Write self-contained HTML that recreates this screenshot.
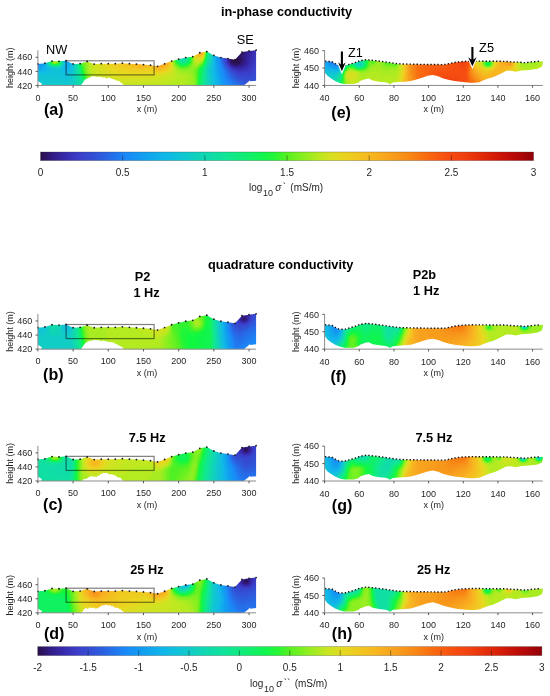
<!DOCTYPE html><html><head><meta charset="utf-8"><title>conductivity</title><style>html,body{margin:0;padding:0;background:#fff;overflow:hidden}svg{display:block}</style></head><body><svg width="550" height="696" viewBox="0 0 550 696" font-family="'Liberation Sans', Arial, sans-serif">
<rect width="550" height="696" fill="#fff"/>
<defs><clipPath id="ca"><polygon points="37.9,63.95 44.94,63.25 51.98,61.05 59.02,61.35 66.05,60.75 73.09,63.95 80.13,63.65 87.17,61.45 94.21,64.05 101.25,63.65 108.29,63.65 115.33,63.65 122.36,63.15 129.4,63.65 136.44,64.05 143.48,64.55 150.52,65.15 157.56,66.35 164.6,63.85 171.64,61.05 178.67,59.15 185.71,57.55 192.75,56.65 199.79,52.75 206.83,51.55 213.87,55.45 220.91,57.55 227.94,58.55 234.98,59.65 242.02,52.05 249.06,50.95 256.1,50.15 256.1,80.65 250.5,81.25 249.6,80.45 248.5,81.75 244.7,84.75 244,85.55 124,85.55 123,84.25 122.17,83.46 121.33,82.48 120.5,82.45 119.55,81.32 118.6,81.25 117.7,80.55 116.8,80.16 115.9,80.69 115,79.47 114.1,79.63 113.2,79.05 112.28,79.08 111.37,78.26 110.45,78.15 109.53,77.99 108.62,77.53 107.7,78.05 106.8,78.42 105.9,78.19 105,77.56 104.1,77.07 103.2,77.76 102.3,77.25 101.38,77.22 100.47,76.71 99.55,76.78 98.63,76.7 97.72,77.19 96.8,76.65 95.9,76.62 95,76.81 94.1,75.98 93.2,76.42 92.3,76.08 91.4,76.95 90.58,76.53 89.75,77.83 88.92,78.08 88.1,77.85 87.23,78.44 86.37,78.94 85.5,79.25 84.6,80.01 83.7,81.25 82.85,82.94 82,83.75 81,85.55 41,85.55 42,83.65 37.9,81.05"/></clipPath><clipPath id="cb"><polygon points="37.9,327.65 44.94,326.95 51.98,324.75 59.02,325.05 66.05,324.45 73.09,327.65 80.13,327.35 87.17,325.15 94.21,327.75 101.25,327.35 108.29,327.35 115.33,327.35 122.36,326.85 129.4,327.35 136.44,327.75 143.48,328.25 150.52,328.85 157.56,330.05 164.6,327.55 171.64,324.75 178.67,322.85 185.71,321.25 192.75,320.35 199.79,316.45 206.83,315.25 213.87,319.15 220.91,321.25 227.94,322.25 234.98,323.35 242.02,315.75 249.06,314.65 256.1,313.85 256.1,344.35 250.5,344.95 249.6,344.15 248.5,345.45 244.7,348.45 244,349.25 124,349.25 123,347.95 122.17,346.69 121.33,346.64 120.5,346.15 119.55,345.89 118.6,344.95 117.7,344.57 116.8,344.68 115.9,343.76 115,343.84 114.1,342.46 113.2,342.75 112.28,342.33 111.37,342.27 110.45,341.98 109.53,342.31 108.62,341.87 107.7,341.75 106.8,341.15 105.9,341.81 105,340.54 104.1,341.08 103.2,340.27 102.3,340.95 101.38,341.05 100.47,340.7 99.55,340.41 98.63,340.2 97.72,339.97 96.8,340.35 95.9,339.76 95,340.44 94.1,339.94 93.2,339.65 92.3,340.83 91.4,340.65 90.58,340.73 89.75,340.78 88.92,341.31 88.1,341.55 87.23,341.77 86.37,342.57 85.5,342.95 84.6,344.28 83.7,344.95 82.85,346.6 82,347.45 81,349.25 41,349.25 42,347.35 37.9,344.75"/></clipPath><clipPath id="cc"><polygon points="37.9,459.5 44.94,458.8 51.98,456.6 59.02,456.9 66.05,456.3 73.09,459.5 80.13,459.2 87.17,457 94.21,459.6 101.25,459.2 108.29,459.2 115.33,459.2 122.36,458.7 129.4,459.2 136.44,459.6 143.48,460.1 150.52,460.7 157.56,461.9 164.6,459.4 171.64,456.6 178.67,454.7 185.71,453.1 192.75,452.2 199.79,448.3 206.83,447.1 213.87,451 220.91,453.1 227.94,454.1 234.98,455.2 242.02,447.6 249.06,446.5 256.1,445.7 256.1,476.2 250.5,476.8 249.6,476 248.5,477.3 244.7,480.3 244,481.1 124,481.1 122.95,480.38 121.9,479.6 121.08,478.27 120.25,477.66 119.42,477.56 118.6,477.5 117.7,477.13 116.8,477.05 115.9,475.22 115,475.83 114.1,475.22 113.2,474.7 112.38,474.49 111.55,474.44 110.73,474.13 109.9,474.2 109.02,474.24 108.14,473.89 107.26,472.65 106.38,472.94 105.5,473.1 104.64,472.93 103.78,472.76 102.92,473.35 102.06,473.47 101.2,474.2 100.32,474.08 99.44,475.4 98.56,475.91 97.68,475.56 96.8,476.9 95.97,477.31 95.15,476.36 94.33,477.04 93.5,476.4 92.64,476.55 91.78,476.06 90.92,476.56 90.06,476.52 89.2,476.9 88.32,477.62 87.44,478.18 86.56,478.64 85.68,479.11 84.8,479.1 83.85,479.11 82.9,479.96 81.95,481 81,481.1 41,481.1 42,479.2 37.9,476.6"/></clipPath><clipPath id="cd"><polygon points="37.9,591.35 44.94,590.65 51.98,588.45 59.02,588.75 66.05,588.15 73.09,591.35 80.13,591.05 87.17,588.85 94.21,591.45 101.25,591.05 108.29,591.05 115.33,591.05 122.36,590.55 129.4,591.05 136.44,591.45 143.48,591.95 150.52,592.55 157.56,593.75 164.6,591.25 171.64,588.45 178.67,586.55 185.71,584.95 192.75,584.05 199.79,580.15 206.83,578.95 213.87,582.85 220.91,584.95 227.94,585.95 234.98,587.05 242.02,579.45 249.06,578.35 256.1,577.55 256.1,608.05 250.5,608.65 249.6,607.85 248.5,609.15 244.7,612.15 244,612.95 124,612.95 123,611.05 122.12,610.63 121.24,610.4 120.36,608.64 119.48,609.37 118.6,608.35 117.79,607.81 116.97,607.74 116.16,607.76 115.35,607.66 114.54,607.26 113.72,607.2 112.91,605.59 112.1,606.15 111.18,606.18 110.27,605.15 109.35,605.05 108.43,605.68 107.52,604.94 106.6,604.85 105.53,604.85 104.47,605.24 103.4,605.55 102.58,605.01 101.75,605.43 100.92,606.41 100.1,606.57 99.28,607.26 98.45,607.44 97.62,608.37 96.8,608.35 95.9,608.76 95,608.2 94.1,608.04 93.2,607.61 92.3,607.9 91.4,607.75 90.58,607.91 89.75,607.32 88.92,608.08 88.1,608.65 87.28,608.71 86.45,608.33 85.62,608.1 84.8,608.85 83.97,609.29 83.15,610.88 82.33,611.41 81.5,612.95 41,612.95 42,611.05 37.9,608.45"/></clipPath><clipPath id="ce"><polygon points="324.6,61.3 332,61.8 335.6,64 339.3,65.8 344.7,65.8 349.3,64.5 355.6,62.7 360.2,60.8 366.5,59.9 372.4,60.45 378.2,61.15 384,61.95 389.8,62.75 395.6,63.65 400,64.15 420,64.55 445.5,64.85 451.8,63.1 459,62 465.5,61.5 470,61.3 505,61.55 515,62.35 520,62.35 524.6,63.15 530,62.25 542.8,61.15 542.8,63.85 541.8,66.85 537.7,68.85 529.5,70.05 521.4,70.55 515.6,71.75 510.9,70.75 506.4,70.85 501.8,73.15 497.3,75.35 492.7,77.25 488.2,78.55 483.6,80.35 479.1,82.15 474.5,82.65 470,82.65 465.5,82.25 460.9,81.75 456.4,81.25 451.8,80.45 447.3,79.45 442.7,78.15 438.2,76.25 432.7,74.95 427.5,75.85 423.6,77.15 417.3,79.15 410.9,81.05 404.5,81.65 398.2,82.05 393.1,82.45 391.5,83.25 389.9,84.25 388.5,83.25 385.5,82.25 379.1,81.65 372.7,80.45 368.9,78.45 365.1,79.15 362.9,80.05 360,81.05 358.4,82.65 353.8,84.05 344.7,84.05 340.2,83.15 335.6,81.25 331.1,78.55 327.5,75.85 324.6,72.15"/></clipPath><clipPath id="cf"><polygon points="324.6,325 332,325.5 335.6,327.7 339.3,329.5 344.7,329.5 349.3,328.2 355.6,326.4 360.2,324.5 366.5,323.6 372.4,324.15 378.2,324.85 384,325.65 389.8,326.45 395.6,327.35 400,327.85 420,328.25 445.5,328.55 451.8,326.8 459,325.7 465.5,325.2 470,325 505,325.25 515,326.05 520,326.05 524.6,326.85 530,325.95 542.8,324.85 542.8,327.55 541.8,330.55 537.7,332.55 529.5,333.75 521.4,334.25 515.6,335.45 510.9,334.45 506.4,334.55 501.8,336.85 497.3,339.05 492.7,340.95 488.2,342.25 483.6,344.05 479.1,345.85 474.5,346.35 470,346.35 465.5,345.95 460.9,345.45 456.4,344.95 451.8,344.15 447.3,343.15 442.7,341.85 438.2,339.95 432.7,338.65 427.5,339.55 423.6,340.85 417.3,342.85 410.9,344.75 404.5,345.35 398.2,345.75 393.1,346.15 391.5,346.95 389.9,347.95 388.5,346.95 385.5,345.95 379.1,345.35 372.7,344.15 368.9,342.15 365.1,342.85 362.9,343.75 360,344.75 358.4,346.35 353.8,347.75 344.7,347.75 340.2,346.85 335.6,344.95 331.1,342.25 327.5,339.55 324.6,335.85"/></clipPath><clipPath id="cg"><polygon points="324.6,456.85 332,457.35 335.6,459.55 339.3,461.35 344.7,461.35 349.3,460.05 355.6,458.25 360.2,456.35 366.5,455.45 372.4,456 378.2,456.7 384,457.5 389.8,458.3 395.6,459.2 400,459.7 420,460.1 445.5,460.4 451.8,458.65 459,457.55 465.5,457.05 470,456.85 505,457.1 515,457.9 520,457.9 524.6,458.7 530,457.8 542.8,456.7 542.8,459.4 541.8,462.4 537.7,464.4 529.5,465.6 521.4,466.1 515.6,467.3 510.9,466.3 506.4,466.4 501.8,468.7 497.3,470.9 492.7,472.8 488.2,474.1 483.6,475.9 479.1,477.7 474.5,478.2 470,478.2 465.5,477.8 460.9,477.3 456.4,476.8 451.8,476 447.3,475 442.7,473.7 438.2,471.8 432.7,470.5 427.5,471.4 423.6,472.7 417.3,474.7 410.9,476.6 404.5,477.2 398.2,477.6 393.1,478 391.5,478.8 389.9,479.8 388.5,478.8 385.5,477.8 379.1,477.2 372.7,476 368.9,474 365.1,474.7 362.9,475.6 360,476.6 358.4,478.2 353.8,479.6 344.7,479.6 340.2,478.7 335.6,476.8 331.1,474.1 327.5,471.4 324.6,467.7"/></clipPath><clipPath id="ch"><polygon points="324.6,588.7 332,589.2 335.6,591.4 339.3,593.2 344.7,593.2 349.3,591.9 355.6,590.1 360.2,588.2 366.5,587.3 372.4,587.85 378.2,588.55 384,589.35 389.8,590.15 395.6,591.05 400,591.55 420,591.95 445.5,592.25 451.8,590.5 459,589.4 465.5,588.9 470,588.7 505,588.95 515,589.75 520,589.75 524.6,590.55 530,589.65 542.8,588.55 542.8,591.25 541.8,594.25 537.7,596.25 529.5,597.45 521.4,597.95 515.6,599.15 510.9,598.15 506.4,598.25 501.8,600.55 497.3,602.75 492.7,604.65 488.2,605.95 483.6,607.75 479.1,609.55 474.5,610.05 470,610.05 465.5,609.65 460.9,609.15 456.4,608.65 451.8,607.85 447.3,606.85 442.7,605.55 438.2,603.65 432.7,602.35 427.5,603.25 423.6,604.55 417.3,606.55 410.9,608.45 404.5,609.05 398.2,609.45 393.1,609.85 391.5,610.65 389.9,611.65 388.5,610.65 385.5,609.65 379.1,609.05 372.7,607.85 368.9,605.85 365.1,606.55 362.9,607.45 360,608.45 358.4,610.05 353.8,611.45 344.7,611.45 340.2,610.55 335.6,608.65 331.1,605.95 327.5,603.25 324.6,599.55"/></clipPath><linearGradient id="g1"><stop offset="0.000" stop-color="#2a0e4a"/><stop offset="0.025" stop-color="#321c85"/><stop offset="0.050" stop-color="#372aab"/><stop offset="0.075" stop-color="#3c3bc7"/><stop offset="0.100" stop-color="#354bd1"/><stop offset="0.125" stop-color="#2d5cdd"/><stop offset="0.150" stop-color="#2372ec"/><stop offset="0.175" stop-color="#198af7"/><stop offset="0.200" stop-color="#1399f2"/><stop offset="0.225" stop-color="#10a8ed"/><stop offset="0.250" stop-color="#10b6e9"/><stop offset="0.275" stop-color="#10c1db"/><stop offset="0.300" stop-color="#10cbca"/><stop offset="0.325" stop-color="#10d5b6"/><stop offset="0.350" stop-color="#10dda5"/><stop offset="0.375" stop-color="#10e596"/><stop offset="0.400" stop-color="#10eb80"/><stop offset="0.425" stop-color="#10f068"/><stop offset="0.450" stop-color="#10f54f"/><stop offset="0.475" stop-color="#25f637"/><stop offset="0.500" stop-color="#58f020"/><stop offset="0.525" stop-color="#7df020"/><stop offset="0.550" stop-color="#a5eb20"/><stop offset="0.575" stop-color="#c8e520"/><stop offset="0.600" stop-color="#e1db20"/><stop offset="0.625" stop-color="#edce20"/><stop offset="0.650" stop-color="#f3c120"/><stop offset="0.675" stop-color="#f8b420"/><stop offset="0.700" stop-color="#f8a61f"/><stop offset="0.725" stop-color="#f8971a"/><stop offset="0.750" stop-color="#f88615"/><stop offset="0.775" stop-color="#f87211"/><stop offset="0.800" stop-color="#f85e10"/><stop offset="0.825" stop-color="#f74d10"/><stop offset="0.850" stop-color="#f24410"/><stop offset="0.875" stop-color="#ea360d"/><stop offset="0.900" stop-color="#df2708"/><stop offset="0.925" stop-color="#d11908"/><stop offset="0.950" stop-color="#c00d08"/><stop offset="0.975" stop-color="#ad0708"/><stop offset="1.000" stop-color="#900008"/></linearGradient><linearGradient id="g2"><stop offset="0.000" stop-color="#2a0e4a"/><stop offset="0.025" stop-color="#321c85"/><stop offset="0.050" stop-color="#372aab"/><stop offset="0.075" stop-color="#3c3bc7"/><stop offset="0.100" stop-color="#354bd1"/><stop offset="0.125" stop-color="#2d5cdd"/><stop offset="0.150" stop-color="#2372ec"/><stop offset="0.175" stop-color="#198af7"/><stop offset="0.200" stop-color="#1399f2"/><stop offset="0.225" stop-color="#10a8ed"/><stop offset="0.250" stop-color="#10b6e9"/><stop offset="0.275" stop-color="#10c1db"/><stop offset="0.300" stop-color="#10cbca"/><stop offset="0.325" stop-color="#10d5b6"/><stop offset="0.350" stop-color="#10dda5"/><stop offset="0.375" stop-color="#10e596"/><stop offset="0.400" stop-color="#10eb80"/><stop offset="0.425" stop-color="#10f068"/><stop offset="0.450" stop-color="#10f54f"/><stop offset="0.475" stop-color="#25f637"/><stop offset="0.500" stop-color="#58f020"/><stop offset="0.525" stop-color="#7df020"/><stop offset="0.550" stop-color="#a5eb20"/><stop offset="0.575" stop-color="#c8e520"/><stop offset="0.600" stop-color="#e1db20"/><stop offset="0.625" stop-color="#edce20"/><stop offset="0.650" stop-color="#f3c120"/><stop offset="0.675" stop-color="#f8b420"/><stop offset="0.700" stop-color="#f8a61f"/><stop offset="0.725" stop-color="#f8971a"/><stop offset="0.750" stop-color="#f88615"/><stop offset="0.775" stop-color="#f87211"/><stop offset="0.800" stop-color="#f85e10"/><stop offset="0.825" stop-color="#f74d10"/><stop offset="0.850" stop-color="#f24410"/><stop offset="0.875" stop-color="#ea360d"/><stop offset="0.900" stop-color="#df2708"/><stop offset="0.925" stop-color="#d11908"/><stop offset="0.950" stop-color="#c00d08"/><stop offset="0.975" stop-color="#ad0708"/><stop offset="1.000" stop-color="#900008"/></linearGradient></defs>
<g clip-path="url(#ca)" stroke-width="1">
<path stroke="#2a0e4a" d="M232.5 58v3M233.5 57v6M234.5 58v5M235.5 57v6M236.5 57v6M237.5 58v5M238.5 59v4"/>
<path stroke="#2d135e" d="M231.5 57v6M232.5 57v1M232.5 61v3M233.5 63v1M234.5 63v2M235.5 63v2M236.5 56v1M236.5 63v2M237.5 55v3M237.5 63v2M238.5 54v5M238.5 63v1M239.5 53v11M240.5 52v11M241.5 51v4M241.5 58v4M242.5 50v3"/>
<path stroke="#301872" d="M230.5 57v6M231.5 63v1M232.5 64v1M233.5 64v1M235.5 65v1M236.5 65v1M237.5 65v1M238.5 64v1M239.5 64v1M240.5 63v2M241.5 55v3M241.5 62v2M242.5 53v10M243.5 50v11M244.5 50v3"/>
<path stroke="#321b82" d="M229.5 58v4M230.5 63v1M231.5 64v1M233.5 65v1M234.5 65v1M238.5 65v1M239.5 65v1M240.5 65v1M241.5 64v2M242.5 63v2M243.5 61v3M244.5 53v10M245.5 50v7M246.5 49v4"/>
<path stroke="#331f93" d="M229.5 57v1M229.5 62v1M230.5 64v1M231.5 65v1M232.5 65v1M233.5 66v1M234.5 66v1M235.5 66v1M236.5 66v1M237.5 66v1M238.5 66v1M239.5 66v1M240.5 66v1M241.5 66v1M242.5 65v1M243.5 64v2M244.5 63v2M245.5 57v7M246.5 53v9M247.5 49v7M248.5 49v4"/>
<path stroke="#35239f" d="M228.5 58v4M229.5 63v1M232.5 66v1M234.5 67v1M235.5 67v1M236.5 67v1M237.5 67v1M238.5 67v1M239.5 67v1M240.5 67v1M241.5 67v1M242.5 66v1M243.5 66v1M244.5 65v1M245.5 64v2M246.5 62v3M247.5 56v7M248.5 53v8M249.5 49v8M250.5 49v4"/>
<path stroke="#3628a8" d="M228.5 57v1M228.5 62v1M229.5 64v1M230.5 65v1M231.5 66v1M233.5 67v1M235.5 68v1M236.5 68v1M237.5 68v1M238.5 68v1M239.5 68v1M240.5 68v1M241.5 68v1M242.5 67v2M243.5 67v1M244.5 66v2M245.5 66v1M246.5 65v2M247.5 63v3M248.5 61v4M249.5 57v6M250.5 53v7M251.5 49v7M252.5 49v4M253.5 48v3"/>
<path stroke="#382eb1" d="M227.5 58v4M228.5 63v1M229.5 65v1M230.5 66v1M232.5 67v1M233.5 68v1M234.5 68v1M236.5 69v1M237.5 69v1M238.5 69v1M239.5 69v2M240.5 69v2M241.5 69v1M242.5 69v1M243.5 68v2M244.5 68v1M245.5 67v2M246.5 67v2M247.5 66v2M248.5 65v2M249.5 63v3M250.5 60v5M251.5 56v6M252.5 53v6M253.5 51v5M254.5 48v6M255.5 48v4M256.5 49v1"/>
<path stroke="#3933b9" d="M227.5 56v2M227.5 62v1M228.5 64v1M231.5 67v1M232.5 68v1M234.5 69v1M235.5 69v1M237.5 70v1M238.5 70v1M239.5 71v1M240.5 71v1M241.5 70v2M242.5 70v1M243.5 70v1M244.5 69v2M245.5 69v2M246.5 69v1M247.5 68v2M248.5 67v3M249.5 66v3M250.5 65v3M251.5 62v4M252.5 59v5M253.5 56v6M254.5 54v5M255.5 52v5M256.5 50v5M257.5 50v5"/>
<path stroke="#3b38c2" d="M226.5 58v4M227.5 63v1M228.5 65v1M229.5 66v1M230.5 67v1M231.5 68v1M233.5 69v1M235.5 70v1M236.5 70v1M237.5 71v1M238.5 71v1M239.5 72v1M240.5 72v1M241.5 72v1M242.5 71v2M243.5 71v2M244.5 71v1M245.5 71v1M246.5 70v2M247.5 70v2M248.5 70v2M249.5 69v2M250.5 68v3M251.5 66v4M252.5 64v4M253.5 62v4M254.5 59v5M255.5 57v5M256.5 55v5M257.5 55v5"/>
<path stroke="#3b3ec9" d="M226.5 56v2M226.5 62v1M227.5 64v1M229.5 67v1M232.5 69v1M233.5 70v1M234.5 70v1M235.5 71v1M236.5 71v1M237.5 72v1M238.5 72v2M239.5 73v1M240.5 73v1M241.5 73v1M242.5 73v1M243.5 73v1M244.5 72v2M245.5 72v2M246.5 72v2M247.5 72v2M248.5 72v2M249.5 71v2M250.5 71v2M251.5 70v2M252.5 68v3M253.5 66v4M254.5 64v4M255.5 62v4M256.5 60v5M257.5 60v4"/>
<path stroke="#3942cc" d="M225.5 58v3M226.5 63v1M227.5 65v1M228.5 66v1M230.5 68v1M231.5 69v1M232.5 70v1M234.5 71v1M235.5 72v1M236.5 72v2M237.5 73v1M238.5 74v1M239.5 74v1M240.5 74v2M241.5 74v2M242.5 74v2M243.5 74v2M244.5 74v2M245.5 74v2M246.5 74v2M247.5 74v2M248.5 74v2M249.5 73v3M250.5 73v2M251.5 72v3M252.5 71v3M253.5 70v3M254.5 68v4M255.5 66v4M256.5 65v4M257.5 64v5"/>
<path stroke="#3747cf" d="M225.5 56v2M225.5 61v2M226.5 64v1M227.5 66v1M228.5 67v1M229.5 68v1M230.5 69v1M231.5 70v1M232.5 71v1M233.5 71v1M234.5 72v1M235.5 73v1M236.5 74v1M237.5 74v2M238.5 75v1M239.5 75v2M240.5 76v1M241.5 76v1M242.5 76v1M243.5 76v2M244.5 76v2M245.5 76v2M246.5 76v2M247.5 76v2M248.5 76v2M249.5 76v2M250.5 75v3M251.5 75v2M252.5 74v3M253.5 73v3M254.5 72v3M255.5 70v4M256.5 69v5M257.5 69v4"/>
<path stroke="#344cd2" d="M224.5 58v3M225.5 63v1M226.5 65v1M228.5 68v1M229.5 69v1M230.5 70v1M231.5 71v1M233.5 72v2M234.5 73v2M235.5 74v2M236.5 75v1M237.5 76v1M238.5 76v2M239.5 77v1M240.5 77v2M241.5 77v2M242.5 77v2M243.5 78v1M244.5 78v2M245.5 78v2M246.5 78v2M247.5 78v2M248.5 78v2M249.5 78v2M250.5 78v2M251.5 77v3M252.5 77v3M253.5 76v3M254.5 75v4M255.5 74v5M256.5 74v4M257.5 73v5"/>
<path stroke="#3251d5" d="M224.5 56v2M224.5 61v2M225.5 64v1M226.5 66v1M227.5 67v1M231.5 72v1M232.5 72v2M233.5 74v1M234.5 75v1M235.5 76v1M236.5 76v2M237.5 77v1M238.5 78v1M239.5 78v2M240.5 79v1M241.5 79v1M242.5 79v2M243.5 79v2M244.5 80v2M245.5 80v2M246.5 80v2M247.5 80v2M248.5 80v2M249.5 80v3M250.5 80v3M251.5 80v3M252.5 80v3M253.5 79v4M254.5 79v4M255.5 79v4M256.5 78v4M257.5 78v3"/>
<path stroke="#3056d9" d="M223.5 57v4M224.5 63v1M225.5 65v1M226.5 67v1M227.5 68v1M228.5 69v1M229.5 70v1M230.5 71v2M231.5 73v1M232.5 74v1M233.5 75v2M234.5 76v2M235.5 77v1M236.5 78v1M237.5 78v2M238.5 79v2M239.5 80v1M240.5 80v2M241.5 80v2M242.5 81v1M243.5 81v2M244.5 82v2M245.5 82v2M246.5 82v2M247.5 82v3M248.5 82v2"/>
<path stroke="#2c5ddd" d="M223.5 56v1M223.5 61v2M224.5 64v2M225.5 66v1M226.5 68v1M227.5 69v1M228.5 70v1M229.5 71v2M230.5 73v1M231.5 74v2M232.5 75v2M233.5 77v1M234.5 78v1M235.5 78v2M236.5 79v2M237.5 80v1M238.5 81v1M239.5 81v2M240.5 82v1M241.5 82v2M242.5 82v2M243.5 83v2M244.5 84v2M245.5 84v2M246.5 84v1"/>
<path stroke="#2964e2" d="M222.5 56v5M223.5 63v2M224.5 66v1M225.5 67v1M226.5 69v1M227.5 70v1M228.5 71v2M229.5 73v1M230.5 74v2M231.5 76v1M232.5 77v2M233.5 78v2M234.5 79v2M235.5 80v1M236.5 81v1M237.5 81v2M238.5 82v1M239.5 83v1M240.5 83v2M241.5 84v1M242.5 84v4M243.5 85v3M244.5 86v1"/>
<path stroke="#266be7" d="M222.5 61v3M223.5 65v1M224.5 67v1M225.5 68v2M226.5 70v1M227.5 71v2M228.5 73v2M229.5 74v3M230.5 76v2M231.5 77v2M232.5 79v1M233.5 80v1M234.5 81v1M235.5 81v2M236.5 82v2M237.5 83v1M238.5 83v2M239.5 84v2M240.5 85v3M241.5 85v3"/>
<path stroke="#2372ec" d="M221.5 56v6M222.5 64v1M223.5 66v2M224.5 68v2M225.5 70v1M226.5 71v2M227.5 73v2M228.5 75v2M229.5 77v2M230.5 78v2M231.5 79v2M232.5 80v2M233.5 81v2M234.5 82v2M235.5 83v1M236.5 84v1M237.5 84v4M238.5 85v3M239.5 86v2"/>
<path stroke="#2079f0" d="M221.5 62v2M222.5 65v2M223.5 68v1M224.5 70v1M225.5 71v3M226.5 73v3M227.5 75v3M228.5 77v3M229.5 79v2M230.5 80v2M231.5 81v2M232.5 82v2M233.5 83v2M234.5 84v2M235.5 84v4M236.5 85v3"/>
<path stroke="#1c82f5" d="M220.5 55v8M221.5 64v2M222.5 67v2M223.5 69v2M224.5 71v3M225.5 74v3M226.5 76v4M227.5 78v3M228.5 80v3M229.5 81v3M230.5 82v3M231.5 83v3M232.5 84v4M233.5 85v3M234.5 86v2"/>
<path stroke="#1989f8" d="M36.5 64v1M37.5 63v2M38.5 62v2M219.5 55v6M220.5 63v3M221.5 66v3M222.5 69v2M223.5 71v4M224.5 74v4M225.5 77v4M226.5 80v3M227.5 81v3M228.5 83v3M229.5 84v4M230.5 85v3M231.5 86v2"/>
<path stroke="#188ef6" d="M36.5 65v1M37.5 65v1M38.5 64v1M39.5 62v3M40.5 62v1M219.5 61v3M220.5 66v2M221.5 69v2M222.5 71v4M223.5 75v3M224.5 78v4M225.5 81v4M226.5 83v5M227.5 84v4M228.5 86v2"/>
<path stroke="#1693f4" d="M38.5 65v1M39.5 65v1M40.5 63v2M218.5 55v8M219.5 64v3M220.5 68v3M221.5 71v4M222.5 75v4M223.5 78v4M224.5 82v6M225.5 85v3"/>
<path stroke="#1497f3" d="M36.5 66v1M37.5 66v1M38.5 66v1M40.5 65v1M41.5 62v3M217.5 55v6M218.5 63v3M219.5 67v4M220.5 71v4M221.5 75v4M222.5 79v3M223.5 82v6"/>
<path stroke="#129cf1" d="M36.5 67v1M37.5 67v1M38.5 67v1M39.5 66v1M40.5 66v1M41.5 65v1M42.5 61v4M217.5 61v4M218.5 66v4M219.5 71v3M220.5 75v3M221.5 79v3M222.5 82v6"/>
<path stroke="#10a0f0" d="M36.5 68v1M37.5 68v1M38.5 68v1M39.5 67v1M40.5 67v1M41.5 66v1M42.5 65v1M66.5 59v2M67.5 59v2M216.5 54v9M217.5 65v4M218.5 70v4M219.5 74v4M220.5 78v4M221.5 82v6"/>
<path stroke="#10a5ee" d="M36.5 69v1M39.5 68v1M40.5 68v1M41.5 67v1M42.5 66v2M43.5 61v5M65.5 59v1M66.5 61v1M67.5 61v2M68.5 60v3M216.5 63v5M217.5 69v5M218.5 74v4M219.5 78v4M220.5 82v6"/>
<path stroke="#10aaed" d="M37.5 69v1M38.5 69v1M39.5 69v1M40.5 69v1M41.5 68v1M42.5 68v1M43.5 66v2M65.5 60v1M66.5 62v4M67.5 63v3M68.5 63v2M69.5 60v3M215.5 54v11M216.5 68v5M217.5 74v4M218.5 78v4M219.5 82v6"/>
<path stroke="#10aeeb" d="M36.5 70v1M37.5 70v1M38.5 70v1M39.5 70v1M41.5 69v1M42.5 69v1M43.5 68v1M44.5 61v8M65.5 61v1M65.5 65v3M66.5 66v3M67.5 66v2M68.5 65v2M69.5 63v2M70.5 61v2M215.5 65v8M216.5 73v4M217.5 78v4M218.5 82v6"/>
<path stroke="#10b3ea" d="M36.5 71v1M37.5 71v1M38.5 71v1M39.5 71v1M40.5 70v1M41.5 70v1M42.5 70v1M43.5 69v2M44.5 69v1M45.5 65v5M64.5 59v1M64.5 67v2M65.5 62v3M65.5 68v2M66.5 69v1M67.5 68v2M68.5 67v2M69.5 65v2M70.5 63v2M214.5 60v12M215.5 73v4M216.5 77v4M217.5 82v6"/>
<path stroke="#10b7e8" d="M36.5 72v1M37.5 72v1M38.5 72v1M40.5 71v1M41.5 71v1M42.5 71v1M43.5 71v1M44.5 70v1M45.5 64v1M45.5 70v1M46.5 66v4M47.5 68v1M64.5 60v1M64.5 65v2M64.5 69v2M65.5 70v2M66.5 70v2M67.5 70v1M68.5 69v1M69.5 67v2M70.5 65v2M71.5 61v3M214.5 54v6M214.5 72v4M215.5 77v4M216.5 81v5"/>
<path stroke="#10bbe4" d="M39.5 72v1M40.5 72v1M41.5 72v1M42.5 72v1M43.5 72v1M44.5 71v1M45.5 61v3M45.5 71v1M46.5 70v2M47.5 67v1M47.5 69v2M48.5 68v3M63.5 67v5M64.5 61v1M64.5 64v1M64.5 71v2M65.5 72v1M66.5 72v1M67.5 71v1M68.5 70v2M69.5 69v2M70.5 67v2M71.5 64v3M213.5 64v11M214.5 76v5M215.5 81v5M216.5 86v2"/>
<path stroke="#10bedf" d="M36.5 73v1M37.5 73v1M38.5 73v1M39.5 73v1M40.5 73v1M41.5 73v1M42.5 73v1M43.5 73v1M44.5 72v2M45.5 72v1M46.5 65v1M46.5 72v1M47.5 66v1M47.5 71v2M48.5 67v1M48.5 71v2M49.5 68v4M50.5 69v3M51.5 70v1M61.5 69v3M62.5 68v6M63.5 59v1M63.5 66v1M63.5 72v2M64.5 62v2M64.5 73v2M65.5 73v3M66.5 73v2M67.5 72v2M68.5 72v1M69.5 71v1M70.5 69v2M71.5 67v2M72.5 62v3M212.5 68v6M213.5 57v7M213.5 75v5M214.5 81v4M215.5 86v2"/>
<path stroke="#10c1da" d="M36.5 74v2M37.5 74v2M38.5 74v2M39.5 74v2M40.5 74v2M41.5 74v2M42.5 74v2M43.5 74v2M44.5 74v1M45.5 73v2M46.5 64v1M46.5 73v2M47.5 73v2M48.5 73v2M49.5 67v1M49.5 72v3M50.5 68v1M50.5 72v3M51.5 69v1M51.5 71v4M52.5 69v5M53.5 69v5M54.5 69v5M55.5 70v4M56.5 70v4M57.5 70v4M58.5 70v4M59.5 70v5M60.5 69v6M61.5 68v1M61.5 72v4M62.5 67v1M62.5 74v3M63.5 65v1M63.5 74v3M64.5 75v3M65.5 76v2M66.5 75v3M67.5 74v3M68.5 73v3M69.5 72v2M70.5 71v2M71.5 69v2M72.5 65v3M211.5 69v3M212.5 64v4M212.5 74v5M213.5 53v4M213.5 80v5M214.5 85v3"/>
<path stroke="#10c4d6" d="M36.5 76v3M37.5 76v3M38.5 76v3M39.5 76v3M40.5 76v3M41.5 76v3M42.5 76v3M43.5 76v3M44.5 75v4M45.5 75v4M46.5 61v1M46.5 63v1M46.5 75v4M47.5 65v1M47.5 75v4M48.5 66v1M48.5 75v4M49.5 75v4M50.5 75v4M51.5 68v1M51.5 75v4M52.5 68v1M52.5 74v4M53.5 74v4M54.5 74v4M55.5 69v1M55.5 74v5M56.5 69v1M56.5 74v5M57.5 69v1M57.5 74v5M58.5 69v1M58.5 74v5M59.5 69v1M59.5 75v4M60.5 68v1M60.5 75v4M61.5 67v1M61.5 76v4M62.5 66v1M62.5 77v3M63.5 60v1M63.5 77v3M64.5 78v3M65.5 78v3M66.5 78v3M67.5 77v3M68.5 76v3M69.5 74v4M70.5 73v3M71.5 71v2M72.5 68v3M73.5 62v3M211.5 66v3M211.5 72v6M212.5 60v4M212.5 79v6M213.5 85v3"/>
<path stroke="#10c7d1" d="M36.5 79v2M37.5 79v3M38.5 79v4M39.5 79v4M40.5 79v4M41.5 79v4M42.5 79v4M43.5 79v4M44.5 79v4M45.5 79v4M46.5 62v1M46.5 79v4M47.5 79v4M48.5 79v4M49.5 79v4M50.5 67v1M50.5 79v4M51.5 79v4M52.5 78v5M53.5 68v1M53.5 78v5M54.5 68v1M54.5 78v5M55.5 68v1M55.5 79v4M56.5 68v1M56.5 79v4M57.5 68v1M57.5 79v4M58.5 68v1M58.5 79v4M59.5 68v1M59.5 79v4M60.5 79v4M61.5 80v3M62.5 80v3M63.5 64v1M63.5 80v3M64.5 81v3M65.5 81v3M66.5 81v3M67.5 80v3M68.5 79v4M69.5 78v4M70.5 76v5M71.5 73v6M72.5 71v3M73.5 65v4M210.5 67v10M211.5 64v2M211.5 78v6M212.5 57v3M212.5 85v3"/>
<path stroke="#10cacb" d="M39.5 83v1M39.5 85v1M40.5 83v4M41.5 83v5M42.5 83v5M43.5 83v5M44.5 83v5M45.5 83v5M46.5 83v5M47.5 60v1M47.5 64v1M47.5 83v5M48.5 83v5M49.5 66v1M49.5 83v5M50.5 83v5M51.5 67v1M51.5 83v5M52.5 83v5M53.5 83v5M54.5 83v5M55.5 83v5M56.5 83v5M57.5 83v5M58.5 83v5M59.5 83v5M60.5 67v1M60.5 83v5M61.5 66v1M61.5 83v5M62.5 59v1M62.5 65v1M62.5 83v5M63.5 61v3M63.5 83v5M64.5 84v4M65.5 84v4M66.5 84v4M67.5 83v5M68.5 83v5M69.5 82v6M70.5 81v7M71.5 79v9M72.5 74v9M73.5 69v4M74.5 62v1M209.5 68v7M210.5 65v2M210.5 77v7M211.5 61v3M211.5 84v4M212.5 53v4"/>
<path stroke="#10cec5" d="M48.5 65v1M52.5 67v1M59.5 67v1M72.5 83v5M73.5 73v15M74.5 63v8M208.5 70v1M209.5 66v2M209.5 75v9M210.5 63v2M210.5 84v4M211.5 58v3"/>
<path stroke="#10d1be" d="M47.5 61v1M47.5 63v1M50.5 66v1M53.5 67v1M54.5 67v1M55.5 67v1M56.5 67v1M57.5 67v1M58.5 67v1M62.5 64v1M74.5 71v17M75.5 83v5M208.5 67v3M208.5 71v11M209.5 65v1M209.5 84v4M210.5 61v2M211.5 56v2"/>
<path stroke="#10d4b8" d="M47.5 62v1M60.5 66v1M61.5 65v1M62.5 60v1M75.5 62v21M76.5 80v8M77.5 87v1M207.5 69v6M208.5 66v1M208.5 82v6M209.5 63v2M210.5 59v2M211.5 52v4"/>
<path stroke="#10d7b2" d="M48.5 64v1M49.5 65v1M51.5 66v1M59.5 66v1M61.5 59v1M62.5 63v1M76.5 73v7M77.5 80v7M78.5 84v4M182.5 58v1M183.5 58v1M207.5 67v2M207.5 75v13M208.5 64v2M209.5 61v2M210.5 57v2"/>
<path stroke="#10daac" d="M48.5 60v1M52.5 66v1M62.5 61v2M76.5 67v6M77.5 74v6M78.5 80v4M79.5 84v4M80.5 86v2M181.5 57v2M182.5 57v1M182.5 59v1M183.5 57v1M183.5 59v1M184.5 57v2M206.5 71v17M207.5 66v1M208.5 63v1M209.5 59v2M210.5 55v2"/>
<path stroke="#10dca8" d="M50.5 65v1M53.5 66v1M58.5 66v1M60.5 65v1M61.5 64v1M76.5 62v5M77.5 72v2M78.5 76v4M79.5 81v3M80.5 84v2M81.5 85v2M181.5 59v1M182.5 56v1M183.5 56v1M184.5 59v1M206.5 68v3M207.5 65v1M208.5 61v2M209.5 58v1M210.5 52v3"/>
<path stroke="#10dfa3" d="M48.5 61v1M48.5 63v1M54.5 66v1M55.5 66v1M56.5 66v1M57.5 66v1M61.5 60v1M77.5 69v3M78.5 74v2M79.5 78v3M80.5 82v2M81.5 84v1M180.5 57v3M181.5 60v1M182.5 60v1M183.5 60v1M184.5 56v1M184.5 60v1M185.5 57v3M205.5 77v11M206.5 67v1M207.5 63v2M208.5 60v1M209.5 56v2"/>
<path stroke="#10e19e" d="M48.5 62v1M49.5 64v1M60.5 59v1M77.5 67v2M78.5 72v2M79.5 76v2M80.5 80v2M81.5 83v1M82.5 84v2M185.5 56v1M205.5 69v8M206.5 66v1M207.5 62v1M208.5 58v2M209.5 54v2"/>
<path stroke="#10e499" d="M49.5 60v1M51.5 65v1M59.5 65v1M61.5 63v1M77.5 64v3M78.5 70v2M79.5 74v2M80.5 79v1M81.5 81v2M82.5 83v1M179.5 57v3M180.5 60v1M181.5 61v1M182.5 61v1M183.5 61v1M184.5 61v1M185.5 60v1M186.5 57v3M204.5 78v10M205.5 68v1M206.5 65v1M207.5 61v1M208.5 57v1M209.5 51v3"/>
<path stroke="#10e694" d="M60.5 64v1M61.5 61v2M77.5 62v2M78.5 69v1M79.5 73v1M80.5 77v2M81.5 80v1M82.5 82v1M83.5 84v1M185.5 61v1M186.5 56v1M186.5 60v1M203.5 86v2M204.5 70v8M205.5 67v1M206.5 64v1M207.5 59v2M208.5 55v2"/>
<path stroke="#10e88e" d="M49.5 63v1M51.5 59v1M52.5 65v1M58.5 65v1M59.5 59v1M78.5 67v2M79.5 71v2M80.5 75v2M81.5 79v1M82.5 81v1M83.5 83v1M178.5 58v1M179.5 60v1M180.5 61v1M182.5 62v1M183.5 62v1M187.5 57v3M203.5 79v7M204.5 68v2M205.5 66v1M206.5 63v1M207.5 58v1M208.5 53v2"/>
<path stroke="#10ea86" d="M49.5 61v1M50.5 64v1M60.5 60v1M78.5 65v2M79.5 70v1M80.5 74v1M81.5 78v1M82.5 80v1M83.5 82v1M178.5 57v1M178.5 59v1M181.5 62v1M184.5 62v1M186.5 55v1M186.5 61v1M187.5 56v1M202.5 84v4M203.5 72v7M205.5 65v1M206.5 62v1M207.5 57v1M208.5 50v3"/>
<path stroke="#10eb7f" d="M49.5 62v1M53.5 65v1M57.5 65v1M78.5 62v3M79.5 69v1M80.5 73v1M81.5 76v2M82.5 79v1M83.5 81v1M178.5 60v1M179.5 61v1M180.5 62v1M185.5 62v1M187.5 60v1M202.5 79v5M203.5 69v3M204.5 67v1M205.5 64v1M206.5 61v1M207.5 56v1"/>
<path stroke="#10ed77" d="M50.5 60v1M52.5 59v1M54.5 65v1M55.5 65v1M56.5 65v1M58.5 59v1M59.5 64v1M60.5 63v1M79.5 67v2M80.5 71v2M81.5 75v1M82.5 78v1M83.5 80v1M177.5 58v1M182.5 63v1M183.5 63v1M186.5 62v1M187.5 55v1M187.5 61v1M188.5 57v3M201.5 83v5M202.5 73v6M203.5 68v1M204.5 66v1M206.5 60v1M207.5 54v2"/>
<path stroke="#10ef6f" d="M51.5 64v1M60.5 61v2M79.5 66v1M80.5 70v1M81.5 74v1M82.5 77v1M84.5 82v1M177.5 57v1M177.5 59v1M178.5 61v1M179.5 62v1M181.5 63v1M184.5 63v1M188.5 56v1M188.5 60v1M201.5 79v4M202.5 70v3M205.5 63v1M206.5 59v1M207.5 53v1"/>
<path stroke="#10f067" d="M50.5 63v1M53.5 59v1M57.5 59v1M59.5 60v1M79.5 65v1M80.5 69v1M81.5 73v1M82.5 76v1M83.5 79v1M84.5 81v1M177.5 60v1M180.5 63v1M185.5 63v1M187.5 62v1M200.5 83v5M201.5 74v5M202.5 69v1M203.5 67v1M204.5 65v1M205.5 62v1M206.5 58v1M207.5 50v3"/>
<path stroke="#10f260" d="M50.5 61v1M56.5 59v1M58.5 64v1M79.5 62v3M80.5 68v1M81.5 71v2M82.5 75v1M83.5 78v1M84.5 80v1M178.5 62v1M182.5 64v1M183.5 64v1M186.5 63v1M188.5 55v1M188.5 61v1M189.5 57v3M200.5 78v5M201.5 70v4M202.5 68v1M203.5 66v1M204.5 64v1M205.5 61v1M206.5 56v2"/>
<path stroke="#10f358" d="M50.5 62v1M51.5 60v1M52.5 64v1M54.5 59v1M55.5 59v1M59.5 63v1M80.5 66v2M81.5 70v1M82.5 74v1M83.5 77v1M84.5 79v1M176.5 58v2M177.5 61v1M179.5 63v1M181.5 64v1M184.5 64v1M185.5 64v1M187.5 63v1M188.5 62v1M189.5 56v1M189.5 60v1M199.5 84v4M200.5 74v4M201.5 69v1M202.5 67v1M206.5 55v1"/>
<path stroke="#10f550" d="M57.5 64v1M58.5 60v1M59.5 61v1M80.5 65v1M81.5 69v1M82.5 72v2M83.5 76v1M84.5 78v1M85.5 81v1M176.5 60v1M177.5 62v1M178.5 63v1M180.5 64v1M186.5 64v1M189.5 55v1M189.5 61v1M199.5 79v5M200.5 70v4M201.5 68v1M203.5 65v1M204.5 63v1M205.5 60v1M206.5 54v1"/>
<path stroke="#10f648" d="M59.5 62v1M80.5 64v1M81.5 67v2M82.5 71v1M83.5 75v1M84.5 77v1M85.5 80v1M176.5 61v1M179.5 64v1M182.5 65v1M183.5 65v1M184.5 65v1M188.5 63v1M190.5 58v2M199.5 74v5M200.5 69v1M201.5 67v1M202.5 66v1M205.5 59v1M206.5 53v1"/>
<path stroke="#10f840" d="M51.5 63v1M52.5 60v1M53.5 64v1M56.5 64v1M80.5 62v2M81.5 66v1M82.5 69v2M83.5 74v1M84.5 76v1M85.5 79v1M175.5 58v1M177.5 63v1M181.5 65v1M185.5 65v1M187.5 64v1M189.5 62v1M190.5 57v1M190.5 60v1M198.5 81v7M199.5 70v4M200.5 68v1M203.5 64v1M204.5 62v1M205.5 58v1M206.5 52v1"/>
<path stroke="#1ff639" d="M51.5 61v1M54.5 64v1M55.5 64v1M57.5 60v1M58.5 63v1M81.5 65v1M82.5 68v1M83.5 72v2M84.5 75v1M85.5 78v1M86.5 80v1M175.5 59v2M176.5 62v1M178.5 64v1M180.5 65v1M186.5 65v1M188.5 64v1M189.5 63v1M190.5 56v1M190.5 61v1M198.5 74v7M199.5 69v1M200.5 67v1M201.5 66v1M202.5 65v1M204.5 61v1M205.5 57v1M206.5 50v2"/>
<path stroke="#30f432" d="M51.5 62v1M58.5 61v1M81.5 63v2M82.5 66v2M83.5 70v2M84.5 74v1M85.5 77v1M86.5 79v1M175.5 61v1M179.5 65v1M181.5 66v1M182.5 66v1M183.5 66v1M184.5 66v1M185.5 66v1M187.5 65v1M190.5 55v1M190.5 62v1M197.5 87v1M198.5 70v4M199.5 68v1M203.5 63v1"/>
<path stroke="#40f32b" d="M52.5 63v1M53.5 60v1M56.5 60v1M58.5 62v1M81.5 61v2M82.5 65v1M83.5 68v2M84.5 73v1M85.5 76v1M86.5 78v1M176.5 63v1M177.5 64v1M178.5 65v1M180.5 66v1M186.5 66v1M188.5 65v1M189.5 64v1M190.5 63v1M191.5 58v3M197.5 74v13M198.5 69v1M199.5 67v1M200.5 66v1M201.5 65v1M202.5 64v1M204.5 60v1M205.5 56v1"/>
<path stroke="#50f124" d="M54.5 60v1M55.5 60v1M57.5 63v1M82.5 63v2M83.5 67v1M84.5 71v2M85.5 75v1M86.5 77v1M174.5 58v2M175.5 62v1M179.5 66v1M182.5 67v1M183.5 67v1M184.5 67v1M187.5 66v1M189.5 65v1M191.5 56v2M191.5 61v1M197.5 69v5M198.5 68v1M203.5 62v1M205.5 55v1"/>
<path stroke="#5ef020" d="M52.5 61v1M82.5 61v2M83.5 65v2M84.5 68v3M85.5 73v2M86.5 76v1M87.5 79v1M174.5 60v1M175.5 63v1M176.5 64v1M177.5 65v1M178.5 66v1M180.5 67v1M181.5 67v1M185.5 67v1M186.5 67v1M188.5 66v1M190.5 64v1M191.5 55v1M191.5 62v2M196.5 70v18M198.5 67v1M199.5 66v1M200.5 65v1M201.5 64v1M202.5 63v1M204.5 59v1M205.5 54v1"/>
<path stroke="#69f020" d="M52.5 62v1M53.5 63v1M56.5 63v1M57.5 61v1M83.5 62v3M84.5 66v2M85.5 71v2M86.5 75v1M87.5 77v2M174.5 61v1M176.5 65v1M179.5 67v1M182.5 68v1M183.5 68v1M184.5 68v1M185.5 68v1M187.5 67v1M188.5 67v1M189.5 66v1M190.5 65v1M191.5 64v1M192.5 59v2M195.5 70v4M196.5 69v1M197.5 68v1M203.5 61v1M204.5 58v1"/>
<path stroke="#75f020" d="M57.5 62v1M83.5 61v1M84.5 64v2M85.5 68v3M86.5 73v2M87.5 76v1M88.5 79v1M174.5 62v1M175.5 64v1M177.5 66v1M178.5 67v1M180.5 68v1M181.5 68v1M186.5 68v1M187.5 68v1M189.5 67v1M190.5 66v1M191.5 65v1M192.5 57v2M192.5 61v2M194.5 70v4M195.5 69v1M195.5 74v14M196.5 68v1M197.5 67v1M198.5 66v1M199.5 65v1M200.5 64v1M201.5 63v1M202.5 62v1M205.5 53v1"/>
<path stroke="#81f020" d="M53.5 61v1M54.5 63v1M55.5 63v1M56.5 61v1M84.5 60v4M85.5 65v3M86.5 69v4M87.5 75v1M88.5 77v2M173.5 59v1M174.5 63v1M175.5 65v1M176.5 66v1M177.5 67v1M179.5 68v1M181.5 69v1M182.5 69v1M183.5 69v1M184.5 69v1M185.5 69v1M186.5 69v1M187.5 69v1M188.5 68v1M189.5 68v1M190.5 67v1M191.5 66v1M192.5 56v1M192.5 63v2M193.5 69v6M194.5 68v2M194.5 74v7M195.5 68v1M196.5 67v1M197.5 66v1M198.5 65v1M199.5 64v1M203.5 60v1M204.5 57v1M205.5 52v1"/>
<path stroke="#8dee20" d="M53.5 62v1M56.5 62v1M85.5 60v5M86.5 65v4M87.5 72v3M88.5 75v2M89.5 78v2M173.5 60v2M174.5 64v1M176.5 67v1M177.5 68v1M178.5 68v1M179.5 69v1M180.5 69v1M181.5 70v1M182.5 70v1M183.5 70v1M184.5 70v2M185.5 70v2M186.5 70v1M187.5 70v1M188.5 69v2M189.5 69v2M190.5 68v3M191.5 67v6M192.5 55v1M192.5 65v12M193.5 60v4M193.5 66v3M193.5 75v11M194.5 67v1M194.5 81v7M195.5 67v1M196.5 66v1M200.5 63v1M201.5 62v1M202.5 61v1M205.5 50v2"/>
<path stroke="#9aed20" d="M54.5 61v1M55.5 61v1M86.5 60v5M87.5 65v7M88.5 73v2M89.5 76v2M90.5 78v1M173.5 62v1M174.5 65v1M175.5 66v1M176.5 68v1M177.5 69v1M178.5 69v1M179.5 70v1M180.5 70v2M181.5 71v1M182.5 71v2M183.5 71v2M184.5 72v1M185.5 72v1M186.5 71v2M187.5 71v2M188.5 71v2M189.5 71v3M189.5 84v4M190.5 71v4M190.5 81v7M191.5 73v15M192.5 77v11M193.5 58v2M193.5 64v2M193.5 86v2M194.5 65v2M195.5 66v1M196.5 65v1M197.5 65v1M198.5 64v1M199.5 63v1M203.5 59v1M204.5 56v1"/>
<path stroke="#a7eb20" d="M54.5 62v1M55.5 62v1M87.5 60v5M88.5 64v9M89.5 72v4M90.5 75v3M91.5 77v2M173.5 63v1M174.5 66v1M175.5 67v2M176.5 69v1M177.5 70v2M178.5 70v3M179.5 71v3M179.5 87v1M180.5 72v2M180.5 85v3M181.5 72v3M181.5 85v3M182.5 73v2M182.5 84v4M183.5 73v2M183.5 83v5M184.5 73v3M184.5 82v6M185.5 73v3M185.5 81v7M186.5 73v15M187.5 73v15M188.5 73v15M189.5 74v10M190.5 75v6M193.5 57v1M194.5 62v3M195.5 64v2M196.5 64v1M197.5 64v1M198.5 63v1M200.5 62v1M201.5 61v1M202.5 60v1M204.5 55v1"/>
<path stroke="#b3ea20" d="M88.5 60v4M89.5 60v12M90.5 69v6M91.5 73v4M92.5 76v2M158.5 87v1M159.5 86v2M160.5 86v2M161.5 85v3M162.5 85v3M163.5 85v3M164.5 84v4M165.5 84v4M166.5 84v4M167.5 84v4M168.5 83v5M169.5 83v5M170.5 82v6M171.5 82v6M172.5 59v2M172.5 82v6M173.5 64v2M173.5 81v7M174.5 67v1M174.5 80v8M175.5 69v3M175.5 80v8M176.5 70v5M176.5 79v9M177.5 72v16M178.5 73v15M179.5 74v13M180.5 74v11M181.5 75v10M182.5 75v9M183.5 75v8M184.5 76v6M185.5 76v5M193.5 56v1M194.5 60v2M195.5 63v1M196.5 63v1M197.5 63v1M199.5 62v1M200.5 61v1M203.5 58v1"/>
<path stroke="#c0e820" d="M90.5 61v8M91.5 65v8M92.5 70v6M93.5 74v4M94.5 76v2M95.5 77v2M96.5 78v1M121.5 84v1M122.5 84v2M123.5 85v2M124.5 85v3M125.5 85v3M126.5 85v3M127.5 85v3M128.5 85v3M129.5 85v3M130.5 85v3M131.5 85v3M132.5 85v3M133.5 85v3M134.5 85v3M135.5 85v3M136.5 85v3M137.5 85v3M138.5 85v3M139.5 84v4M140.5 84v4M141.5 84v4M142.5 84v4M143.5 84v4M144.5 84v4M145.5 84v4M146.5 84v4M147.5 84v4M148.5 84v4M149.5 83v5M150.5 83v5M151.5 83v5M152.5 83v5M153.5 83v5M154.5 83v5M155.5 83v5M156.5 83v5M157.5 82v6M158.5 82v5M159.5 82v4M160.5 82v4M161.5 81v4M162.5 81v4M163.5 81v4M164.5 80v4M165.5 80v4M166.5 79v5M167.5 79v5M168.5 78v5M169.5 77v6M170.5 77v5M171.5 75v7M172.5 61v2M172.5 74v8M173.5 66v1M173.5 72v9M174.5 68v12M175.5 72v8M176.5 75v4M193.5 55v1M194.5 58v2M195.5 61v2M196.5 62v1M197.5 62v1M198.5 62v1M199.5 61v1M201.5 60v1M202.5 59v1M204.5 54v1"/>
<path stroke="#c8e520" d="M91.5 61v4M92.5 61v9M93.5 65v9M94.5 69v7M95.5 72v5M96.5 74v4M97.5 75v4M98.5 75v4M99.5 76v3M100.5 76v3M101.5 77v2M102.5 77v2M103.5 78v2M104.5 78v1M105.5 78v2M106.5 79v1M107.5 79v1M108.5 79v1M112.5 80v1M114.5 81v1M115.5 81v1M116.5 81v1M117.5 81v1M118.5 82v1M119.5 82v1M120.5 82v2M121.5 82v2M122.5 82v2M123.5 82v3M124.5 82v3M125.5 82v3M126.5 82v3M127.5 82v3M128.5 82v3M129.5 82v3M130.5 82v3M131.5 82v3M132.5 82v3M133.5 82v3M134.5 82v3M135.5 82v3M136.5 82v3M137.5 82v3M138.5 82v3M139.5 81v3M140.5 81v3M141.5 81v3M142.5 81v3M143.5 81v3M144.5 81v3M145.5 81v3M146.5 81v3M147.5 81v3M148.5 81v3M149.5 81v2M150.5 80v3M151.5 80v3M152.5 80v3M153.5 80v3M154.5 80v3M155.5 80v3M156.5 79v4M157.5 79v3M158.5 79v3M159.5 78v4M160.5 78v4M161.5 78v3M162.5 77v4M163.5 77v4M164.5 76v4M165.5 76v4M166.5 75v4M167.5 75v4M168.5 74v4M169.5 74v3M170.5 73v4M171.5 72v3M172.5 63v2M172.5 71v3M173.5 67v5M193.5 54v1M194.5 57v1M195.5 60v1M196.5 61v1M197.5 61v1M198.5 61v1M200.5 60v1M203.5 57v1"/>
<path stroke="#d0e220" d="M93.5 62v3M94.5 62v7M95.5 62v10M96.5 64v10M97.5 67v8M98.5 69v6M99.5 70v6M100.5 71v5M101.5 72v5M102.5 73v4M103.5 74v4M104.5 74v4M105.5 75v3M106.5 75v4M107.5 76v3M108.5 76v3M109.5 77v3M110.5 77v3M111.5 77v3M112.5 78v2M113.5 78v3M114.5 78v3M115.5 78v3M116.5 79v2M117.5 79v2M118.5 79v3M119.5 79v3M120.5 79v3M121.5 79v3M122.5 79v3M123.5 79v3M124.5 79v3M125.5 79v3M126.5 79v3M127.5 79v3M128.5 79v3M129.5 79v3M130.5 79v3M131.5 79v3M132.5 79v3M133.5 79v3M134.5 79v3M135.5 79v3M136.5 79v3M137.5 79v3M138.5 79v3M139.5 79v2M140.5 78v3M141.5 78v3M142.5 78v3M143.5 78v3M144.5 78v3M145.5 78v3M146.5 78v3M147.5 78v3M148.5 78v3M149.5 78v3M150.5 78v2M151.5 77v3M152.5 77v3M153.5 77v3M154.5 77v3M155.5 77v3M156.5 77v2M157.5 77v2M158.5 76v3M159.5 76v2M160.5 76v2M161.5 75v3M162.5 75v2M163.5 75v2M164.5 74v2M165.5 74v2M166.5 74v1M167.5 73v2M168.5 73v1M169.5 72v2M170.5 72v1M171.5 59v1M171.5 71v1M172.5 65v6M195.5 59v1M196.5 60v1M198.5 60v1M199.5 60v1M201.5 59v1M202.5 58v1M204.5 53v1"/>
<path stroke="#d8df20" d="M96.5 62v2M97.5 62v5M98.5 62v7M99.5 62v8M100.5 65v6M101.5 67v5M102.5 68v5M103.5 69v5M104.5 70v4M105.5 71v4M106.5 72v3M107.5 72v4M108.5 73v3M109.5 73v4M110.5 74v3M111.5 74v3M112.5 75v3M113.5 75v3M114.5 75v3M115.5 76v2M116.5 76v3M117.5 76v3M118.5 77v2M119.5 77v2M120.5 77v2M121.5 77v2M122.5 77v2M123.5 77v2M124.5 77v2M125.5 77v2M126.5 77v2M127.5 77v2M128.5 77v2M129.5 77v2M130.5 76v3M131.5 76v3M132.5 76v3M133.5 76v3M134.5 76v3M135.5 76v3M136.5 76v3M137.5 76v3M138.5 76v3M139.5 76v3M140.5 76v2M141.5 76v2M142.5 76v2M143.5 76v2M144.5 76v2M145.5 76v2M146.5 75v3M147.5 75v3M148.5 75v3M149.5 75v3M150.5 75v3M151.5 75v2M152.5 75v2M153.5 75v2M154.5 75v2M155.5 75v2M156.5 75v2M157.5 75v2M158.5 75v1M159.5 75v1M160.5 75v1M161.5 74v1M162.5 74v1M163.5 74v1M165.5 73v1M166.5 73v1M168.5 72v1M169.5 71v1M170.5 71v1M171.5 60v3M171.5 69v2M194.5 56v1M195.5 58v1M196.5 59v1M197.5 60v1M200.5 59v1M203.5 56v1M204.5 52v1"/>
<path stroke="#dfdb20" d="M100.5 62v3M101.5 62v5M102.5 62v6M103.5 64v5M104.5 66v4M105.5 67v4M106.5 68v4M107.5 69v3M108.5 69v4M109.5 70v3M110.5 71v3M111.5 71v3M112.5 72v3M113.5 72v3M114.5 73v2M115.5 73v3M116.5 74v2M117.5 74v2M118.5 74v3M119.5 74v3M120.5 74v3M121.5 74v3M122.5 74v3M123.5 74v3M124.5 74v3M125.5 74v3M126.5 74v3M127.5 74v3M128.5 74v3M129.5 74v3M130.5 74v2M131.5 74v2M132.5 74v2M133.5 74v2M134.5 74v2M135.5 74v2M136.5 74v2M137.5 74v2M138.5 74v2M139.5 74v2M140.5 74v2M141.5 74v2M142.5 74v2M143.5 74v2M144.5 74v2M145.5 74v2M146.5 74v1M147.5 74v1M148.5 74v1M149.5 74v1M150.5 74v1M151.5 74v1M152.5 74v1M153.5 74v1M154.5 74v1M155.5 74v1M156.5 74v1M157.5 74v1M158.5 74v1M159.5 74v1M160.5 74v1M162.5 73v1M163.5 73v1M164.5 73v1M166.5 72v1M167.5 72v1M168.5 71v1M169.5 70v1M170.5 69v2M171.5 63v6M194.5 55v1M195.5 57v1M197.5 59v1M198.5 59v1M199.5 59v1M201.5 58v1M202.5 57v1M204.5 50v2"/>
<path stroke="#e7d820" d="M103.5 62v2M104.5 62v4M105.5 62v5M106.5 63v5M107.5 65v4M108.5 66v3M109.5 67v3M110.5 68v3M111.5 68v3M112.5 69v3M113.5 69v3M114.5 70v3M115.5 70v3M116.5 71v3M117.5 71v3M118.5 72v2M119.5 72v2M120.5 72v2M121.5 72v2M122.5 72v2M123.5 72v2M124.5 72v2M125.5 72v2M126.5 72v2M127.5 73v1M128.5 73v1M129.5 73v1M130.5 73v1M131.5 73v1M132.5 73v1M133.5 73v1M134.5 73v1M135.5 73v1M136.5 73v1M137.5 73v1M138.5 73v1M139.5 73v1M140.5 73v1M141.5 73v1M142.5 73v1M143.5 73v1M144.5 73v1M145.5 73v1M146.5 73v1M147.5 73v1M148.5 73v1M149.5 73v1M150.5 72v2M151.5 72v2M152.5 73v1M153.5 73v1M154.5 73v1M155.5 73v1M159.5 73v1M160.5 73v1M161.5 73v1M163.5 72v1M164.5 72v1M165.5 72v1M166.5 71v1M167.5 71v1M168.5 70v1M169.5 69v1M170.5 67v2M194.5 54v1M196.5 58v1M197.5 58v1M199.5 58v1M200.5 58v1M203.5 55v1"/>
<path stroke="#ead420" d="M106.5 62v1M107.5 62v3M108.5 62v4M109.5 62v5M110.5 64v4M111.5 65v3M112.5 66v3M113.5 67v2M114.5 67v3M115.5 68v2M116.5 68v3M117.5 69v2M118.5 69v3M119.5 70v2M120.5 70v2M121.5 70v2M122.5 70v2M123.5 70v2M124.5 70v2M125.5 71v1M126.5 71v1M127.5 71v2M128.5 71v2M129.5 71v2M130.5 71v2M131.5 71v2M132.5 72v1M133.5 72v1M134.5 72v1M135.5 72v1M136.5 72v1M137.5 72v1M138.5 72v1M139.5 72v1M140.5 72v1M141.5 72v1M142.5 72v1M143.5 72v1M144.5 72v1M145.5 72v1M146.5 72v1M147.5 72v1M148.5 71v2M149.5 71v2M150.5 71v1M151.5 71v1M152.5 71v2M153.5 72v1M154.5 72v1M155.5 72v1M156.5 73v1M157.5 73v1M158.5 73v1M161.5 72v1M162.5 72v1M164.5 71v1M165.5 71v1M167.5 70v1M168.5 69v1M169.5 68v1M170.5 60v2M170.5 63v4M195.5 56v1M196.5 57v1M198.5 58v1M201.5 57v1"/>
<path stroke="#ecd020" d="M110.5 62v2M111.5 62v3M112.5 62v4M113.5 62v5M114.5 64v3M115.5 65v3M116.5 66v2M117.5 66v3M118.5 67v2M119.5 67v3M120.5 67v3M121.5 68v2M122.5 68v2M123.5 68v2M124.5 69v1M125.5 69v2M126.5 69v2M127.5 69v2M128.5 70v1M129.5 70v1M130.5 70v1M131.5 70v1M132.5 70v2M133.5 70v2M134.5 71v1M135.5 71v1M136.5 71v1M137.5 71v1M138.5 71v1M139.5 71v1M140.5 71v1M141.5 71v1M142.5 71v1M143.5 71v1M144.5 71v1M145.5 71v1M146.5 70v2M147.5 70v2M148.5 70v1M149.5 70v1M150.5 70v1M151.5 70v1M152.5 70v1M153.5 71v1M154.5 71v1M156.5 72v1M157.5 72v1M158.5 72v1M159.5 72v1M160.5 72v1M162.5 71v1M163.5 71v1M165.5 70v1M166.5 70v1M167.5 69v1M168.5 68v1M169.5 67v1M170.5 62v1M195.5 55v1M197.5 57v1M198.5 57v1M199.5 57v1M200.5 57v1M202.5 56v1M203.5 54v1"/>
<path stroke="#eecc20" d="M114.5 62v2M115.5 62v3M116.5 62v4M117.5 62v4M118.5 64v3M119.5 65v2M120.5 65v2M121.5 66v2M122.5 66v2M123.5 66v2M124.5 67v2M125.5 67v2M126.5 67v2M127.5 68v1M128.5 68v2M129.5 68v2M130.5 69v1M131.5 69v1M132.5 69v1M133.5 69v1M134.5 69v2M135.5 70v1M136.5 70v1M137.5 70v1M138.5 70v1M139.5 70v1M140.5 70v1M141.5 70v1M142.5 70v1M143.5 70v1M144.5 70v1M145.5 69v2M146.5 69v1M147.5 69v1M148.5 69v1M149.5 69v1M150.5 68v2M151.5 68v2M152.5 69v1M153.5 69v2M154.5 70v1M155.5 71v1M156.5 71v1M157.5 71v1M159.5 71v1M160.5 71v1M161.5 71v1M163.5 70v1M164.5 70v1M166.5 69v1M168.5 67v1M169.5 65v2M195.5 54v1M196.5 56v1M201.5 56v1"/>
<path stroke="#f0c820" d="M117.5 61v1M118.5 61v3M119.5 61v4M120.5 61v4M121.5 62v4M122.5 64v2M123.5 64v2M124.5 65v2M125.5 65v2M126.5 66v1M127.5 66v2M128.5 66v2M129.5 67v1M130.5 67v2M131.5 67v2M132.5 68v1M133.5 68v1M134.5 68v1M135.5 68v2M136.5 69v1M137.5 69v1M138.5 69v1M139.5 69v1M140.5 69v1M141.5 69v1M142.5 69v1M143.5 69v1M144.5 69v1M145.5 68v1M146.5 68v1M147.5 68v1M148.5 68v1M149.5 67v2M150.5 67v1M151.5 67v1M152.5 68v1M153.5 68v1M154.5 69v1M155.5 70v1M156.5 70v1M158.5 71v1M161.5 70v1M162.5 70v1M164.5 69v1M165.5 69v1M166.5 68v1M167.5 68v1M168.5 66v1M169.5 60v5M195.5 53v1M196.5 55v1M197.5 56v1M198.5 56v1M199.5 56v1M200.5 56v1M202.5 55v1M203.5 53v1"/>
<path stroke="#f2c320" d="M121.5 61v1M122.5 61v3M123.5 61v3M124.5 61v4M125.5 63v2M126.5 64v2M127.5 64v2M128.5 65v1M129.5 65v2M130.5 66v1M131.5 66v1M132.5 66v2M133.5 67v1M134.5 67v1M135.5 67v1M136.5 68v1M137.5 68v1M138.5 68v1M139.5 68v1M140.5 68v1M141.5 68v1M142.5 68v1M143.5 68v1M144.5 67v2M145.5 67v1M146.5 67v1M147.5 67v1M148.5 66v2M149.5 66v1M150.5 66v1M151.5 66v1M152.5 66v2M153.5 67v1M154.5 68v1M155.5 69v1M157.5 70v1M158.5 70v1M159.5 70v1M160.5 70v1M162.5 69v1M163.5 69v1M165.5 68v1M167.5 67v1M168.5 65v1M197.5 55v1M201.5 55v1M203.5 52v1"/>
<path stroke="#f4bf20" d="M125.5 61v2M126.5 61v3M127.5 62v2M128.5 62v3M129.5 63v2M130.5 64v2M131.5 65v1M132.5 65v1M133.5 65v2M134.5 66v1M135.5 66v1M136.5 66v2M137.5 67v1M138.5 67v1M139.5 67v1M140.5 67v1M141.5 67v1M142.5 67v1M143.5 67v1M144.5 66v1M145.5 66v1M146.5 66v1M147.5 65v2M148.5 64v2M149.5 63v3M150.5 63v3M151.5 63v3M152.5 63v3M153.5 66v1M154.5 67v1M155.5 68v1M156.5 69v1M157.5 69v1M158.5 69v1M159.5 69v1M160.5 69v1M161.5 69v1M163.5 68v1M164.5 68v1M165.5 67v1M166.5 67v1M167.5 66v1M168.5 64v1M196.5 54v1M198.5 55v1M199.5 55v1M200.5 55v1M202.5 54v1M203.5 50v2"/>
<path stroke="#f7bb20" d="M129.5 62v1M130.5 62v2M131.5 62v3M132.5 62v3M133.5 64v1M134.5 64v2M135.5 65v1M136.5 65v1M137.5 66v1M138.5 66v1M139.5 66v1M140.5 66v1M141.5 66v1M142.5 66v1M143.5 65v2M144.5 65v1M145.5 64v2M146.5 63v3M147.5 63v2M148.5 63v1M153.5 64v2M154.5 66v1M155.5 67v1M156.5 68v1M157.5 68v1M161.5 68v1M162.5 68v1M164.5 67v1M166.5 66v1M167.5 65v1M168.5 60v4M196.5 53v1M197.5 54v1M201.5 54v1"/>
<path stroke="#f8b720" d="M133.5 62v2M134.5 62v2M135.5 62v3M136.5 63v2M137.5 64v2M138.5 65v1M139.5 65v1M140.5 65v1M141.5 65v1M142.5 64v2M143.5 63v2M144.5 63v2M145.5 63v1M154.5 64v2M155.5 66v1M156.5 67v1M158.5 68v1M159.5 68v1M160.5 68v1M162.5 67v1M163.5 67v1M164.5 66v1M165.5 66v1M166.5 65v1M167.5 63v2M197.5 53v1M198.5 54v1M199.5 54v1M200.5 54v1M202.5 53v1"/>
<path stroke="#f8b320" d="M136.5 62v1M137.5 62v2M138.5 62v3M139.5 62v3M140.5 62v3M141.5 62v3M142.5 62v2M155.5 64v2M156.5 65v2M157.5 67v1M158.5 67v1M159.5 67v1M160.5 67v1M161.5 67v1M163.5 66v1M165.5 65v1M166.5 64v1M167.5 61v2M197.5 52v1M198.5 53v1M199.5 53v1M201.5 53v1M202.5 52v1"/>
<path stroke="#f8ae20" d="M156.5 64v1M157.5 65v2M158.5 66v1M161.5 66v1M162.5 66v1M164.5 65v1M165.5 64v1M166.5 61v3M198.5 52v1M200.5 53v1M202.5 51v1"/>
<path stroke="#f8aa20" d="M157.5 64v1M158.5 64v2M159.5 66v1M160.5 66v1M162.5 65v1M163.5 65v1M164.5 64v1M165.5 61v3M198.5 51v1M199.5 51v2M200.5 52v1M201.5 52v1M202.5 50v1"/>
<path stroke="#f8a61f" d="M159.5 64v2M160.5 64v2M161.5 64v2M162.5 63v2M163.5 62v3M164.5 62v2M200.5 51v1M201.5 50v2"/>
<path stroke="#f8a11e" d="M160.5 63v1M161.5 63v1"/>
</g>
<rect x="66.1" y="60.81" width="88" height="14.08" fill="none" stroke="#000" stroke-opacity="0.5" stroke-width="1.2"/>
<g fill="#1a1a1a"><circle cx="37.9" cy="63.95" r="0.9"/><circle cx="44.94" cy="63.25" r="0.9"/><circle cx="51.98" cy="61.05" r="0.9"/><circle cx="59.02" cy="61.35" r="0.9"/><circle cx="66.05" cy="60.75" r="0.9"/><circle cx="73.09" cy="63.95" r="0.9"/><circle cx="80.13" cy="63.65" r="0.9"/><circle cx="87.17" cy="61.45" r="0.9"/><circle cx="94.21" cy="64.05" r="0.9"/><circle cx="101.25" cy="63.65" r="0.9"/><circle cx="108.29" cy="63.65" r="0.9"/><circle cx="115.33" cy="63.65" r="0.9"/><circle cx="122.36" cy="63.15" r="0.9"/><circle cx="129.4" cy="63.65" r="0.9"/><circle cx="136.44" cy="64.05" r="0.9"/><circle cx="143.48" cy="64.55" r="0.9"/><circle cx="150.52" cy="65.15" r="0.9"/><circle cx="157.56" cy="66.35" r="0.9"/><circle cx="164.6" cy="63.85" r="0.9"/><circle cx="171.64" cy="61.05" r="0.9"/><circle cx="178.67" cy="59.15" r="0.9"/><circle cx="185.71" cy="57.55" r="0.9"/><circle cx="192.75" cy="56.65" r="0.9"/><circle cx="199.79" cy="52.75" r="0.9"/><circle cx="206.83" cy="51.55" r="0.9"/><circle cx="213.87" cy="55.45" r="0.9"/><circle cx="220.91" cy="57.55" r="0.9"/><circle cx="227.94" cy="58.55" r="0.9"/><circle cx="234.98" cy="59.65" r="0.9"/><circle cx="242.02" cy="52.05" r="0.9"/><circle cx="249.06" cy="50.95" r="0.9"/><circle cx="256.1" cy="50.15" r="0.9"/></g>
<path d="M37.9 50.25V85.44H256.1" fill="none" stroke="#8c8c8c" stroke-width="1"/>
<path d="M37.9 85.44v2.3M73.09 85.44v2.3M108.29 85.44v2.3M143.48 85.44v2.3M178.67 85.44v2.3M213.87 85.44v2.3M249.06 85.44v2.3M37.9 85.44h-2.3M37.9 71.37h-2.3M37.9 57.29h-2.3" stroke="#555" stroke-width="1"/>
<g font-size="9" fill="#262626" text-anchor="middle">
<text x="37.9" y="100.64">0</text>
<text x="73.09" y="100.64">50</text>
<text x="108.29" y="100.64">100</text>
<text x="143.48" y="100.64">150</text>
<text x="178.67" y="100.64">200</text>
<text x="213.87" y="100.64">250</text>
<text x="249.06" y="100.64">300</text>
</g>
<g font-size="9" fill="#262626" text-anchor="end">
<text x="32.3" y="88.64">420</text>
<text x="32.3" y="74.57">440</text>
<text x="32.3" y="60.49">460</text>
</g>
<text font-size="9" fill="#262626" text-anchor="middle" transform="translate(12.6 67.84) rotate(-90)">height (m)</text>
<text font-size="9" fill="#262626" text-anchor="middle" x="147" y="112.44">x (m)</text>
<text font-size="16" font-weight="bold" fill="#000" x="44" y="114.55">(a)</text>
<g clip-path="url(#cb)" stroke-width="1">
<path stroke="#301872" d="M242.5 318v2M243.5 317v3M244.5 317v3M245.5 318v2"/>
<path stroke="#321b82" d="M241.5 318v2M242.5 316v2M242.5 320v1M243.5 316v1M243.5 320v1M244.5 315v2M244.5 320v1M245.5 316v2M245.5 320v1M246.5 318v2"/>
<path stroke="#331f93" d="M240.5 318v1M241.5 316v2M241.5 320v1M242.5 315v1M243.5 314v2M244.5 313v2M244.5 321v1M245.5 313v3M246.5 315v3M246.5 320v1"/>
<path stroke="#35239f" d="M240.5 316v2M240.5 319v2M241.5 315v1M242.5 314v1M242.5 321v1M243.5 321v1M245.5 321v1M246.5 313v2M247.5 316v4"/>
<path stroke="#3628a8" d="M239.5 317v3M240.5 315v1M241.5 314v1M241.5 321v1M244.5 322v1M246.5 321v1M247.5 313v3M247.5 320v1M248.5 317v2"/>
<path stroke="#382eb1" d="M238.5 317v3M239.5 316v1M239.5 320v1M240.5 321v1M241.5 322v1M242.5 322v1M243.5 322v1M245.5 322v1M247.5 321v1M248.5 313v4M248.5 319v1"/>
<path stroke="#3933b9" d="M238.5 320v1M239.5 321v1M240.5 322v1M244.5 323v1M246.5 322v1M248.5 320v1M249.5 313v6"/>
<path stroke="#3b38c2" d="M237.5 318v3M238.5 321v1M239.5 322v1M241.5 323v1M242.5 323v1M243.5 323v1M245.5 323v1M247.5 322v1M248.5 321v1M249.5 319v2M250.5 312v5"/>
<path stroke="#3b3ec9" d="M236.5 320v1M237.5 321v2M238.5 322v1M239.5 323v1M240.5 323v1M242.5 324v1M243.5 324v1M244.5 324v1M246.5 323v1M248.5 322v1M249.5 321v1M250.5 317v3M251.5 312v4"/>
<path stroke="#3942cc" d="M235.5 321v1M236.5 321v2M237.5 323v1M238.5 323v2M239.5 324v1M240.5 324v1M241.5 324v1M245.5 324v1M246.5 324v1M247.5 323v1M250.5 320v1M251.5 316v3M252.5 312v5M253.5 312v2"/>
<path stroke="#3747cf" d="M234.5 321v1M235.5 322v2M236.5 323v2M237.5 324v1M238.5 325v1M239.5 325v1M240.5 325v1M241.5 325v1M242.5 325v1M243.5 325v1M244.5 325v1M245.5 325v1M247.5 324v1M248.5 323v1M249.5 322v1M250.5 321v1M251.5 319v2M252.5 317v2M253.5 314v3M254.5 312v3"/>
<path stroke="#344cd2" d="M234.5 322v3M235.5 324v2M236.5 325v2M237.5 325v2M238.5 326v2M239.5 326v2M240.5 326v2M241.5 326v2M242.5 326v1M243.5 326v1M244.5 326v1M245.5 326v1M246.5 325v1M247.5 325v1M248.5 324v1M249.5 323v1M250.5 322v1M251.5 321v1M252.5 319v2M253.5 317v3M254.5 315v3M255.5 312v5M256.5 313v3M257.5 314v1"/>
<path stroke="#3251d5" d="M233.5 321v4M234.5 325v2M235.5 326v2M236.5 327v1M237.5 327v2M238.5 328v1M239.5 328v2M240.5 328v2M241.5 328v1M242.5 327v2M243.5 327v2M244.5 327v1M245.5 327v1M246.5 326v2M247.5 326v1M248.5 325v1M249.5 324v1M250.5 323v2M251.5 322v2M252.5 321v2M253.5 320v2M254.5 318v2M255.5 317v2M256.5 316v2M257.5 315v3"/>
<path stroke="#3056d9" d="M232.5 321v3M233.5 325v2M234.5 327v2M235.5 328v2M236.5 328v2M237.5 329v2M238.5 329v2M239.5 330v2M240.5 330v1M241.5 329v2M242.5 329v1M243.5 329v1M244.5 328v2M245.5 328v1M246.5 328v1M247.5 327v1M248.5 326v1M249.5 325v2M250.5 325v1M251.5 324v1M252.5 323v1M253.5 322v2M254.5 320v3M255.5 319v3M256.5 318v3M257.5 318v3"/>
<path stroke="#2c5ddd" d="M231.5 321v3M232.5 324v3M233.5 327v2M234.5 329v2M235.5 330v2M236.5 330v2M237.5 331v2M238.5 331v2M239.5 332v2M240.5 331v2M241.5 331v2M242.5 330v2M243.5 330v1M244.5 330v1M245.5 329v2M246.5 329v1M247.5 328v2M248.5 327v2M249.5 327v1M250.5 326v2M251.5 325v2M252.5 324v2M253.5 324v2M254.5 323v2M255.5 322v2M256.5 321v3M257.5 321v2"/>
<path stroke="#2964e2" d="M230.5 321v1M231.5 324v2M232.5 327v2M233.5 329v2M234.5 331v2M235.5 332v2M236.5 332v2M237.5 333v2M238.5 333v3M239.5 334v3M240.5 333v3M241.5 333v3M242.5 332v3M243.5 331v3M244.5 331v2M245.5 331v1M246.5 330v2M247.5 330v1M248.5 329v2M249.5 328v2M250.5 328v2M251.5 327v2M252.5 326v2M253.5 326v2M254.5 325v2M255.5 324v3M256.5 324v2M257.5 323v3"/>
<path stroke="#266be7" d="M230.5 322v4M231.5 326v3M232.5 329v3M233.5 331v2M234.5 333v2M235.5 334v2M236.5 334v3M237.5 335v4M238.5 336v4M239.5 337v3M240.5 336v4M241.5 336v3M242.5 335v3M243.5 334v3M244.5 333v3M245.5 332v3M246.5 332v2M247.5 331v2M248.5 331v2M249.5 330v2M250.5 330v2M251.5 329v2M252.5 328v3M253.5 328v2M254.5 327v3M255.5 327v2M256.5 326v3M257.5 326v3"/>
<path stroke="#2372ec" d="M229.5 320v5M230.5 326v2M231.5 329v2M232.5 332v2M233.5 333v3M234.5 335v3M235.5 336v5M236.5 337v5M237.5 339v4M238.5 340v3M239.5 340v3M240.5 340v3M241.5 339v3M242.5 338v4M243.5 337v4M244.5 336v4M245.5 335v4M246.5 334v4M247.5 333v4M248.5 333v4M249.5 332v4M250.5 332v3M251.5 331v3M252.5 331v3M253.5 330v3M254.5 330v2M255.5 329v3M256.5 329v2M257.5 329v2"/>
<path stroke="#2079f0" d="M228.5 320v3M229.5 325v2M230.5 328v3M231.5 331v3M232.5 334v3M233.5 336v4M234.5 338v6M235.5 341v6M236.5 342v6M237.5 343v4M238.5 343v4M239.5 343v4M240.5 343v3M241.5 342v4M242.5 342v3M243.5 341v3M244.5 340v4M245.5 339v4M246.5 338v4M247.5 337v4M248.5 337v4M249.5 336v4M250.5 335v4M251.5 334v5M252.5 334v4M253.5 333v4M254.5 332v4M255.5 332v4M256.5 331v5M257.5 331v4"/>
<path stroke="#1c82f5" d="M228.5 323v3M229.5 327v3M230.5 331v2M231.5 334v3M232.5 337v4M233.5 340v5M234.5 344v7M235.5 347v4M236.5 348v3M237.5 347v4M238.5 347v4M239.5 347v4M240.5 346v5M241.5 346v4M242.5 345v4M243.5 344v4M244.5 344v3M245.5 343v4M246.5 342v4M247.5 341v4M248.5 341v4M249.5 340v4M250.5 339v4M251.5 339v4M252.5 338v4M253.5 337v4M254.5 336v5M255.5 336v4M256.5 336v4M257.5 335v5"/>
<path stroke="#1989f8" d="M227.5 320v4M228.5 326v3M229.5 330v3M230.5 333v3M231.5 337v4M232.5 341v4M233.5 345v6M241.5 350v1M242.5 349v2M243.5 348v3M244.5 347v4M245.5 347v3M246.5 346v3M247.5 345v3M248.5 345v2M249.5 344v2M250.5 343v4M251.5 343v4M252.5 342v4M253.5 341v5M254.5 341v4M255.5 340v5M256.5 340v4M257.5 340v4"/>
<path stroke="#188ef6" d="M227.5 324v3M228.5 329v3M229.5 333v2M230.5 336v4M231.5 341v4M232.5 345v6M252.5 346v1M253.5 346v1M254.5 345v2M255.5 345v1M256.5 344v1"/>
<path stroke="#1693f4" d="M226.5 320v5M227.5 327v4M228.5 332v3M229.5 335v5M230.5 340v5M231.5 345v6"/>
<path stroke="#1497f3" d="M226.5 325v3M227.5 331v3M228.5 335v3M229.5 340v4M230.5 345v5"/>
<path stroke="#129cf1" d="M225.5 320v5M226.5 328v4M227.5 334v3M228.5 338v5M229.5 344v5M230.5 350v1"/>
<path stroke="#10a0f0" d="M225.5 325v5M226.5 332v4M227.5 337v5M228.5 343v5M229.5 349v2"/>
<path stroke="#10a5ee" d="M224.5 320v5M225.5 330v5M226.5 336v5M227.5 342v5M228.5 348v3"/>
<path stroke="#10aaed" d="M224.5 325v7M225.5 335v5M226.5 341v5M227.5 347v4"/>
<path stroke="#10aeeb" d="M223.5 320v6M224.5 332v6M225.5 340v5M226.5 346v5"/>
<path stroke="#10b3ea" d="M223.5 326v9M224.5 338v5M225.5 345v6"/>
<path stroke="#10b7e8" d="M66.5 323v1M222.5 319v8M223.5 335v6M224.5 343v5"/>
<path stroke="#10bbe4" d="M65.5 322v4M66.5 324v3M67.5 323v3M222.5 327v11M223.5 341v5M224.5 348v3"/>
<path stroke="#10bedf" d="M64.5 323v3M65.5 326v2M66.5 327v2M67.5 326v2M68.5 324v2M221.5 319v12M222.5 338v5M223.5 346v5"/>
<path stroke="#10c1da" d="M36.5 328v2M37.5 327v3M38.5 326v4M39.5 325v4M40.5 325v3M41.5 325v2M64.5 326v2M65.5 328v2M66.5 329v1M67.5 328v2M68.5 326v3M69.5 324v2M221.5 331v9M222.5 343v5"/>
<path stroke="#10c4d6" d="M36.5 330v2M37.5 330v2M38.5 330v2M39.5 329v3M40.5 328v3M41.5 327v4M42.5 325v5M43.5 325v4M44.5 325v3M63.5 323v5M64.5 328v3M65.5 330v2M66.5 330v2M67.5 330v2M68.5 329v2M69.5 326v3M70.5 324v1M220.5 319v17M221.5 340v5M222.5 348v3"/>
<path stroke="#10c7d1" d="M36.5 332v2M37.5 332v2M38.5 332v2M39.5 332v2M40.5 331v3M41.5 331v2M42.5 330v3M43.5 329v4M44.5 328v4M45.5 325v6M46.5 324v3M62.5 323v3M63.5 328v3M64.5 331v2M65.5 332v2M66.5 332v2M67.5 332v2M68.5 331v2M69.5 329v3M70.5 325v5M219.5 319v8M220.5 336v6M221.5 345v6"/>
<path stroke="#10cacb" d="M36.5 334v3M37.5 334v3M38.5 334v3M39.5 334v3M40.5 334v2M41.5 333v3M42.5 333v3M43.5 333v3M44.5 332v3M45.5 331v4M46.5 327v6M62.5 326v6M63.5 331v3M64.5 333v2M65.5 334v2M66.5 334v2M67.5 334v2M68.5 333v3M69.5 332v3M70.5 330v3M71.5 325v5M219.5 327v11M220.5 342v7"/>
<path stroke="#10cec5" d="M36.5 337v8M37.5 337v9M38.5 337v10M39.5 337v12M40.5 336v14M41.5 336v15M42.5 336v15M43.5 336v15M44.5 335v16M45.5 335v16M46.5 333v18M47.5 324v27M48.5 333v18M49.5 336v15M50.5 336v15M51.5 337v14M52.5 337v14M53.5 337v14M54.5 337v14M55.5 337v14M56.5 336v15M57.5 336v15M58.5 336v15M59.5 336v15M60.5 335v16M61.5 323v28M62.5 332v19M63.5 334v17M64.5 335v16M65.5 336v15M66.5 336v15M67.5 336v15M68.5 336v15M69.5 335v16M70.5 333v4M70.5 345v6M71.5 330v4M71.5 349v2M72.5 325v4M218.5 319v13M219.5 338v7M220.5 349v2"/>
<path stroke="#10d1be" d="M48.5 324v9M49.5 330v6M50.5 333v3M51.5 334v3M52.5 334v3M53.5 334v3M54.5 334v3M55.5 334v3M56.5 333v3M57.5 333v3M58.5 332v4M59.5 331v5M60.5 326v9M70.5 337v8M71.5 334v4M71.5 340v9M72.5 329v4M72.5 345v6M217.5 318v6M218.5 332v8M219.5 345v6"/>
<path stroke="#10d4b8" d="M49.5 324v6M50.5 329v4M51.5 331v3M52.5 332v2M53.5 332v2M54.5 331v3M55.5 331v3M56.5 330v3M57.5 329v4M58.5 328v4M59.5 326v5M60.5 323v3M71.5 338v2M72.5 333v12M73.5 326v6M73.5 344v7M217.5 324v10M218.5 340v8"/>
<path stroke="#10d7b2" d="M50.5 326v3M51.5 328v3M52.5 329v3M53.5 329v3M54.5 329v2M55.5 328v3M56.5 327v3M57.5 326v3M58.5 323v5M59.5 323v3M73.5 332v12M74.5 326v2M74.5 344v7M216.5 318v9M217.5 334v9M218.5 348v3"/>
<path stroke="#10daac" d="M50.5 323v3M51.5 326v2M52.5 327v2M53.5 327v2M54.5 326v3M55.5 324v4M56.5 323v4M57.5 323v3M74.5 328v16M75.5 344v7M216.5 327v8M217.5 343v8"/>
<path stroke="#10dca8" d="M51.5 323v3M52.5 323v4M53.5 323v4M54.5 323v3M55.5 323v1M75.5 326v9M75.5 339v5M76.5 345v6M215.5 318v8M216.5 335v9"/>
<path stroke="#10dfa3" d="M75.5 335v4M76.5 341v4M77.5 346v5M215.5 326v9M216.5 344v7"/>
<path stroke="#10e19e" d="M76.5 326v15M77.5 343v3M78.5 348v3M214.5 317v7M215.5 335v11"/>
<path stroke="#10e499" d="M77.5 340v3M78.5 345v3M214.5 324v10M215.5 346v5"/>
<path stroke="#10e694" d="M77.5 329v11M78.5 342v3M79.5 347v4M213.5 317v3M214.5 334v13"/>
<path stroke="#10e88e" d="M77.5 325v4M78.5 339v3M79.5 345v2M213.5 320v13M214.5 347v4"/>
<path stroke="#10ea86" d="M78.5 332v7M79.5 342v3M80.5 347v4M213.5 333v17"/>
<path stroke="#10eb7f" d="M78.5 325v7M79.5 339v3M80.5 345v2M212.5 316v15M213.5 350v1"/>
<path stroke="#10ed77" d="M79.5 334v5M80.5 342v3M81.5 347v3M212.5 331v20"/>
<path stroke="#10ef6f" d="M79.5 328v6M80.5 339v3M81.5 345v2M211.5 316v11"/>
<path stroke="#10f067" d="M79.5 325v3M80.5 335v4M81.5 342v3M82.5 348v1M211.5 327v24"/>
<path stroke="#10f260" d="M80.5 331v4M81.5 339v3M82.5 345v3M210.5 315v24"/>
<path stroke="#10f358" d="M80.5 325v6M81.5 336v3M82.5 343v2M210.5 339v12"/>
<path stroke="#10f550" d="M81.5 333v3M82.5 340v3M83.5 346v2M205.5 335v16M206.5 332v19M207.5 330v21M208.5 327v24M209.5 315v36"/>
<path stroke="#10f648" d="M81.5 330v3M82.5 338v2M83.5 343v3M196.5 339v7M197.5 337v14M198.5 336v15M199.5 335v16M200.5 335v16M201.5 334v17M202.5 333v18M203.5 332v19M204.5 331v20M205.5 329v6M206.5 327v5M207.5 314v1M207.5 322v8M208.5 314v13"/>
<path stroke="#10f840" d="M81.5 325v5M82.5 335v3M83.5 341v2M187.5 334v9M188.5 334v15M189.5 334v17M190.5 334v17M191.5 334v17M192.5 334v17M193.5 334v17M194.5 334v17M195.5 334v17M196.5 334v5M196.5 346v5M197.5 334v3M198.5 333v3M199.5 333v2M200.5 332v3M201.5 332v2M202.5 331v2M203.5 330v2M204.5 329v2M205.5 326v3M206.5 313v14M207.5 315v7"/>
<path stroke="#1ff639" d="M82.5 332v3M83.5 339v2M84.5 344v3M181.5 333v4M182.5 329v11M183.5 328v17M184.5 328v23M185.5 327v24M186.5 328v23M187.5 329v5M187.5 343v8M188.5 329v5M188.5 349v2M189.5 330v4M190.5 331v3M191.5 331v3M192.5 332v2M193.5 332v2M194.5 332v2M195.5 333v1M196.5 332v2M197.5 332v2M198.5 332v1M199.5 332v1M200.5 331v1M201.5 331v1M202.5 330v1M203.5 328v2M204.5 326v3M205.5 313v13"/>
<path stroke="#30f432" d="M82.5 329v3M83.5 336v3M84.5 342v2M175.5 322v2M176.5 321v3M177.5 321v4M178.5 321v6M179.5 321v15M180.5 320v21M181.5 320v13M181.5 337v8M182.5 320v9M182.5 340v11M183.5 320v8M183.5 345v6M184.5 320v8M185.5 319v8M186.5 319v9M187.5 319v1M187.5 322v7M188.5 326v3M189.5 327v3M190.5 329v2M191.5 330v1M192.5 330v2M193.5 331v1M194.5 331v1M195.5 331v2M196.5 331v1M197.5 331v1M198.5 331v1M199.5 331v1M200.5 330v1M201.5 329v2M202.5 328v2M203.5 314v1M203.5 327v1M204.5 314v7M204.5 323v3"/>
<path stroke="#40f32b" d="M82.5 325v4M83.5 333v3M84.5 339v3M173.5 322v4M174.5 322v6M175.5 324v5M176.5 324v7M177.5 325v10M178.5 327v12M179.5 336v8M180.5 341v7M181.5 345v6M187.5 320v2M188.5 319v7M189.5 319v1M189.5 324v3M190.5 327v2M191.5 328v2M192.5 329v1M193.5 330v1M194.5 330v1M198.5 330v1M199.5 330v1M200.5 329v1M201.5 328v1M202.5 314v2M202.5 327v1M203.5 315v4M203.5 325v2M204.5 321v2"/>
<path stroke="#50f124" d="M83.5 330v3M84.5 337v2M85.5 342v3M172.5 323v2M173.5 326v5M174.5 328v5M175.5 329v6M176.5 331v7M177.5 335v8M178.5 339v8M179.5 344v7M180.5 348v3M189.5 320v4M190.5 319v2M190.5 324v3M191.5 327v1M192.5 328v1M193.5 329v1M194.5 329v1M195.5 330v1M196.5 330v1M197.5 330v1M199.5 329v1M200.5 314v1M200.5 328v1M201.5 314v2M201.5 327v1M202.5 316v2M202.5 326v1M203.5 319v6"/>
<path stroke="#5ef020" d="M83.5 328v2M84.5 334v3M85.5 340v2M172.5 325v7M173.5 331v4M174.5 333v5M175.5 335v8M176.5 338v10M177.5 343v8M178.5 347v4M190.5 321v3M191.5 319v1M191.5 325v2M192.5 327v1M193.5 328v1M195.5 329v1M196.5 329v1M197.5 329v1M198.5 315v1M198.5 329v1M199.5 315v1M199.5 328v1M200.5 315v2M201.5 316v2M201.5 326v1M202.5 318v4M202.5 323v3"/>
<path stroke="#69f020" d="M83.5 324v4M84.5 331v3M85.5 337v3M86.5 342v2M172.5 332v8M173.5 335v11M174.5 338v13M175.5 343v8M176.5 348v3M191.5 320v5M192.5 318v2M192.5 325v2M193.5 327v1M194.5 328v1M195.5 328v1M196.5 316v1M196.5 328v1M197.5 316v1M197.5 328v1M198.5 316v1M198.5 328v1M199.5 316v1M200.5 317v1M200.5 327v1M201.5 318v2M201.5 325v1M202.5 322v1"/>
<path stroke="#75f020" d="M84.5 327v4M85.5 333v4M86.5 339v3M170.5 336v8M171.5 323v28M172.5 340v11M173.5 346v5M192.5 320v5M193.5 318v2M193.5 326v1M194.5 317v1M194.5 327v1M195.5 317v1M196.5 317v1M197.5 317v1M198.5 317v1M198.5 327v1M199.5 317v1M199.5 327v1M200.5 318v2M200.5 326v1M201.5 320v5"/>
<path stroke="#81f020" d="M84.5 324v3M85.5 329v4M86.5 335v4M87.5 340v4M168.5 337v14M169.5 335v16M170.5 329v7M170.5 344v7M193.5 320v1M193.5 324v2M194.5 318v2M194.5 326v1M195.5 318v1M195.5 327v1M196.5 327v1M197.5 327v1M198.5 318v1M199.5 318v2M199.5 326v1M200.5 320v1M200.5 324v2"/>
<path stroke="#8dee20" d="M85.5 324v5M86.5 329v6M87.5 335v5M88.5 341v2M165.5 339v12M166.5 337v14M167.5 336v15M168.5 335v2M169.5 332v3M170.5 323v6M193.5 321v3M194.5 320v1M194.5 325v1M195.5 319v1M195.5 326v1M196.5 318v1M196.5 326v1M197.5 318v1M197.5 326v1M198.5 319v1M198.5 326v1M199.5 320v1M199.5 325v1M200.5 321v3"/>
<path stroke="#9aed20" d="M86.5 323v6M87.5 327v8M88.5 332v9M89.5 339v4M162.5 346v5M163.5 339v12M164.5 337v14M165.5 336v3M166.5 335v2M167.5 334v2M168.5 333v2M169.5 329v3M194.5 321v4M195.5 320v1M195.5 325v1M196.5 319v1M196.5 325v1M197.5 319v1M197.5 325v1M198.5 320v1M198.5 325v1M199.5 321v4"/>
<path stroke="#a7eb20" d="M87.5 323v4M88.5 324v8M89.5 324v15M90.5 324v19M91.5 325v18M92.5 325v18M93.5 325v17M94.5 326v16M95.5 326v16M96.5 326v16M97.5 326v16M98.5 326v16M99.5 325v17M100.5 325v18M101.5 325v18M102.5 325v18M103.5 325v18M104.5 325v18M105.5 325v18M106.5 334v9M107.5 343v1M147.5 350v1M148.5 349v2M149.5 348v3M150.5 348v3M151.5 347v4M152.5 347v4M153.5 347v4M154.5 346v5M155.5 346v5M156.5 346v5M157.5 346v5M158.5 345v6M159.5 344v7M160.5 340v11M161.5 339v12M162.5 337v9M163.5 336v3M164.5 336v1M165.5 335v1M166.5 334v1M167.5 333v1M168.5 331v2M169.5 324v5M195.5 321v4M196.5 320v2M196.5 324v1M197.5 320v2M197.5 324v1M198.5 321v4"/>
<path stroke="#b3ea20" d="M106.5 325v9M107.5 325v18M108.5 325v19M109.5 325v19M110.5 325v19M111.5 325v19M112.5 325v19M113.5 325v20M114.5 325v20M115.5 325v21M116.5 325v21M117.5 325v22M118.5 325v22M119.5 325v23M120.5 325v23M121.5 325v24M122.5 325v25M123.5 325v26M124.5 325v26M125.5 325v26M126.5 325v26M127.5 325v26M128.5 325v26M129.5 325v26M130.5 325v26M131.5 325v26M132.5 326v25M133.5 326v25M134.5 326v25M135.5 326v25M136.5 326v25M137.5 329v22M138.5 330v21M139.5 331v20M140.5 332v19M141.5 332v19M142.5 333v18M143.5 333v18M144.5 334v17M145.5 334v17M146.5 335v16M147.5 335v15M148.5 335v14M149.5 335v13M150.5 336v12M151.5 336v11M152.5 337v10M153.5 337v10M154.5 337v9M155.5 338v8M156.5 338v8M157.5 338v8M158.5 338v7M159.5 338v6M160.5 337v3M161.5 336v3M162.5 335v2M163.5 335v1M164.5 334v2M165.5 333v2M166.5 332v2M167.5 331v2M168.5 329v2M196.5 322v2M197.5 322v2"/>
<path stroke="#c0e820" d="M137.5 326v3M138.5 326v4M139.5 326v5M140.5 326v6M141.5 326v6M142.5 326v7M143.5 326v7M144.5 326v8M145.5 326v8M146.5 327v8M147.5 327v8M148.5 329v6M149.5 330v5M150.5 331v5M151.5 332v4M152.5 333v4M153.5 334v3M154.5 334v3M155.5 335v3M156.5 335v3M157.5 336v2M158.5 336v2M159.5 336v2M160.5 335v2M161.5 334v2M162.5 334v1M163.5 333v2M164.5 332v2M165.5 331v2M166.5 330v2M167.5 329v2M168.5 326v3"/>
<path stroke="#c8e520" d="M148.5 327v2M149.5 327v3M150.5 327v4M151.5 327v5M152.5 327v6M153.5 330v4M154.5 331v3M155.5 332v3M156.5 333v2M157.5 333v3M158.5 334v2M159.5 333v3M160.5 333v2M161.5 332v2M162.5 332v2M163.5 331v2M164.5 330v2M165.5 329v2M166.5 329v1M167.5 327v2M168.5 324v2"/>
<path stroke="#d0e220" d="M153.5 327v3M154.5 328v3M155.5 328v4M156.5 330v3M157.5 331v2M158.5 331v3M159.5 331v2M160.5 331v2M161.5 330v2M162.5 330v2M163.5 329v2M164.5 328v2M165.5 328v1M166.5 326v3M167.5 324v3"/>
<path stroke="#d8df20" d="M156.5 328v2M157.5 328v3M158.5 328v3M159.5 327v4M160.5 328v3M161.5 327v3M162.5 326v4M163.5 326v3M164.5 326v2M165.5 325v3M166.5 325v1"/>
<path stroke="#dfdb20" d="M160.5 327v1"/>
</g>
<rect x="66.1" y="324.51" width="88" height="14.08" fill="none" stroke="#000" stroke-opacity="0.5" stroke-width="1.2"/>
<g fill="#1a1a1a"><circle cx="37.9" cy="327.65" r="0.9"/><circle cx="44.94" cy="326.95" r="0.9"/><circle cx="51.98" cy="324.75" r="0.9"/><circle cx="59.02" cy="325.05" r="0.9"/><circle cx="66.05" cy="324.45" r="0.9"/><circle cx="73.09" cy="327.65" r="0.9"/><circle cx="80.13" cy="327.35" r="0.9"/><circle cx="87.17" cy="325.15" r="0.9"/><circle cx="94.21" cy="327.75" r="0.9"/><circle cx="101.25" cy="327.35" r="0.9"/><circle cx="108.29" cy="327.35" r="0.9"/><circle cx="115.33" cy="327.35" r="0.9"/><circle cx="122.36" cy="326.85" r="0.9"/><circle cx="129.4" cy="327.35" r="0.9"/><circle cx="136.44" cy="327.75" r="0.9"/><circle cx="143.48" cy="328.25" r="0.9"/><circle cx="150.52" cy="328.85" r="0.9"/><circle cx="157.56" cy="330.05" r="0.9"/><circle cx="164.6" cy="327.55" r="0.9"/><circle cx="171.64" cy="324.75" r="0.9"/><circle cx="178.67" cy="322.85" r="0.9"/><circle cx="185.71" cy="321.25" r="0.9"/><circle cx="192.75" cy="320.35" r="0.9"/><circle cx="199.79" cy="316.45" r="0.9"/><circle cx="206.83" cy="315.25" r="0.9"/><circle cx="213.87" cy="319.15" r="0.9"/><circle cx="220.91" cy="321.25" r="0.9"/><circle cx="227.94" cy="322.25" r="0.9"/><circle cx="234.98" cy="323.35" r="0.9"/><circle cx="242.02" cy="315.75" r="0.9"/><circle cx="249.06" cy="314.65" r="0.9"/><circle cx="256.1" cy="313.85" r="0.9"/></g>
<path d="M37.9 313.95V349.14H256.1" fill="none" stroke="#8c8c8c" stroke-width="1"/>
<path d="M37.9 349.14v2.3M73.09 349.14v2.3M108.29 349.14v2.3M143.48 349.14v2.3M178.67 349.14v2.3M213.87 349.14v2.3M249.06 349.14v2.3M37.9 349.14h-2.3M37.9 335.07h-2.3M37.9 320.99h-2.3" stroke="#555" stroke-width="1"/>
<g font-size="9" fill="#262626" text-anchor="middle">
<text x="37.9" y="364.34">0</text>
<text x="73.09" y="364.34">50</text>
<text x="108.29" y="364.34">100</text>
<text x="143.48" y="364.34">150</text>
<text x="178.67" y="364.34">200</text>
<text x="213.87" y="364.34">250</text>
<text x="249.06" y="364.34">300</text>
</g>
<g font-size="9" fill="#262626" text-anchor="end">
<text x="32.3" y="352.34">420</text>
<text x="32.3" y="338.27">440</text>
<text x="32.3" y="324.19">460</text>
</g>
<text font-size="9" fill="#262626" text-anchor="middle" transform="translate(12.6 331.54) rotate(-90)">height (m)</text>
<text font-size="9" fill="#262626" text-anchor="middle" x="147" y="376.14">x (m)</text>
<text font-size="16" font-weight="bold" fill="#000" x="43.1" y="380.35">(b)</text>
<g clip-path="url(#cc)" stroke-width="1">
<path stroke="#2d135e" d="M244.5 449v1M245.5 448v3M246.5 448v3M247.5 449v1"/>
<path stroke="#301872" d="M243.5 449v2M244.5 448v1M244.5 450v2M245.5 451v1M246.5 451v1M247.5 448v1M247.5 450v2M248.5 449v1"/>
<path stroke="#321b82" d="M243.5 448v1M243.5 451v1M244.5 447v1M245.5 447v1M245.5 452v1M246.5 447v1M246.5 452v1M247.5 447v1M248.5 448v1M248.5 450v2"/>
<path stroke="#331f93" d="M242.5 448v4M243.5 447v1M244.5 446v1M244.5 452v1M245.5 446v1M246.5 446v1M247.5 452v1M248.5 447v1M249.5 448v3"/>
<path stroke="#35239f" d="M241.5 448v3M242.5 447v1M243.5 446v1M243.5 452v1M245.5 453v1M246.5 453v1M247.5 446v1M248.5 446v1M248.5 452v1M249.5 447v1M249.5 451v1M250.5 449v2"/>
<path stroke="#3628a8" d="M240.5 447v4M241.5 446v2M241.5 451v1M242.5 446v1M242.5 452v1M243.5 445v1M243.5 453v1M244.5 445v1M244.5 453v1M245.5 445v1M246.5 445v1M247.5 445v1M247.5 453v1M248.5 453v1M249.5 446v1M249.5 452v1M250.5 447v2M250.5 451v1"/>
<path stroke="#382eb1" d="M239.5 448v4M240.5 451v1M241.5 452v1M242.5 453v1M244.5 454v1M245.5 454v1M246.5 454v1M247.5 454v1M248.5 445v1M249.5 445v1M249.5 453v1M250.5 446v1M250.5 452v1M251.5 447v4"/>
<path stroke="#3933b9" d="M238.5 449v3M239.5 452v1M240.5 452v1M241.5 453v1M243.5 454v1M248.5 454v1M249.5 444v1M250.5 445v1M250.5 453v1M251.5 446v1M251.5 451v2M252.5 448v3"/>
<path stroke="#3b38c2" d="M237.5 450v3M238.5 452v2M239.5 453v1M240.5 453v1M241.5 454v1M242.5 454v1M243.5 455v1M244.5 455v1M245.5 455v1M246.5 455v1M247.5 455v1M248.5 455v1M249.5 454v1M250.5 444v1M250.5 454v1M251.5 444v2M251.5 453v1M252.5 445v3M252.5 451v2M253.5 448v2"/>
<path stroke="#3b3ec9" d="M236.5 451v2M237.5 453v1M238.5 454v1M239.5 454v1M240.5 454v1M241.5 455v1M242.5 455v1M244.5 456v1M245.5 456v1M246.5 456v1M247.5 456v1M249.5 455v1M251.5 454v1M252.5 444v1M252.5 453v1M253.5 444v4M253.5 450v3M254.5 445v6"/>
<path stroke="#3942cc" d="M235.5 452v1M236.5 453v2M237.5 454v2M238.5 455v1M239.5 455v1M240.5 455v1M241.5 456v1M242.5 456v1M243.5 456v2M244.5 457v1M245.5 457v1M246.5 457v1M247.5 457v1M248.5 456v2M249.5 456v1M250.5 455v2M251.5 455v1M252.5 454v1M253.5 453v1M254.5 444v1M254.5 451v2M255.5 444v8M256.5 445v5M257.5 446v2"/>
<path stroke="#3747cf" d="M235.5 453v3M236.5 455v2M237.5 456v1M238.5 456v1M239.5 456v1M240.5 456v2M241.5 457v1M242.5 457v1M243.5 458v1M244.5 458v2M245.5 458v3M246.5 458v3M247.5 458v2M248.5 458v2M249.5 457v2M250.5 457v1M251.5 456v2M252.5 455v2M253.5 454v2M254.5 453v3M255.5 452v3M256.5 450v4M257.5 448v5"/>
<path stroke="#344cd2" d="M234.5 453v3M235.5 456v1M236.5 457v1M237.5 457v2M238.5 457v2M239.5 457v2M240.5 458v1M241.5 458v2M242.5 458v3M243.5 459v3M244.5 460v4M245.5 461v4M246.5 461v4M247.5 460v4M248.5 460v4M249.5 459v4M250.5 458v4M251.5 458v3M252.5 457v4M253.5 456v4M254.5 456v3M255.5 455v3M256.5 454v4M257.5 453v5"/>
<path stroke="#3251d5" d="M233.5 453v3M234.5 456v2M235.5 457v2M236.5 458v2M237.5 459v1M238.5 459v2M239.5 459v2M240.5 459v2M241.5 460v2M242.5 461v2M243.5 462v3M244.5 464v2M245.5 465v2M246.5 465v2M247.5 464v3M248.5 464v2M249.5 463v3M250.5 462v3M251.5 461v4M252.5 461v4M253.5 460v4M254.5 459v5M255.5 458v5M256.5 458v5M257.5 458v5"/>
<path stroke="#3056d9" d="M232.5 453v3M233.5 456v2M234.5 458v1M235.5 459v1M236.5 460v1M237.5 460v2M238.5 461v1M239.5 461v2M240.5 461v2M241.5 462v3M242.5 463v3M243.5 465v3M244.5 466v3M245.5 467v2M246.5 467v2M247.5 467v2M248.5 466v3M249.5 466v2M250.5 465v3M251.5 465v3M252.5 465v2M253.5 464v3M254.5 464v2M255.5 463v3M256.5 463v3M257.5 463v3"/>
<path stroke="#2c5ddd" d="M231.5 453v2M232.5 456v2M233.5 458v1M234.5 459v2M235.5 460v2M236.5 461v2M237.5 462v1M238.5 462v2M239.5 463v2M240.5 463v3M241.5 465v3M242.5 466v3M243.5 468v2M244.5 469v2M245.5 469v2M246.5 469v2M247.5 469v2M248.5 469v2M249.5 468v3M250.5 468v2M251.5 468v2M252.5 467v3M253.5 467v2M254.5 466v3M255.5 466v3M256.5 466v3M257.5 466v2"/>
<path stroke="#2964e2" d="M231.5 455v2M232.5 458v1M233.5 459v2M234.5 461v1M235.5 462v2M236.5 463v1M237.5 463v2M238.5 464v2M239.5 465v3M240.5 466v3M241.5 468v3M242.5 469v3M243.5 470v3M244.5 471v2M245.5 471v3M246.5 471v3M247.5 471v2M248.5 471v2M249.5 471v2M250.5 470v3M251.5 470v2M252.5 470v2M253.5 469v3M254.5 469v3M255.5 469v2M256.5 469v2M257.5 468v3"/>
<path stroke="#266be7" d="M230.5 452v4M231.5 457v2M232.5 459v2M233.5 461v2M234.5 462v2M235.5 464v1M236.5 464v2M237.5 465v2M238.5 466v3M239.5 468v3M240.5 469v4M241.5 471v3M242.5 472v3M243.5 473v2M244.5 473v3M245.5 474v2M246.5 474v2M247.5 473v3M248.5 473v3M249.5 473v2M250.5 473v2M251.5 472v3M252.5 472v3M253.5 472v2M254.5 472v2M255.5 471v3M256.5 471v3M257.5 471v3"/>
<path stroke="#2372ec" d="M229.5 452v1M230.5 456v2M231.5 459v2M232.5 461v2M233.5 463v1M234.5 464v2M235.5 465v2M236.5 466v2M237.5 467v4M238.5 469v4M239.5 471v4M240.5 473v4M241.5 474v3M242.5 475v3M243.5 475v3M244.5 476v2M245.5 476v2M246.5 476v2M247.5 476v2M248.5 476v2M249.5 475v3M250.5 475v3M251.5 475v2M252.5 475v2M253.5 474v3M254.5 474v3M255.5 474v3M256.5 474v3M257.5 474v2"/>
<path stroke="#2079f0" d="M229.5 453v4M230.5 458v2M231.5 461v1M232.5 463v1M233.5 464v2M234.5 466v1M235.5 467v2M236.5 468v4M237.5 471v4M238.5 473v4M239.5 475v4M240.5 477v3M241.5 477v4M242.5 478v3M243.5 478v3M244.5 478v3M245.5 478v3M246.5 478v3M247.5 478v2M248.5 478v1M250.5 478v1M251.5 477v2M252.5 477v2M253.5 477v1M254.5 477v1M255.5 477v1"/>
<path stroke="#1c82f5" d="M229.5 457v2M230.5 460v2M231.5 462v2M232.5 464v2M233.5 466v2M234.5 467v3M235.5 469v4M236.5 472v4M237.5 475v4M238.5 477v5M239.5 479v4M240.5 480v3M241.5 481v2M242.5 481v2M243.5 481v2M244.5 481v2M245.5 481v1"/>
<path stroke="#1989f8" d="M228.5 452v5M229.5 459v2M230.5 462v2M231.5 464v2M232.5 466v2M233.5 468v3M234.5 470v4M235.5 473v4M236.5 476v4M237.5 479v4M238.5 482v1"/>
<path stroke="#188ef6" d="M228.5 457v2M229.5 461v2M230.5 464v2M231.5 466v2M232.5 468v4M233.5 471v4M234.5 474v5M235.5 477v6M236.5 480v3"/>
<path stroke="#1693f4" d="M227.5 452v5M228.5 459v3M229.5 463v2M230.5 466v2M231.5 468v4M232.5 472v5M233.5 475v5M234.5 479v4"/>
<path stroke="#1497f3" d="M227.5 457v4M228.5 462v3M229.5 465v3M230.5 468v5M231.5 472v6M232.5 477v6M233.5 480v3"/>
<path stroke="#129cf1" d="M226.5 452v6M227.5 461v3M228.5 465v3M229.5 468v7M230.5 473v7M231.5 478v5"/>
<path stroke="#10a0f0" d="M225.5 452v2M226.5 458v5M227.5 464v4M228.5 468v8M229.5 475v8M230.5 480v3"/>
<path stroke="#10a5ee" d="M225.5 454v7M226.5 463v5M227.5 468v9M228.5 476v7"/>
<path stroke="#10aaed" d="M224.5 452v6M225.5 461v6M226.5 468v10M227.5 477v6"/>
<path stroke="#10aeeb" d="M223.5 451v4M224.5 458v9M225.5 467v12M226.5 478v5"/>
<path stroke="#10b3ea" d="M223.5 455v11M224.5 467v16M225.5 479v4"/>
<path stroke="#10b7e8" d="M222.5 451v14M223.5 466v17"/>
<path stroke="#10bbe4" d="M221.5 451v11M222.5 465v18"/>
<path stroke="#10bedf" d="M221.5 462v21"/>
<path stroke="#10c1da" d="M220.5 451v32"/>
<path stroke="#10c4d6" d="M218.5 470v13M219.5 451v32"/>
<path stroke="#10c7d1" d="M217.5 465v18M218.5 450v20"/>
<path stroke="#10cacb" d="M215.5 480v3M216.5 464v19M217.5 450v15"/>
<path stroke="#10cec5" d="M214.5 475v8M215.5 463v17M216.5 450v14"/>
<path stroke="#10d1be" d="M213.5 472v11M214.5 462v13M215.5 452v11"/>
<path stroke="#10d4b8" d="M211.5 479v4M212.5 470v13M213.5 462v10M214.5 454v8M215.5 449v3"/>
<path stroke="#10d7b2" d="M210.5 478v5M211.5 470v9M212.5 462v8M213.5 455v7M214.5 449v5"/>
<path stroke="#10daac" d="M64.5 465v2M65.5 463v4M66.5 462v5M67.5 455v1M67.5 462v3M209.5 478v5M210.5 470v8M211.5 463v7M212.5 457v5M213.5 449v6"/>
<path stroke="#10dca8" d="M47.5 468v3M48.5 468v4M49.5 467v6M50.5 467v6M51.5 467v7M52.5 467v7M53.5 467v8M54.5 466v9M55.5 466v9M56.5 466v10M57.5 466v10M58.5 466v10M59.5 466v10M60.5 465v12M61.5 465v12M62.5 464v13M63.5 463v14M64.5 462v3M64.5 467v10M65.5 454v2M65.5 461v2M65.5 467v10M66.5 455v7M66.5 467v10M67.5 456v6M67.5 465v11M68.5 455v20M69.5 456v15M70.5 456v9M208.5 479v4M209.5 471v7M210.5 464v6M211.5 458v5M212.5 451v6"/>
<path stroke="#10dfa3" d="M36.5 467v10M37.5 467v11M38.5 466v13M39.5 466v15M40.5 465v17M41.5 464v19M42.5 463v20M43.5 463v20M44.5 463v20M45.5 463v20M46.5 463v20M47.5 464v4M47.5 471v12M48.5 464v4M48.5 472v11M49.5 464v3M49.5 473v10M50.5 465v2M50.5 473v10M51.5 465v2M51.5 474v9M52.5 465v2M52.5 474v9M53.5 465v2M53.5 475v8M54.5 465v1M54.5 475v8M55.5 465v1M55.5 475v8M56.5 465v1M56.5 476v7M57.5 465v1M57.5 476v7M58.5 464v2M58.5 476v7M59.5 464v2M59.5 476v7M60.5 464v1M60.5 477v6M61.5 463v2M61.5 477v6M62.5 463v1M62.5 477v6M63.5 462v1M63.5 477v6M64.5 454v1M64.5 461v1M64.5 477v6M65.5 456v5M65.5 477v6M66.5 477v6M67.5 476v7M68.5 475v8M69.5 471v12M70.5 465v10M71.5 457v13M207.5 481v2M208.5 472v7M209.5 464v7M210.5 459v5M211.5 453v5M212.5 448v3"/>
<path stroke="#10e19e" d="M36.5 461v6M37.5 461v6M38.5 461v5M39.5 460v6M40.5 458v7M41.5 459v5M42.5 459v4M43.5 460v3M44.5 461v2M45.5 462v1M46.5 462v1M47.5 463v1M48.5 463v1M49.5 463v1M50.5 464v1M51.5 464v1M52.5 464v1M53.5 464v1M54.5 464v1M55.5 464v1M56.5 464v1M57.5 464v1M59.5 463v1M60.5 463v1M62.5 462v1M63.5 461v1M64.5 455v2M64.5 459v2M70.5 475v8M71.5 470v4M207.5 474v7M208.5 465v7M209.5 460v4M210.5 455v4M211.5 448v5"/>
<path stroke="#10e499" d="M36.5 459v2M37.5 458v3M38.5 457v4M39.5 457v3M40.5 457v1M41.5 457v2M42.5 457v2M43.5 457v3M44.5 459v2M45.5 460v2M46.5 461v1M47.5 462v1M48.5 462v1M50.5 463v1M51.5 463v1M52.5 463v1M57.5 463v1M58.5 463v1M61.5 462v1M62.5 461v1M63.5 455v1M63.5 460v1M64.5 457v2M71.5 474v4M72.5 457v14M206.5 475v8M207.5 467v7M208.5 461v4M209.5 456v4M210.5 450v5"/>
<path stroke="#10e694" d="M44.5 457v2M45.5 459v1M46.5 460v1M47.5 461v1M49.5 462v1M53.5 463v1M54.5 463v1M55.5 463v1M56.5 463v1M60.5 462v1M63.5 459v1M71.5 478v5M72.5 471v4M205.5 477v6M206.5 468v7M207.5 462v5M208.5 457v4M209.5 452v4M210.5 447v3"/>
<path stroke="#10e88e" d="M45.5 457v2M48.5 461v1M50.5 462v1M51.5 462v1M58.5 462v1M59.5 462v1M61.5 461v1M62.5 460v1M63.5 456v3M72.5 475v3M204.5 478v5M205.5 470v7M206.5 463v5M207.5 458v4M208.5 453v4M209.5 447v5"/>
<path stroke="#10ea86" d="M46.5 456v1M46.5 458v2M47.5 460v1M49.5 461v1M52.5 462v1M57.5 462v1M60.5 461v1M62.5 455v1M72.5 478v5M73.5 457v16M203.5 480v3M204.5 472v6M205.5 464v6M206.5 460v3M207.5 455v3M208.5 449v4"/>
<path stroke="#10eb7f" d="M46.5 457v1M47.5 459v1M48.5 460v1M53.5 462v1M54.5 462v1M55.5 462v1M56.5 462v1M61.5 460v1M62.5 456v1M62.5 459v1M73.5 473v4M203.5 473v7M204.5 465v7M205.5 461v3M206.5 456v4M207.5 451v4M208.5 446v3"/>
<path stroke="#10ed77" d="M47.5 456v1M47.5 458v1M50.5 461v1M59.5 461v1M61.5 455v1M62.5 457v2M73.5 477v4M202.5 475v8M203.5 467v6M204.5 462v3M205.5 458v3M206.5 453v3M207.5 445v6"/>
<path stroke="#10ef6f" d="M47.5 457v1M49.5 460v1M51.5 461v1M58.5 461v1M60.5 460v1M61.5 459v1M73.5 481v2M74.5 457v17M201.5 478v5M202.5 469v6M203.5 463v4M204.5 460v2M205.5 455v3M206.5 449v4"/>
<path stroke="#10f067" d="M48.5 456v1M48.5 459v1M49.5 455v1M52.5 461v1M57.5 461v1M60.5 455v1M61.5 456v1M74.5 474v5M200.5 480v3M201.5 472v6M202.5 464v5M203.5 461v2M204.5 457v3M205.5 452v3M206.5 445v4"/>
<path stroke="#10f260" d="M48.5 457v2M50.5 460v1M53.5 461v1M54.5 461v1M55.5 461v1M56.5 461v1M59.5 460v1M61.5 457v2M74.5 479v4M200.5 475v5M201.5 467v5M202.5 462v2M203.5 459v2M204.5 455v2M205.5 449v3"/>
<path stroke="#10f358" d="M49.5 459v1M60.5 459v1M75.5 457v19M181.5 456v1M182.5 455v3M183.5 455v3M184.5 456v2M199.5 478v5M200.5 471v4M201.5 464v3M202.5 460v2M203.5 457v2M204.5 452v3M205.5 445v4"/>
<path stroke="#10f550" d="M49.5 456v1M50.5 455v1M51.5 460v1M58.5 460v1M59.5 455v1M60.5 456v1M75.5 476v7M179.5 456v2M180.5 454v5M181.5 454v2M181.5 457v3M182.5 453v2M182.5 458v2M183.5 453v2M183.5 458v2M184.5 453v3M184.5 458v2M185.5 454v5M186.5 456v2M199.5 474v4M200.5 466v5M201.5 462v2M202.5 459v1M203.5 455v2M204.5 450v2"/>
<path stroke="#10f648" d="M49.5 457v2M50.5 459v1M59.5 459v1M60.5 457v2M178.5 455v4M179.5 453v3M179.5 458v2M180.5 453v1M180.5 459v2M181.5 452v2M181.5 460v1M182.5 452v1M182.5 460v1M183.5 452v1M183.5 460v1M184.5 452v1M184.5 460v1M185.5 452v2M185.5 459v2M186.5 453v3M186.5 458v2M187.5 455v3M198.5 478v5M199.5 471v3M200.5 464v2M201.5 460v2M202.5 457v2M203.5 453v2M204.5 445v5"/>
<path stroke="#10f840" d="M51.5 455v1M52.5 460v1M57.5 460v1M58.5 455v1M76.5 457v26M177.5 454v5M178.5 453v2M178.5 459v2M179.5 460v2M180.5 452v1M180.5 461v1M181.5 461v1M182.5 461v1M183.5 461v1M184.5 451v1M184.5 461v1M185.5 451v1M185.5 461v1M186.5 451v2M186.5 460v1M187.5 453v2M187.5 458v2M188.5 455v3M197.5 481v2M198.5 474v4M199.5 467v4M200.5 462v2M201.5 459v1M202.5 455v2M203.5 451v2"/>
<path stroke="#1ff639" d="M50.5 456v1M53.5 460v1M54.5 460v1M55.5 460v1M56.5 460v1M59.5 456v1M176.5 454v6M177.5 453v1M177.5 459v3M178.5 461v1M179.5 462v1M180.5 462v1M181.5 462v2M182.5 462v2M183.5 462v2M184.5 462v1M185.5 462v1M186.5 461v2M187.5 451v2M187.5 460v2M188.5 452v3M188.5 458v2M189.5 456v1M197.5 477v4M198.5 471v3M199.5 464v3M200.5 460v2M201.5 457v2M202.5 453v2M203.5 448v3"/>
<path stroke="#30f432" d="M50.5 457v2M51.5 459v1M52.5 455v1M57.5 455v1M58.5 459v1M59.5 457v2M77.5 457v26M175.5 454v7M176.5 453v1M176.5 460v3M177.5 462v2M178.5 462v2M179.5 463v2M180.5 463v2M181.5 464v1M182.5 464v1M183.5 464v1M184.5 463v2M185.5 463v1M186.5 463v1M187.5 462v1M188.5 451v1M188.5 460v2M189.5 452v4M189.5 457v3M196.5 480v3M197.5 474v3M198.5 467v4M199.5 462v2M200.5 459v1M201.5 455v2M202.5 451v2M203.5 446v2"/>
<path stroke="#40f32b" d="M51.5 456v1M53.5 455v1M56.5 455v1M58.5 456v1M174.5 454v9M175.5 461v5M176.5 463v3M177.5 464v3M178.5 464v3M179.5 465v2M180.5 465v2M181.5 465v2M182.5 465v2M183.5 465v1M184.5 465v1M185.5 464v2M186.5 464v1M187.5 463v2M188.5 462v2M189.5 451v1M189.5 460v2M190.5 453v7M196.5 477v3M197.5 471v3M198.5 464v3M199.5 460v2M200.5 457v2M201.5 453v2M202.5 449v2"/>
<path stroke="#50f124" d="M52.5 459v1M54.5 455v1M55.5 455v1M57.5 459v1M78.5 457v26M170.5 470v13M171.5 468v15M172.5 467v16M173.5 458v25M174.5 463v20M175.5 466v13M176.5 466v9M177.5 467v6M178.5 467v4M179.5 467v3M180.5 467v3M181.5 467v2M182.5 467v2M183.5 466v3M184.5 466v2M185.5 466v2M186.5 465v2M187.5 465v2M188.5 464v1M189.5 462v2M190.5 450v3M190.5 460v2M191.5 453v6M195.5 480v3M196.5 474v3M197.5 468v3M198.5 461v3M199.5 458v2M200.5 455v2M201.5 452v1M202.5 446v3"/>
<path stroke="#5ef020" d="M51.5 457v2M52.5 456v1M57.5 456v1M58.5 457v2M169.5 469v14M170.5 468v2M171.5 466v2M172.5 464v3M173.5 454v4M175.5 479v4M176.5 475v8M177.5 473v10M178.5 471v8M179.5 470v7M180.5 470v5M181.5 469v5M182.5 469v4M183.5 469v3M184.5 468v3M185.5 468v2M186.5 467v3M187.5 467v2M188.5 465v3M189.5 464v2M190.5 462v2M191.5 450v3M191.5 459v3M192.5 453v5M195.5 477v3M196.5 471v3M197.5 464v4M198.5 459v2M199.5 456v2M200.5 454v1M201.5 450v2"/>
<path stroke="#69f020" d="M53.5 459v1M54.5 459v1M55.5 459v1M56.5 459v1M79.5 457v26M167.5 471v12M168.5 469v14M169.5 468v1M170.5 467v1M171.5 465v1M172.5 460v4M178.5 479v4M179.5 477v6M180.5 475v8M181.5 474v5M182.5 473v5M183.5 472v4M184.5 471v4M185.5 470v4M186.5 470v3M187.5 469v3M188.5 468v2M189.5 466v3M190.5 464v2M191.5 462v2M192.5 450v3M192.5 458v3M193.5 453v4M194.5 479v4M195.5 473v4M196.5 468v3M197.5 459v5M198.5 456v3M199.5 454v2M200.5 452v2M201.5 448v2"/>
<path stroke="#75f020" d="M52.5 458v1M53.5 456v1M56.5 456v1M57.5 458v1M166.5 470v13M167.5 469v2M168.5 468v1M169.5 467v1M170.5 465v2M171.5 463v2M172.5 456v4M181.5 479v4M182.5 478v5M183.5 476v6M184.5 475v4M185.5 474v4M186.5 473v4M187.5 472v4M188.5 470v4M189.5 469v3M190.5 466v3M191.5 464v3M192.5 461v3M193.5 450v3M193.5 457v4M194.5 452v6M194.5 475v4M195.5 470v3M196.5 459v9M197.5 456v3M198.5 454v2M199.5 453v1M200.5 450v2M201.5 446v2"/>
<path stroke="#81f020" d="M52.5 457v1M54.5 456v1M55.5 456v1M57.5 457v1M80.5 457v26M164.5 471v12M165.5 470v13M166.5 469v1M167.5 468v1M168.5 467v1M169.5 466v1M170.5 464v1M171.5 461v2M172.5 454v2M183.5 482v1M184.5 479v4M185.5 478v5M186.5 477v4M187.5 476v3M188.5 474v4M189.5 472v4M190.5 469v5M191.5 467v4M192.5 464v4M193.5 461v3M193.5 474v9M194.5 449v3M194.5 458v4M194.5 470v5M195.5 449v15M195.5 467v3M196.5 452v7M197.5 452v4M198.5 452v2M199.5 451v2M200.5 448v2"/>
<path stroke="#8dee20" d="M53.5 457v2M56.5 457v2M81.5 472v11M163.5 470v13M164.5 469v2M165.5 469v1M166.5 468v1M167.5 467v1M168.5 466v1M169.5 465v1M170.5 463v1M171.5 459v2M186.5 481v2M187.5 479v4M188.5 478v5M189.5 476v4M190.5 474v5M191.5 471v7M192.5 468v15M193.5 464v10M194.5 462v8M195.5 464v3M196.5 448v4M197.5 448v4M198.5 449v3M199.5 448v3M200.5 446v2"/>
<path stroke="#9aed20" d="M54.5 457v2M55.5 457v2M81.5 457v15M82.5 475v7M161.5 471v12M162.5 470v13M163.5 469v1M164.5 468v1M165.5 468v1M166.5 467v1M167.5 466v1M168.5 465v1M169.5 464v1M170.5 461v2M171.5 456v3M189.5 480v3M190.5 479v4M191.5 478v5M198.5 447v2M199.5 446v2"/>
<path stroke="#a7eb20" d="M82.5 456v2M82.5 467v8M83.5 472v9M84.5 475v6M85.5 477v4M86.5 478v3M87.5 479v1M147.5 482v1M148.5 480v3M149.5 479v4M150.5 477v6M151.5 476v7M152.5 473v10M153.5 472v11M154.5 472v11M155.5 472v11M156.5 472v11M157.5 472v11M158.5 472v11M159.5 471v12M160.5 470v13M161.5 470v1M162.5 469v1M163.5 468v1M165.5 467v1M166.5 466v1M169.5 463v1M170.5 460v1M171.5 455v1"/>
<path stroke="#b3ea20" d="M82.5 458v9M83.5 468v4M84.5 470v5M85.5 472v5M86.5 474v4M87.5 475v4M88.5 476v3M89.5 477v2M90.5 478v1M94.5 478v1M95.5 478v1M96.5 478v1M116.5 477v1M117.5 476v3M118.5 476v3M119.5 476v4M120.5 475v5M121.5 475v6M122.5 475v7M123.5 474v9M124.5 474v9M125.5 473v10M126.5 473v10M127.5 472v11M128.5 471v12M129.5 470v13M130.5 469v14M131.5 469v14M132.5 469v14M133.5 468v15M134.5 468v15M135.5 468v15M136.5 467v16M137.5 467v16M138.5 467v16M139.5 467v16M140.5 467v16M141.5 467v16M142.5 466v17M143.5 466v17M144.5 466v17M145.5 466v17M146.5 466v17M147.5 466v16M148.5 466v14M149.5 466v13M150.5 467v10M151.5 468v8M152.5 468v5M153.5 469v3M154.5 469v3M155.5 470v2M156.5 470v2M157.5 470v2M158.5 470v2M159.5 470v1M160.5 469v1M161.5 469v1M162.5 468v1M163.5 467v1M164.5 467v1M165.5 466v1M167.5 465v1M168.5 464v1M169.5 462v1M170.5 459v1"/>
<path stroke="#c0e820" d="M83.5 456v5M83.5 463v5M84.5 468v2M85.5 470v2M86.5 471v3M87.5 473v2M88.5 474v2M89.5 475v2M90.5 475v3M91.5 475v3M92.5 475v3M93.5 475v3M94.5 475v3M95.5 475v3M96.5 475v3M97.5 475v3M98.5 475v3M99.5 475v2M100.5 475v1M101.5 475v1M103.5 474v1M104.5 474v1M105.5 474v1M106.5 473v2M107.5 473v2M108.5 473v3M109.5 472v4M110.5 472v4M111.5 472v4M112.5 471v6M113.5 471v6M114.5 470v7M115.5 470v7M116.5 469v8M117.5 469v7M118.5 468v8M119.5 467v9M120.5 467v8M121.5 466v9M122.5 465v10M123.5 464v10M124.5 463v11M125.5 463v10M126.5 462v11M127.5 461v11M128.5 459v12M129.5 457v13M130.5 457v12M131.5 457v12M132.5 457v12M133.5 457v11M134.5 457v11M135.5 458v10M136.5 458v9M137.5 458v9M138.5 458v9M139.5 458v9M140.5 458v9M141.5 458v9M142.5 458v8M143.5 458v8M144.5 458v8M145.5 458v8M146.5 458v8M147.5 458v8M148.5 459v7M149.5 460v6M150.5 462v5M151.5 464v4M152.5 466v2M153.5 467v2M154.5 467v2M155.5 468v2M156.5 468v2M157.5 469v1M158.5 469v1M159.5 468v2M160.5 468v1M161.5 468v1M162.5 467v1M163.5 466v1M164.5 466v1M165.5 465v1M166.5 465v1M167.5 464v1M168.5 463v1M169.5 461v1M170.5 456v3"/>
<path stroke="#c8e520" d="M83.5 461v2M84.5 456v3M84.5 465v3M85.5 468v2M86.5 469v2M87.5 471v2M88.5 472v2M89.5 473v2M90.5 473v2M91.5 473v2M92.5 473v2M93.5 474v1M94.5 474v1M95.5 473v2M96.5 473v2M97.5 473v2M98.5 473v2M99.5 473v2M100.5 473v2M101.5 472v3M102.5 472v3M103.5 471v3M104.5 471v3M105.5 470v4M106.5 470v3M107.5 469v4M108.5 468v5M109.5 468v4M110.5 467v5M111.5 466v6M112.5 465v6M113.5 464v7M114.5 463v7M115.5 462v8M116.5 462v7M117.5 461v8M118.5 460v8M119.5 457v10M120.5 457v10M121.5 457v9M122.5 457v8M123.5 457v7M124.5 457v6M125.5 457v6M126.5 457v5M127.5 457v4M128.5 457v2M149.5 459v1M150.5 459v3M151.5 459v5M152.5 463v3M153.5 464v3M154.5 465v2M155.5 466v2M156.5 467v1M157.5 467v2M158.5 467v2M159.5 467v1M160.5 467v1M161.5 467v1M162.5 466v1M164.5 465v1M166.5 464v1M167.5 463v1M168.5 462v1M169.5 460v1M170.5 455v1"/>
<path stroke="#d0e220" d="M84.5 459v6M85.5 456v2M85.5 466v2M86.5 468v1M87.5 469v2M88.5 470v2M89.5 471v2M90.5 472v1M91.5 472v1M92.5 472v1M93.5 472v2M94.5 472v2M95.5 472v1M96.5 472v1M97.5 472v1M98.5 472v1M99.5 471v2M100.5 471v2M101.5 471v1M102.5 470v2M103.5 469v2M104.5 469v2M105.5 468v2M106.5 467v3M107.5 465v4M108.5 464v4M109.5 462v6M110.5 460v7M111.5 457v9M112.5 457v8M113.5 457v7M114.5 457v6M115.5 457v5M116.5 457v5M117.5 457v4M118.5 457v3M152.5 459v4M153.5 462v2M154.5 463v2M155.5 464v2M156.5 465v2M157.5 466v1M158.5 466v1M159.5 466v1M160.5 466v1M161.5 466v1M162.5 465v1M163.5 465v1M164.5 464v1M165.5 464v1M166.5 463v1M167.5 462v1M168.5 461v1M169.5 459v1"/>
<path stroke="#d8df20" d="M85.5 458v8M86.5 455v2M86.5 466v2M87.5 468v1M88.5 469v1M89.5 470v1M90.5 470v2M91.5 471v1M92.5 471v1M93.5 471v1M94.5 471v1M95.5 471v1M96.5 471v1M97.5 471v1M98.5 470v2M99.5 470v1M100.5 470v1M101.5 469v2M102.5 469v1M103.5 468v1M104.5 467v2M105.5 465v3M106.5 457v2M106.5 463v4M107.5 457v8M108.5 457v7M109.5 457v5M110.5 457v3M153.5 459v3M154.5 460v3M155.5 463v1M156.5 464v1M157.5 465v1M158.5 465v1M159.5 465v1M160.5 465v1M161.5 465v1M162.5 464v1M163.5 464v1M164.5 463v1M165.5 463v1M166.5 462v1M168.5 460v1M169.5 457v2"/>
<path stroke="#dfdb20" d="M86.5 457v3M86.5 464v2M87.5 455v2M87.5 467v1M88.5 468v1M89.5 469v1M90.5 469v1M91.5 470v1M92.5 470v1M93.5 470v1M94.5 470v1M95.5 470v1M96.5 470v1M97.5 470v1M98.5 469v1M99.5 469v1M100.5 469v1M101.5 468v1M102.5 467v2M103.5 457v1M103.5 466v2M104.5 457v2M104.5 464v3M105.5 457v8M106.5 459v4M154.5 459v1M155.5 460v3M156.5 462v2M157.5 463v2M158.5 464v1M159.5 464v1M160.5 464v1M161.5 464v1M162.5 463v1M163.5 463v1M164.5 462v1M165.5 462v1M167.5 461v1M168.5 459v1M169.5 455v2"/>
<path stroke="#e7d820" d="M86.5 460v4M87.5 457v2M87.5 465v2M88.5 455v2M88.5 467v1M89.5 468v1M90.5 468v1M91.5 469v1M92.5 469v1M93.5 469v1M94.5 469v1M95.5 469v1M96.5 469v1M97.5 469v1M99.5 468v1M100.5 468v1M101.5 457v1M101.5 467v1M102.5 457v2M102.5 466v1M103.5 458v3M103.5 464v2M104.5 459v5M156.5 460v2M157.5 461v2M158.5 462v2M159.5 463v1M160.5 463v1M161.5 463v1M162.5 462v1M163.5 462v1M165.5 461v1M166.5 461v1M167.5 460v1M168.5 458v1"/>
<path stroke="#ead420" d="M87.5 459v6M88.5 457v2M88.5 466v1M89.5 456v2M89.5 467v1M90.5 456v1M91.5 468v1M92.5 468v1M93.5 468v1M95.5 468v1M96.5 468v1M97.5 468v1M98.5 468v1M99.5 457v1M99.5 467v1M100.5 457v1M100.5 467v1M101.5 458v1M101.5 466v1M102.5 459v2M102.5 464v2M103.5 461v3M157.5 460v1M158.5 460v2M159.5 461v2M160.5 462v1M161.5 462v1M162.5 461v1M163.5 461v1M164.5 461v1M165.5 460v1M166.5 460v1M167.5 459v1M168.5 456v2"/>
<path stroke="#ecd020" d="M88.5 459v2M88.5 464v2M89.5 458v1M89.5 466v1M90.5 457v1M90.5 467v1M91.5 457v1M91.5 467v1M92.5 457v1M94.5 468v1M97.5 457v1M97.5 467v1M98.5 457v1M98.5 467v1M99.5 458v1M99.5 466v1M100.5 458v1M100.5 466v1M101.5 459v2M101.5 464v2M102.5 461v3M159.5 459v2M160.5 459v3M161.5 460v2M162.5 460v1M163.5 460v1M164.5 460v1M165.5 459v1M166.5 459v1M167.5 457v2"/>
<path stroke="#eecc20" d="M88.5 461v3M89.5 459v2M89.5 465v1M90.5 458v1M90.5 466v1M91.5 458v1M91.5 466v1M92.5 467v1M93.5 457v1M93.5 467v1M94.5 467v1M95.5 467v1M96.5 457v1M96.5 467v1M97.5 458v1M98.5 458v1M98.5 466v1M99.5 459v1M100.5 459v2M100.5 464v2M101.5 461v3M161.5 458v2M162.5 458v2M163.5 458v2M164.5 457v3M165.5 457v2M166.5 457v2M167.5 456v1"/>
<path stroke="#f0c820" d="M89.5 461v4M90.5 459v2M90.5 465v1M91.5 459v1M92.5 458v1M92.5 466v1M93.5 458v1M93.5 466v1M94.5 458v1M95.5 458v1M95.5 466v1M96.5 458v1M96.5 466v1M97.5 466v1M98.5 459v1M98.5 465v1M99.5 460v1M99.5 464v2M100.5 461v3"/>
<path stroke="#f2c320" d="M90.5 461v4M91.5 460v1M91.5 464v2M92.5 459v1M92.5 465v1M93.5 459v1M94.5 459v1M94.5 466v1M95.5 459v1M96.5 459v1M97.5 459v1M97.5 465v1M98.5 460v1M98.5 464v1M99.5 461v3"/>
<path stroke="#f4bf20" d="M91.5 461v3M92.5 460v1M92.5 464v1M93.5 460v1M93.5 465v1M94.5 465v1M95.5 465v1M96.5 460v1M96.5 465v1M97.5 460v1M97.5 464v1M98.5 461v3"/>
<path stroke="#f7bb20" d="M92.5 461v3M93.5 461v1M93.5 463v2M94.5 460v2M94.5 464v1M95.5 460v2M95.5 464v1M96.5 461v4M97.5 461v3"/>
<path stroke="#f8b720" d="M93.5 462v1M94.5 462v2M95.5 462v2"/>
</g>
<rect x="66.1" y="456.36" width="88" height="14.08" fill="none" stroke="#000" stroke-opacity="0.5" stroke-width="1.2"/>
<g fill="#1a1a1a"><circle cx="37.9" cy="459.5" r="0.9"/><circle cx="44.94" cy="458.8" r="0.9"/><circle cx="51.98" cy="456.6" r="0.9"/><circle cx="59.02" cy="456.9" r="0.9"/><circle cx="66.05" cy="456.3" r="0.9"/><circle cx="73.09" cy="459.5" r="0.9"/><circle cx="80.13" cy="459.2" r="0.9"/><circle cx="87.17" cy="457" r="0.9"/><circle cx="94.21" cy="459.6" r="0.9"/><circle cx="101.25" cy="459.2" r="0.9"/><circle cx="108.29" cy="459.2" r="0.9"/><circle cx="115.33" cy="459.2" r="0.9"/><circle cx="122.36" cy="458.7" r="0.9"/><circle cx="129.4" cy="459.2" r="0.9"/><circle cx="136.44" cy="459.6" r="0.9"/><circle cx="143.48" cy="460.1" r="0.9"/><circle cx="150.52" cy="460.7" r="0.9"/><circle cx="157.56" cy="461.9" r="0.9"/><circle cx="164.6" cy="459.4" r="0.9"/><circle cx="171.64" cy="456.6" r="0.9"/><circle cx="178.67" cy="454.7" r="0.9"/><circle cx="185.71" cy="453.1" r="0.9"/><circle cx="192.75" cy="452.2" r="0.9"/><circle cx="199.79" cy="448.3" r="0.9"/><circle cx="206.83" cy="447.1" r="0.9"/><circle cx="213.87" cy="451" r="0.9"/><circle cx="220.91" cy="453.1" r="0.9"/><circle cx="227.94" cy="454.1" r="0.9"/><circle cx="234.98" cy="455.2" r="0.9"/><circle cx="242.02" cy="447.6" r="0.9"/><circle cx="249.06" cy="446.5" r="0.9"/><circle cx="256.1" cy="445.7" r="0.9"/></g>
<path d="M37.9 445.8V480.99H256.1" fill="none" stroke="#8c8c8c" stroke-width="1"/>
<path d="M37.9 480.99v2.3M73.09 480.99v2.3M108.29 480.99v2.3M143.48 480.99v2.3M178.67 480.99v2.3M213.87 480.99v2.3M249.06 480.99v2.3M37.9 480.99h-2.3M37.9 466.92h-2.3M37.9 452.84h-2.3" stroke="#555" stroke-width="1"/>
<g font-size="9" fill="#262626" text-anchor="middle">
<text x="37.9" y="496.19">0</text>
<text x="73.09" y="496.19">50</text>
<text x="108.29" y="496.19">100</text>
<text x="143.48" y="496.19">150</text>
<text x="178.67" y="496.19">200</text>
<text x="213.87" y="496.19">250</text>
<text x="249.06" y="496.19">300</text>
</g>
<g font-size="9" fill="#262626" text-anchor="end">
<text x="32.3" y="484.19">420</text>
<text x="32.3" y="470.12">440</text>
<text x="32.3" y="456.04">460</text>
</g>
<text font-size="9" fill="#262626" text-anchor="middle" transform="translate(12.6 463.39) rotate(-90)">height (m)</text>
<text font-size="9" fill="#262626" text-anchor="middle" x="147" y="507.99">x (m)</text>
<text font-size="16" font-weight="bold" fill="#000" x="43.1" y="509.7">(c)</text>
<g clip-path="url(#cd)" stroke-width="1">
<path stroke="#2d135e" d="M244.5 581v1M245.5 580v3M246.5 580v3M247.5 581v1"/>
<path stroke="#301872" d="M243.5 581v2M244.5 580v1M244.5 582v1M245.5 579v1M245.5 583v1M246.5 579v1M246.5 583v1M247.5 580v1M247.5 582v1M248.5 581v1"/>
<path stroke="#321b82" d="M242.5 581v1M243.5 579v2M243.5 583v1M244.5 579v1M244.5 583v1M247.5 579v1M247.5 583v1M248.5 579v2M248.5 582v2"/>
<path stroke="#331f93" d="M242.5 579v2M242.5 582v2M243.5 578v1M244.5 578v1M244.5 584v1M245.5 578v1M245.5 584v1M246.5 578v1M246.5 584v1M247.5 578v1M247.5 584v1M248.5 578v1M249.5 579v4"/>
<path stroke="#35239f" d="M241.5 579v4M242.5 578v1M243.5 584v1M244.5 577v1M245.5 577v1M246.5 577v1M247.5 577v1M248.5 584v1M249.5 578v1M249.5 583v1M250.5 579v4"/>
<path stroke="#3628a8" d="M240.5 579v4M241.5 578v1M241.5 583v1M242.5 577v1M242.5 584v1M243.5 577v1M243.5 585v1M244.5 585v1M245.5 585v1M246.5 585v1M247.5 585v1M248.5 577v1M249.5 577v1M249.5 584v1M250.5 578v1M250.5 583v1M251.5 579v3"/>
<path stroke="#382eb1" d="M239.5 580v3M240.5 583v2M241.5 584v1M242.5 585v1M248.5 576v1M248.5 585v1M249.5 576v1M249.5 585v1M250.5 576v2M250.5 584v1M251.5 577v2M251.5 582v2M252.5 579v3"/>
<path stroke="#3933b9" d="M238.5 581v2M239.5 583v2M241.5 585v1M243.5 586v1M244.5 586v1M245.5 586v1M246.5 586v1M247.5 586v1M248.5 586v1M250.5 585v1M251.5 576v1M251.5 584v1M252.5 576v3M252.5 582v2M253.5 577v4"/>
<path stroke="#3b38c2" d="M237.5 582v1M238.5 583v2M239.5 585v1M240.5 585v1M241.5 586v1M242.5 586v1M244.5 587v1M245.5 587v1M246.5 587v1M249.5 586v1M251.5 585v1M252.5 584v1M253.5 576v1M253.5 581v3M254.5 576v6M255.5 576v4M256.5 577v2M257.5 578v1"/>
<path stroke="#3b3ec9" d="M237.5 583v2M238.5 585v1M239.5 586v1M240.5 586v2M241.5 587v1M242.5 587v1M243.5 587v1M247.5 587v1M248.5 587v1M249.5 587v1M250.5 586v1M251.5 586v1M252.5 585v1M253.5 584v1M254.5 582v2M255.5 580v3M256.5 579v3M257.5 579v3"/>
<path stroke="#3942cc" d="M236.5 583v3M237.5 585v2M238.5 586v2M239.5 587v1M240.5 588v1M241.5 588v1M242.5 588v1M243.5 588v1M244.5 588v1M245.5 588v1M246.5 588v1M247.5 588v1M248.5 588v1M250.5 587v1M251.5 587v1M252.5 586v1M253.5 585v1M254.5 584v2M255.5 583v2M256.5 582v2M257.5 582v2"/>
<path stroke="#3747cf" d="M235.5 584v4M236.5 586v2M237.5 587v2M238.5 588v1M239.5 588v2M240.5 589v1M241.5 589v1M242.5 589v2M243.5 589v2M244.5 589v1M245.5 589v1M246.5 589v1M247.5 589v1M248.5 589v1M249.5 588v2M250.5 588v1M251.5 588v1M252.5 587v1M253.5 586v2M254.5 586v1M255.5 585v2M256.5 584v2M257.5 584v2"/>
<path stroke="#344cd2" d="M234.5 585v4M235.5 588v2M236.5 588v2M237.5 589v2M238.5 589v2M239.5 590v2M240.5 590v2M241.5 590v3M242.5 591v2M243.5 591v2M244.5 590v2M245.5 590v2M246.5 590v2M247.5 590v2M248.5 590v1M249.5 590v1M250.5 589v2M251.5 589v1M252.5 588v2M253.5 588v2M254.5 587v2M255.5 587v2M256.5 586v3M257.5 586v3"/>
<path stroke="#3251d5" d="M233.5 585v4M234.5 589v2M235.5 590v2M236.5 590v3M237.5 591v2M238.5 591v3M239.5 592v2M240.5 592v3M241.5 593v2M242.5 593v2M243.5 593v2M244.5 592v3M245.5 592v2M246.5 592v2M247.5 592v2M248.5 591v2M249.5 591v2M250.5 591v2M251.5 590v2M252.5 590v2M253.5 590v2M254.5 589v2M255.5 589v2M256.5 589v2M257.5 589v2"/>
<path stroke="#3056d9" d="M232.5 585v4M233.5 589v3M234.5 591v2M235.5 592v2M236.5 593v2M237.5 593v3M238.5 594v2M239.5 594v3M240.5 595v2M241.5 595v3M242.5 595v3M243.5 595v3M244.5 595v3M245.5 594v3M246.5 594v3M247.5 594v3M248.5 593v3M249.5 593v3M250.5 593v2M251.5 592v3M252.5 592v3M253.5 592v2M254.5 591v3M255.5 591v3M256.5 591v2M257.5 591v2"/>
<path stroke="#2c5ddd" d="M231.5 585v4M232.5 589v3M233.5 592v2M234.5 593v3M235.5 594v3M236.5 595v2M237.5 596v2M238.5 596v3M239.5 597v3M240.5 597v3M241.5 598v3M242.5 598v3M243.5 598v3M244.5 598v3M245.5 597v3M246.5 597v3M247.5 597v3M248.5 596v3M249.5 596v3M250.5 595v4M251.5 595v3M252.5 595v3M253.5 594v3M254.5 594v3M255.5 594v3M256.5 593v3M257.5 593v3"/>
<path stroke="#2964e2" d="M230.5 584v5M231.5 589v3M232.5 592v3M233.5 594v3M234.5 596v2M235.5 597v2M236.5 597v3M237.5 598v3M238.5 599v3M239.5 600v3M240.5 600v4M241.5 601v3M242.5 601v3M243.5 601v3M244.5 601v3M245.5 600v4M246.5 600v3M247.5 600v3M248.5 599v4M249.5 599v3M250.5 599v3M251.5 598v4M252.5 598v4M253.5 597v4M254.5 597v4M255.5 597v4M256.5 596v4M257.5 596v4"/>
<path stroke="#266be7" d="M229.5 584v5M230.5 589v4M231.5 592v3M232.5 595v3M233.5 597v2M234.5 598v2M235.5 599v3M236.5 600v3M237.5 601v3M238.5 602v3M239.5 603v3M240.5 604v3M241.5 604v3M242.5 604v3M243.5 604v3M244.5 604v3M245.5 604v3M246.5 603v3M247.5 603v3M248.5 603v3M249.5 602v4M250.5 602v4M251.5 602v3M252.5 602v3M253.5 601v4M254.5 601v4M255.5 601v4M256.5 600v5M257.5 600v4"/>
<path stroke="#2372ec" d="M228.5 584v4M229.5 589v3M230.5 593v3M231.5 595v4M232.5 598v2M233.5 599v3M234.5 600v4M235.5 602v3M236.5 603v4M237.5 604v4M238.5 605v4M239.5 606v3M240.5 607v3M241.5 607v3M242.5 607v3M243.5 607v3M244.5 607v3M245.5 607v3M246.5 606v4M247.5 606v3M248.5 606v3M249.5 606v3M250.5 606v3M251.5 605v4M252.5 605v4M253.5 605v4M254.5 605v4M255.5 605v4M256.5 605v4M257.5 604v4"/>
<path stroke="#2079f0" d="M227.5 584v3M228.5 588v4M229.5 592v4M230.5 596v4M231.5 599v3M232.5 600v4M233.5 602v3M234.5 604v3M235.5 605v4M236.5 607v3M237.5 608v4M238.5 609v4M239.5 609v4M240.5 610v3M241.5 610v3M242.5 610v3M243.5 610v3M244.5 610v3M245.5 610v3M246.5 610v3M247.5 609v3M248.5 609v2M249.5 609v1M250.5 609v2M251.5 609v2M252.5 609v1M253.5 609v1M254.5 609v1M255.5 609v1"/>
<path stroke="#1c82f5" d="M226.5 584v2M227.5 587v4M228.5 592v4M229.5 596v4M230.5 600v3M231.5 602v3M232.5 604v3M233.5 605v4M234.5 607v3M235.5 609v3M236.5 610v5M237.5 612v3M238.5 613v2M239.5 613v2M240.5 613v2M241.5 613v2M242.5 613v2M243.5 613v2M244.5 613v1M245.5 613v1"/>
<path stroke="#1989f8" d="M226.5 586v4M227.5 591v4M228.5 596v4M229.5 600v4M230.5 603v4M231.5 605v4M232.5 607v3M233.5 609v3M234.5 610v5M235.5 612v3"/>
<path stroke="#188ef6" d="M225.5 584v5M226.5 590v4M227.5 595v4M228.5 600v5M229.5 604v4M230.5 607v3M231.5 609v3M232.5 610v5M233.5 612v3"/>
<path stroke="#1693f4" d="M224.5 583v4M225.5 589v4M226.5 594v4M227.5 599v6M228.5 605v4M229.5 608v4M230.5 610v5M231.5 612v3"/>
<path stroke="#1497f3" d="M224.5 587v4M225.5 593v4M226.5 598v7M227.5 605v7M228.5 609v6M229.5 612v3"/>
<path stroke="#129cf1" d="M223.5 583v7M224.5 591v4M225.5 597v10M226.5 605v10M227.5 612v3"/>
<path stroke="#10a0f0" d="M222.5 583v5M223.5 590v4M224.5 595v20M225.5 607v8"/>
<path stroke="#10a5ee" d="M186.5 585v1M187.5 585v1M221.5 583v2M222.5 588v5M223.5 594v5M223.5 603v12"/>
<path stroke="#10aaed" d="M186.5 584v1M221.5 585v6M222.5 593v4M222.5 604v11M223.5 599v4"/>
<path stroke="#10aeeb" d="M185.5 585v1M187.5 584v1M220.5 583v7M220.5 614v1M221.5 591v6M221.5 604v11M222.5 597v7"/>
<path stroke="#10b3ea" d="M185.5 584v1M219.5 583v5M219.5 611v4M220.5 590v6M220.5 603v11M221.5 597v7"/>
<path stroke="#10b7e8" d="M186.5 586v1M188.5 585v1M218.5 582v5M218.5 609v6M219.5 588v8M219.5 602v9M220.5 596v7"/>
<path stroke="#10bbe4" d="M184.5 585v1M185.5 586v1M187.5 586v1M217.5 582v3M217.5 608v7M218.5 587v9M218.5 601v8M219.5 596v6"/>
<path stroke="#10bedf" d="M184.5 584v1M184.5 586v1M188.5 584v1M215.5 613v2M216.5 607v8M217.5 585v11M217.5 600v8M218.5 596v5"/>
<path stroke="#10c1da" d="M183.5 585v2M214.5 611v4M215.5 605v8M216.5 582v15M216.5 599v8M217.5 596v4"/>
<path stroke="#10c4d6" d="M213.5 610v5M214.5 604v7M215.5 581v24M216.5 597v2"/>
<path stroke="#10c7d1" d="M182.5 585v3M183.5 584v1M183.5 587v1M184.5 587v1M185.5 583v1M185.5 587v1M186.5 583v1M188.5 586v1M212.5 610v5M213.5 604v6M214.5 581v23"/>
<path stroke="#10cacb" d="M181.5 585v3M182.5 584v1M186.5 587v1M187.5 583v1M211.5 613v2M212.5 604v6M213.5 581v23"/>
<path stroke="#10cec5" d="M180.5 586v1M182.5 588v1M183.5 588v1M184.5 583v1M184.5 588v1M189.5 585v1M211.5 606v7M212.5 594v10"/>
<path stroke="#10d1be" d="M180.5 585v1M180.5 587v1M181.5 584v1M181.5 588v1M183.5 583v1M185.5 588v1M187.5 587v1M189.5 584v1M210.5 611v4M211.5 600v6M212.5 580v14"/>
<path stroke="#10d4b8" d="M179.5 586v1M180.5 584v1M180.5 588v1M182.5 589v1M183.5 589v1M188.5 583v1M210.5 604v7M211.5 585v15"/>
<path stroke="#10d7b2" d="M179.5 585v1M179.5 587v1M181.5 589v1M184.5 589v1M186.5 588v1M188.5 587v1M189.5 586v1M209.5 610v5M210.5 597v7M211.5 580v5"/>
<path stroke="#10daac" d="M179.5 584v1M179.5 588v1M180.5 589v1M185.5 589v1M209.5 603v7M210.5 589v8"/>
<path stroke="#10dca8" d="M178.5 585v3M182.5 590v1M183.5 590v1M186.5 589v1M187.5 588v1M208.5 609v6M209.5 596v7M210.5 579v10"/>
<path stroke="#10dfa3" d="M178.5 588v1M179.5 589v1M181.5 590v1M184.5 590v1M208.5 602v7M209.5 591v5"/>
<path stroke="#10e19e" d="M180.5 590v1M185.5 590v1M187.5 589v1M188.5 588v1M189.5 583v1M189.5 587v1M190.5 585v1M207.5 609v6M208.5 596v6M209.5 585v6"/>
<path stroke="#10e499" d="M177.5 585v3M178.5 589v1M186.5 590v1M190.5 584v1M190.5 586v1M207.5 601v8M208.5 591v5M209.5 578v7"/>
<path stroke="#10e694" d="M177.5 588v1M179.5 590v1M181.5 591v1M182.5 591v1M183.5 591v1M184.5 591v1M188.5 589v1M206.5 608v7M207.5 595v6M208.5 588v3"/>
<path stroke="#10e88e" d="M180.5 591v1M185.5 591v1M187.5 590v1M189.5 588v1M206.5 600v8M207.5 592v3M208.5 584v4"/>
<path stroke="#10ea86" d="M176.5 585v3M177.5 589v1M178.5 590v1M186.5 591v1M190.5 583v1M190.5 587v1M205.5 607v8M206.5 595v5M207.5 589v3M208.5 578v6"/>
<path stroke="#10eb7f" d="M176.5 588v1M179.5 591v1M182.5 592v1M183.5 592v1M187.5 591v1M188.5 590v1M189.5 582v1M189.5 589v1M191.5 585v1M205.5 599v8M206.5 592v3M207.5 586v3"/>
<path stroke="#10ed77" d="M176.5 589v1M177.5 590v1M178.5 591v1M181.5 592v1M184.5 592v1M185.5 592v1M190.5 588v1M191.5 584v1M191.5 586v1M204.5 607v8M205.5 595v4M206.5 590v2M207.5 583v3"/>
<path stroke="#10ef6f" d="M175.5 585v3M180.5 592v1M186.5 592v1M188.5 591v1M189.5 590v1M190.5 589v1M191.5 587v1M204.5 598v9M205.5 592v3M206.5 587v3M207.5 578v5"/>
<path stroke="#10f067" d="M175.5 588v1M176.5 590v1M177.5 591v1M179.5 592v1M187.5 592v1M190.5 582v1M191.5 583v1M191.5 588v1M203.5 607v8M204.5 595v3M205.5 590v2M206.5 584v3M207.5 577v1"/>
<path stroke="#10f260" d="M36.5 591v18M37.5 590v20M38.5 589v22M39.5 589v22M39.5 612v1M40.5 589v25M41.5 589v26M42.5 589v26M43.5 591v24M44.5 593v22M45.5 594v21M46.5 594v21M47.5 595v20M48.5 595v20M49.5 596v19M50.5 596v19M51.5 596v19M52.5 596v19M53.5 596v19M54.5 596v19M55.5 596v19M56.5 596v19M57.5 596v19M58.5 596v19M59.5 596v19M60.5 596v19M61.5 597v18M62.5 597v18M63.5 598v17M64.5 598v17M65.5 599v16M66.5 604v11M67.5 610v5M175.5 589v1M178.5 592v1M181.5 593v1M182.5 593v1M183.5 593v1M184.5 593v1M189.5 591v1M190.5 590v1M191.5 589v1M192.5 585v2M203.5 598v9M204.5 592v3M205.5 588v2M206.5 582v2"/>
<path stroke="#10f358" d="M43.5 589v2M44.5 589v4M45.5 592v2M46.5 593v1M47.5 594v1M48.5 594v1M49.5 595v1M50.5 595v1M51.5 595v1M52.5 595v1M53.5 595v1M54.5 595v1M55.5 595v1M56.5 595v1M57.5 595v1M58.5 595v1M59.5 595v1M60.5 595v1M61.5 595v2M62.5 595v2M63.5 595v3M64.5 596v2M65.5 597v2M66.5 599v5M67.5 604v6M68.5 610v5M174.5 586v2M180.5 593v1M185.5 593v1M186.5 593v1M188.5 592v1M192.5 584v1M192.5 587v2M202.5 608v7M203.5 594v4M204.5 590v2M205.5 585v3M206.5 578v4"/>
<path stroke="#10f550" d="M45.5 588v4M46.5 591v2M47.5 593v1M48.5 593v1M49.5 594v1M50.5 594v1M51.5 594v1M58.5 594v1M59.5 594v1M60.5 594v1M61.5 594v1M62.5 594v1M63.5 594v1M64.5 594v2M65.5 595v2M66.5 596v3M67.5 600v4M68.5 606v4M69.5 611v4M174.5 588v1M175.5 590v1M176.5 591v1M177.5 592v1M179.5 593v1M187.5 593v1M189.5 592v1M190.5 591v1M191.5 582v1M191.5 590v1M192.5 583v1M192.5 589v1M202.5 598v10M203.5 592v2M204.5 588v2M205.5 583v2M206.5 577v1"/>
<path stroke="#10f648" d="M46.5 588v3M47.5 591v2M48.5 592v1M49.5 593v1M52.5 594v1M53.5 594v1M54.5 594v1M55.5 594v1M56.5 594v1M57.5 594v1M60.5 593v1M61.5 593v1M62.5 593v1M63.5 593v1M64.5 593v1M65.5 593v2M66.5 594v2M67.5 597v3M68.5 601v5M69.5 607v4M174.5 589v1M178.5 593v1M182.5 594v1M183.5 594v1M184.5 594v1M188.5 593v1M191.5 591v1M193.5 585v3M201.5 612v3M202.5 594v4M203.5 590v2M204.5 586v2M205.5 581v2"/>
<path stroke="#10f840" d="M47.5 588v3M50.5 593v1M51.5 593v1M58.5 593v1M59.5 593v1M61.5 592v1M62.5 586v1M62.5 592v1M63.5 586v1M63.5 591v2M64.5 591v2M65.5 592v1M66.5 592v2M67.5 594v3M68.5 598v3M69.5 604v3M70.5 609v6M173.5 586v2M174.5 590v1M175.5 591v1M176.5 592v1M180.5 594v1M181.5 594v1M185.5 594v1M186.5 594v1M189.5 593v1M190.5 592v1M192.5 582v1M192.5 590v1M193.5 583v2M193.5 588v2M201.5 600v12M202.5 592v2M203.5 588v2M204.5 584v2M205.5 577v4"/>
<path stroke="#1ff639" d="M48.5 588v1M48.5 591v1M49.5 592v1M52.5 593v1M53.5 593v1M56.5 593v1M57.5 593v1M60.5 592v1M61.5 587v1M61.5 591v1M62.5 587v1M62.5 591v1M63.5 587v4M64.5 586v5M65.5 586v1M65.5 589v3M66.5 590v2M67.5 592v2M68.5 594v4M69.5 599v5M70.5 606v3M71.5 612v3M173.5 588v1M177.5 593v1M179.5 594v1M187.5 594v1M190.5 593v1M191.5 592v1M192.5 591v1M193.5 590v1M194.5 585v3M201.5 594v6M202.5 589v3M203.5 585v3M204.5 582v2"/>
<path stroke="#30f432" d="M48.5 589v2M49.5 587v1M49.5 591v1M50.5 592v1M54.5 593v1M55.5 593v1M59.5 592v1M60.5 587v1M60.5 591v1M61.5 588v1M61.5 590v1M62.5 588v3M65.5 587v2M66.5 586v4M67.5 589v3M68.5 591v3M69.5 595v4M70.5 602v4M71.5 608v4M173.5 589v1M174.5 591v1M175.5 592v1M176.5 593v1M178.5 594v1M182.5 595v1M183.5 595v1M184.5 595v1M185.5 595v1M188.5 594v1M189.5 594v1M192.5 592v1M193.5 582v1M193.5 591v1M194.5 583v2M194.5 588v2M200.5 602v13M201.5 591v3M202.5 587v2M203.5 583v2M204.5 579v3"/>
<path stroke="#40f32b" d="M49.5 588v1M49.5 590v1M50.5 587v1M51.5 592v1M52.5 586v1M58.5 592v1M59.5 587v1M60.5 588v1M61.5 589v1M67.5 587v2M68.5 587v4M69.5 590v5M70.5 595v7M71.5 604v4M72.5 610v5M172.5 586v2M173.5 590v1M177.5 594v1M180.5 595v1M181.5 595v1M186.5 595v1M187.5 595v1M190.5 594v1M191.5 593v1M193.5 592v1M194.5 582v1M194.5 590v1M195.5 584v5M200.5 593v9M201.5 588v3M202.5 585v2M203.5 581v2M204.5 577v2"/>
<path stroke="#50f124" d="M49.5 589v1M50.5 591v1M51.5 587v1M52.5 592v1M53.5 592v1M56.5 592v1M57.5 592v1M58.5 587v1M59.5 591v1M60.5 589v2M69.5 588v2M70.5 588v7M71.5 597v7M72.5 606v4M73.5 612v3M172.5 588v1M173.5 591v1M174.5 592v1M175.5 593v1M179.5 595v1M188.5 595v1M189.5 595v1M191.5 594v1M192.5 593v1M193.5 593v1M194.5 581v1M194.5 591v2M195.5 583v1M195.5 589v2M196.5 586v2M199.5 607v8M200.5 590v3M201.5 586v2M202.5 583v2M203.5 579v2"/>
<path stroke="#5ef020" d="M50.5 588v1M50.5 590v1M51.5 591v1M54.5 592v1M55.5 592v1M58.5 591v1M59.5 588v1M59.5 590v1M71.5 589v8M72.5 603v3M73.5 608v4M172.5 589v1M176.5 594v1M178.5 595v1M181.5 596v1M182.5 596v1M183.5 596v1M184.5 596v1M185.5 596v1M186.5 596v1M187.5 596v1M190.5 595v1M191.5 595v1M192.5 594v1M193.5 594v1M194.5 593v1M195.5 581v2M195.5 591v2M196.5 583v3M196.5 588v3M197.5 587v2M199.5 589v18M200.5 586v4M201.5 584v2M202.5 581v2M203.5 578v1"/>
<path stroke="#69f020" d="M50.5 589v1M51.5 588v1M52.5 587v1M52.5 591v1M53.5 587v1M56.5 587v1M57.5 587v1M57.5 591v1M58.5 588v1M59.5 589v1M72.5 589v14M73.5 605v3M74.5 610v5M172.5 590v1M173.5 592v1M174.5 593v1M175.5 594v1M177.5 595v1M179.5 596v1M180.5 596v1M188.5 596v1M189.5 596v1M190.5 596v1M192.5 595v1M193.5 595v1M194.5 594v1M195.5 593v1M196.5 582v1M196.5 591v3M197.5 583v4M197.5 589v4M198.5 585v17M198.5 605v10M199.5 586v3M200.5 584v2M201.5 582v2M202.5 578v3"/>
<path stroke="#75f020" d="M51.5 589v2M53.5 591v1M54.5 587v1M55.5 587v1M56.5 591v1M58.5 589v2M73.5 589v16M74.5 606v4M75.5 612v3M171.5 587v2M172.5 591v1M173.5 593v1M174.5 594v1M176.5 595v1M177.5 596v1M178.5 596v1M180.5 597v1M181.5 597v1M182.5 597v1M183.5 597v1M184.5 597v1M185.5 597v1M186.5 597v1M187.5 597v1M188.5 597v1M189.5 597v1M190.5 597v1M191.5 596v1M192.5 596v1M193.5 596v1M194.5 595v2M195.5 594v3M196.5 580v2M196.5 594v3M197.5 581v2M197.5 593v6M198.5 583v2M198.5 602v3M199.5 583v3M200.5 582v2M201.5 579v3"/>
<path stroke="#81f020" d="M52.5 588v1M52.5 590v1M54.5 591v1M55.5 591v1M57.5 588v1M57.5 590v1M74.5 602v4M75.5 607v5M76.5 613v2M171.5 589v1M172.5 592v1M175.5 595v1M176.5 596v1M178.5 597v1M179.5 597v1M182.5 598v1M183.5 598v1M184.5 598v1M185.5 598v1M186.5 598v1M187.5 598v1M188.5 598v1M189.5 598v1M190.5 598v1M191.5 597v2M192.5 597v2M193.5 597v2M194.5 597v2M195.5 597v3M196.5 597v7M197.5 579v2M197.5 599v16M198.5 581v2M199.5 581v2M200.5 580v2M201.5 578v1"/>
<path stroke="#8dee20" d="M52.5 589v1M53.5 588v1M53.5 590v1M54.5 588v1M55.5 588v1M56.5 588v1M56.5 590v1M57.5 589v1M74.5 589v13M75.5 603v4M76.5 608v5M77.5 614v1M171.5 590v2M172.5 593v1M173.5 594v1M174.5 595v1M175.5 596v1M177.5 597v1M179.5 598v1M180.5 598v1M181.5 598v1M184.5 599v1M185.5 599v1M186.5 599v1M187.5 599v1M188.5 599v1M189.5 599v1M190.5 599v1M191.5 599v2M192.5 599v3M193.5 599v4M194.5 599v9M195.5 600v15M196.5 604v11M198.5 579v2M199.5 578v3M200.5 578v2"/>
<path stroke="#9aed20" d="M53.5 589v1M54.5 589v2M55.5 589v2M56.5 589v1M75.5 589v14M76.5 604v4M77.5 609v5M78.5 614v1M171.5 592v1M172.5 594v1M173.5 595v1M174.5 596v1M175.5 597v1M176.5 597v1M177.5 598v1M178.5 598v1M179.5 599v1M180.5 599v1M181.5 599v1M182.5 599v1M183.5 599v2M184.5 600v1M185.5 600v1M186.5 600v1M187.5 600v2M188.5 600v2M189.5 600v3M190.5 600v4M191.5 601v5M192.5 602v8M193.5 603v12M194.5 608v7"/>
<path stroke="#a7eb20" d="M76.5 589v15M77.5 605v4M78.5 609v5M79.5 613v2M170.5 587v2M171.5 593v1M172.5 595v1M173.5 596v1M174.5 597v1M175.5 598v1M176.5 598v2M177.5 599v1M178.5 599v2M179.5 600v1M180.5 600v2M181.5 600v2M182.5 600v2M183.5 601v2M184.5 601v2M185.5 601v3M186.5 601v4M187.5 602v4M188.5 602v5M189.5 603v6M190.5 604v9M191.5 606v9M192.5 610v5"/>
<path stroke="#b3ea20" d="M77.5 597v8M78.5 605v4M79.5 609v4M80.5 613v2M170.5 589v3M171.5 594v2M172.5 596v2M173.5 597v3M174.5 598v3M175.5 599v2M176.5 600v2M177.5 600v3M178.5 601v3M179.5 601v4M180.5 602v6M181.5 602v13M182.5 602v13M183.5 603v12M184.5 603v12M185.5 604v11M186.5 605v10M187.5 606v9M188.5 607v8M189.5 609v6M190.5 613v2"/>
<path stroke="#c0e820" d="M77.5 589v8M78.5 601v4M79.5 606v3M80.5 609v4M81.5 613v2M168.5 612v3M169.5 611v4M170.5 592v2M170.5 608v7M171.5 596v19M172.5 598v17M173.5 600v15M174.5 601v14M175.5 601v14M176.5 602v13M177.5 603v12M178.5 604v11M179.5 605v10M180.5 608v7"/>
<path stroke="#c8e520" d="M78.5 589v12M79.5 602v4M80.5 606v3M81.5 609v4M82.5 612v2M148.5 614v1M149.5 613v2M150.5 613v2M151.5 612v3M152.5 612v3M153.5 611v4M154.5 611v4M155.5 611v4M156.5 610v5M157.5 610v5M158.5 609v6M159.5 609v6M160.5 608v7M161.5 607v8M162.5 606v9M163.5 605v10M164.5 604v11M165.5 603v12M166.5 602v13M167.5 602v13M168.5 601v11M169.5 600v11M170.5 594v14"/>
<path stroke="#d0e220" d="M79.5 595v7M80.5 603v3M81.5 606v3M82.5 609v3M83.5 612v1M135.5 613v2M136.5 613v2M137.5 612v3M138.5 612v3M139.5 611v4M140.5 611v4M141.5 611v4M142.5 610v5M143.5 610v5M144.5 609v6M145.5 609v6M146.5 608v7M147.5 608v7M148.5 608v6M149.5 607v6M150.5 607v6M151.5 606v6M152.5 606v6M153.5 605v6M154.5 605v6M155.5 605v6M156.5 604v6M157.5 604v6M158.5 604v5M159.5 603v6M160.5 603v5M161.5 603v4M162.5 602v4M163.5 602v3M164.5 602v2M165.5 601v2M166.5 601v1M167.5 600v2M168.5 599v2M169.5 587v3M169.5 598v2"/>
<path stroke="#d8df20" d="M79.5 589v6M80.5 598v5M81.5 603v3M82.5 605v4M83.5 608v4M123.5 613v1M124.5 613v2M125.5 612v3M126.5 612v3M127.5 612v3M128.5 612v3M129.5 611v4M130.5 611v4M131.5 611v4M132.5 610v5M133.5 610v5M134.5 610v5M135.5 609v4M136.5 609v4M137.5 608v4M138.5 608v4M139.5 607v4M140.5 607v4M141.5 606v5M142.5 606v4M143.5 605v5M144.5 605v4M145.5 604v5M146.5 603v5M147.5 603v5M148.5 603v5M149.5 603v4M150.5 603v4M151.5 603v3M152.5 603v3M153.5 603v2M154.5 603v2M155.5 603v2M156.5 603v1M157.5 603v1M158.5 603v1M159.5 602v1M160.5 602v1M161.5 602v1M162.5 601v1M163.5 601v1M164.5 601v1M166.5 600v1M167.5 599v1M168.5 598v1M169.5 590v8"/>
<path stroke="#dfdb20" d="M80.5 592v6M81.5 599v4M82.5 602v3M83.5 604v4M84.5 606v5M85.5 608v2M121.5 611v1M122.5 610v3M123.5 610v3M124.5 610v3M125.5 609v3M126.5 609v3M127.5 609v3M128.5 608v4M129.5 608v3M130.5 608v3M131.5 607v4M132.5 607v3M133.5 607v3M134.5 606v4M135.5 606v3M136.5 605v4M137.5 605v3M138.5 604v4M139.5 604v3M140.5 603v4M141.5 602v4M142.5 602v4M143.5 602v3M144.5 601v4M145.5 601v3M146.5 601v2M147.5 601v2M148.5 601v2M149.5 601v2M150.5 601v2M151.5 602v1M152.5 602v1M153.5 602v1M154.5 602v1M155.5 602v1M156.5 602v1M157.5 602v1M158.5 602v1M160.5 601v1M161.5 601v1M163.5 600v1M164.5 600v1M165.5 600v1M166.5 599v1M167.5 598v1M168.5 596v2"/>
<path stroke="#e7d820" d="M80.5 589v3M81.5 595v4M82.5 599v3M83.5 601v3M84.5 602v4M85.5 603v5M86.5 605v5M87.5 606v5M88.5 608v2M118.5 609v1M119.5 609v2M120.5 608v3M121.5 608v3M122.5 608v2M123.5 607v3M124.5 607v3M125.5 607v2M126.5 606v3M127.5 606v3M128.5 606v2M129.5 605v3M130.5 605v3M131.5 604v3M132.5 604v3M133.5 603v4M134.5 603v3M135.5 602v4M136.5 602v3M137.5 601v4M138.5 601v3M139.5 601v3M140.5 600v3M141.5 600v2M142.5 600v2M143.5 599v3M144.5 599v2M145.5 599v2M146.5 599v2M147.5 600v1M148.5 600v1M149.5 600v1M150.5 600v1M151.5 601v1M152.5 601v1M153.5 601v1M154.5 601v1M155.5 601v1M156.5 601v1M157.5 601v1M158.5 601v1M159.5 601v1M161.5 600v1M162.5 600v1M164.5 599v1M165.5 599v1M166.5 598v1M167.5 597v1M168.5 594v2"/>
<path stroke="#ead420" d="M81.5 589v6M82.5 596v3M83.5 599v2M84.5 600v2M85.5 600v3M86.5 601v4M87.5 602v4M88.5 603v5M89.5 605v5M90.5 606v4M91.5 608v2M114.5 608v1M115.5 608v2M116.5 607v3M117.5 607v3M118.5 607v2M119.5 606v3M120.5 606v2M121.5 605v3M122.5 605v3M123.5 605v2M124.5 604v3M125.5 604v3M126.5 603v3M127.5 603v3M128.5 602v4M129.5 602v3M130.5 601v4M131.5 601v3M132.5 600v4M133.5 600v3M134.5 599v4M135.5 599v3M136.5 599v3M137.5 598v3M138.5 598v3M139.5 598v3M140.5 598v2M141.5 598v2M142.5 597v3M143.5 597v2M144.5 597v2M145.5 597v2M146.5 598v1M147.5 598v2M148.5 599v1M149.5 599v1M150.5 599v1M151.5 600v1M152.5 600v1M153.5 600v1M154.5 600v1M159.5 600v1M160.5 600v1M162.5 599v1M163.5 599v1M165.5 598v1M167.5 596v1M168.5 588v6"/>
<path stroke="#ecd020" d="M82.5 593v3M83.5 597v2M84.5 598v2M85.5 599v1M86.5 600v1M87.5 600v2M88.5 601v2M89.5 602v3M90.5 603v3M91.5 604v4M92.5 605v5M93.5 606v4M94.5 608v2M95.5 609v2M111.5 607v1M112.5 607v1M113.5 606v3M114.5 606v2M115.5 605v3M116.5 605v2M117.5 604v3M118.5 604v3M119.5 604v2M120.5 603v3M121.5 603v2M122.5 602v3M123.5 602v3M124.5 601v3M125.5 600v4M126.5 599v4M127.5 598v5M128.5 598v4M129.5 597v5M130.5 597v4M131.5 597v4M132.5 596v4M133.5 596v4M134.5 596v3M135.5 596v3M136.5 596v3M137.5 596v2M138.5 595v3M139.5 595v3M140.5 595v3M141.5 595v3M142.5 595v2M143.5 595v2M144.5 595v2M145.5 595v2M146.5 596v2M147.5 597v1M148.5 597v2M149.5 598v1M150.5 598v1M151.5 599v1M152.5 599v1M153.5 599v1M155.5 600v1M156.5 600v1M157.5 600v1M158.5 600v1M160.5 599v1M161.5 599v1M163.5 598v1M164.5 598v1M166.5 597v1M167.5 595v1"/>
<path stroke="#eecc20" d="M82.5 588v5M83.5 594v3M84.5 596v2M85.5 598v1M86.5 598v2M87.5 599v1M88.5 600v1M89.5 601v1M90.5 601v2M91.5 602v2M92.5 602v3M93.5 603v3M94.5 604v4M95.5 605v4M96.5 606v4M97.5 608v2M106.5 606v1M107.5 606v1M108.5 605v3M109.5 605v2M110.5 604v3M111.5 604v3M112.5 603v4M113.5 603v3M114.5 603v3M115.5 602v3M116.5 602v3M117.5 601v3M118.5 600v4M119.5 598v6M120.5 596v7M121.5 595v8M122.5 594v8M123.5 594v8M124.5 594v7M125.5 593v7M126.5 593v6M127.5 593v5M128.5 593v5M129.5 593v4M130.5 593v4M131.5 593v4M132.5 593v3M133.5 593v3M134.5 593v3M135.5 593v3M136.5 593v3M137.5 593v3M138.5 593v2M139.5 593v2M140.5 593v2M141.5 593v2M142.5 593v2M143.5 593v2M144.5 593v2M145.5 593v2M146.5 594v2M147.5 595v2M148.5 596v1M149.5 597v1M150.5 597v1M151.5 598v1M152.5 598v1M154.5 599v1M155.5 599v1M156.5 599v1M157.5 599v1M158.5 599v1M159.5 599v1M161.5 598v1M162.5 598v1M164.5 597v1M165.5 597v1M166.5 596v1M167.5 593v2"/>
<path stroke="#f0c820" d="M83.5 591v3M84.5 595v1M85.5 596v2M86.5 597v1M87.5 598v1M88.5 599v1M89.5 600v1M90.5 600v1M91.5 601v1M92.5 601v1M93.5 602v1M94.5 602v2M95.5 602v3M96.5 603v3M97.5 604v4M98.5 604v5M99.5 605v4M100.5 606v2M101.5 605v3M102.5 605v2M103.5 604v4M104.5 604v3M105.5 603v4M106.5 603v3M107.5 602v4M108.5 602v3M109.5 602v3M110.5 601v3M111.5 601v3M112.5 600v3M113.5 599v4M114.5 598v5M115.5 597v5M116.5 596v6M117.5 594v7M118.5 589v11M119.5 589v9M120.5 589v7M121.5 589v6M122.5 589v5M123.5 589v5M124.5 589v5M125.5 589v4M126.5 589v4M127.5 589v4M128.5 589v4M129.5 589v4M130.5 589v4M131.5 589v4M132.5 589v4M133.5 589v4M134.5 589v4M135.5 589v4M136.5 589v4M137.5 590v3M138.5 590v3M139.5 590v3M140.5 590v3M141.5 590v3M142.5 590v3M143.5 590v3M144.5 590v3M145.5 590v3M146.5 591v3M147.5 593v2M148.5 595v1M149.5 596v1M150.5 596v1M151.5 597v1M152.5 597v1M153.5 598v1M154.5 598v1M159.5 598v1M160.5 598v1M162.5 597v1M163.5 597v1M165.5 596v1M166.5 595v1M167.5 592v1"/>
<path stroke="#f2c320" d="M83.5 588v3M84.5 592v3M85.5 595v1M86.5 596v1M87.5 597v1M88.5 598v1M89.5 599v1M90.5 599v1M91.5 600v1M92.5 600v1M93.5 601v1M94.5 601v1M95.5 601v1M96.5 601v2M97.5 602v2M98.5 602v2M99.5 602v3M100.5 602v4M101.5 602v3M102.5 602v3M103.5 601v3M104.5 601v3M105.5 601v2M106.5 600v3M107.5 600v2M108.5 599v3M109.5 599v3M110.5 598v3M111.5 597v4M112.5 596v4M113.5 595v4M114.5 593v5M115.5 591v6M116.5 589v7M117.5 589v5M146.5 590v1M147.5 590v3M148.5 593v2M149.5 594v2M150.5 595v1M151.5 596v1M153.5 597v1M155.5 598v1M156.5 598v1M157.5 598v1M158.5 598v1M160.5 597v1M161.5 597v1M163.5 596v1M164.5 596v1M165.5 595v1M166.5 594v1M167.5 588v4"/>
<path stroke="#f4bf20" d="M84.5 588v4M85.5 592v3M86.5 595v1M87.5 596v1M88.5 597v1M89.5 598v1M91.5 599v1M93.5 600v1M94.5 600v1M95.5 600v1M97.5 601v1M98.5 601v1M99.5 601v1M100.5 601v1M101.5 600v2M102.5 600v2M103.5 600v1M104.5 599v2M105.5 599v2M106.5 598v2M107.5 597v3M108.5 597v2M109.5 596v3M110.5 595v3M111.5 593v4M112.5 592v4M113.5 589v6M114.5 589v4M115.5 589v2M148.5 590v3M149.5 593v1M150.5 594v1M151.5 595v1M152.5 596v1M153.5 596v1M154.5 597v1M155.5 597v1M158.5 597v1M159.5 597v1M161.5 596v1M162.5 596v1M164.5 595v1M165.5 594v1M166.5 593v1"/>
<path stroke="#f7bb20" d="M85.5 587v5M86.5 593v2M87.5 595v1M90.5 598v1M92.5 599v1M93.5 599v1M96.5 600v1M97.5 600v1M98.5 600v1M99.5 600v1M100.5 599v2M101.5 599v1M102.5 599v1M103.5 598v2M104.5 598v1M105.5 597v2M106.5 596v2M107.5 595v2M108.5 594v3M109.5 593v3M110.5 590v5M111.5 589v4M112.5 589v3M149.5 590v3M150.5 593v1M151.5 594v1M152.5 595v1M154.5 596v1M156.5 597v1M157.5 597v1M160.5 596v1M162.5 595v1M163.5 595v1M166.5 592v1"/>
<path stroke="#f8b720" d="M86.5 587v6M87.5 587v1M87.5 594v1M88.5 596v1M89.5 597v1M91.5 598v1M92.5 598v1M94.5 599v1M95.5 599v1M96.5 599v1M97.5 599v1M98.5 599v1M99.5 599v1M100.5 598v1M101.5 598v1M102.5 597v2M103.5 597v1M104.5 596v2M105.5 595v2M106.5 594v2M107.5 592v3M108.5 589v5M109.5 589v4M110.5 589v1M150.5 591v2M151.5 593v1M152.5 594v1M153.5 595v1M154.5 595v1M155.5 596v1M156.5 596v1M157.5 596v1M158.5 596v1M159.5 596v1M161.5 595v1M163.5 594v1M164.5 594v1M165.5 593v1M166.5 588v4"/>
<path stroke="#f8b320" d="M87.5 588v6M88.5 587v2M88.5 594v2M89.5 596v1M90.5 597v1M91.5 597v1M93.5 598v1M94.5 598v1M95.5 598v1M96.5 598v1M97.5 598v1M98.5 598v1M99.5 598v1M100.5 597v1M101.5 597v1M102.5 596v1M103.5 595v2M104.5 594v2M105.5 592v3M106.5 589v5M107.5 589v3M151.5 591v2M152.5 593v1M153.5 594v1M155.5 595v1M159.5 595v1M160.5 595v1M161.5 594v1M162.5 594v1M164.5 593v1M165.5 592v1"/>
<path stroke="#f8ae20" d="M88.5 589v5M89.5 588v1M89.5 595v1M90.5 596v1M92.5 597v1M98.5 597v1M99.5 597v1M100.5 596v1M101.5 596v1M102.5 594v2M103.5 589v6M104.5 589v5M105.5 589v3M152.5 591v2M153.5 593v1M154.5 594v1M156.5 595v1M157.5 595v1M158.5 595v1M160.5 594v1M162.5 593v1M163.5 593v1M164.5 592v1M165.5 589v3"/>
<path stroke="#f8aa20" d="M89.5 589v6M90.5 588v2M90.5 595v1M91.5 588v1M91.5 596v1M93.5 597v1M94.5 597v1M95.5 597v1M96.5 597v1M97.5 597v1M99.5 596v1M100.5 589v1M100.5 595v1M101.5 589v3M101.5 593v3M102.5 589v5M153.5 591v2M154.5 592v2M155.5 594v1M156.5 594v1M157.5 594v1M158.5 594v1M159.5 594v1M160.5 593v1M161.5 593v1M162.5 592v1M163.5 592v1M164.5 589v3"/>
<path stroke="#f8a61f" d="M90.5 590v2M90.5 594v1M91.5 589v1M91.5 595v1M92.5 589v1M92.5 596v1M93.5 589v1M93.5 596v1M96.5 589v1M97.5 589v1M97.5 596v1M98.5 589v1M98.5 596v1M99.5 589v2M99.5 595v1M100.5 590v5M101.5 592v1M154.5 591v1M155.5 591v3M156.5 593v1M157.5 593v1M158.5 593v1M159.5 593v1M160.5 592v1M161.5 591v2M162.5 590v2M163.5 590v2"/>
<path stroke="#f8a11e" d="M90.5 592v2M91.5 590v3M91.5 594v1M92.5 590v1M92.5 595v1M93.5 590v1M94.5 589v2M94.5 596v1M95.5 589v2M95.5 596v1M96.5 590v1M96.5 596v1M97.5 590v1M97.5 595v1M98.5 590v2M98.5 595v1M99.5 591v4M156.5 592v1M157.5 592v1M158.5 591v2M159.5 591v2M160.5 591v1M161.5 590v1"/>
<path stroke="#f89c1c" d="M91.5 593v1M92.5 591v4M93.5 591v1M93.5 595v1M94.5 591v1M94.5 595v1M95.5 591v1M95.5 595v1M96.5 591v1M96.5 595v1M97.5 591v2M97.5 594v1M98.5 592v3"/>
<path stroke="#f8981b" d="M93.5 592v3M94.5 592v3M95.5 592v3M96.5 592v3M97.5 593v1"/>
</g>
<rect x="66.1" y="588.21" width="88" height="14.08" fill="none" stroke="#000" stroke-opacity="0.5" stroke-width="1.2"/>
<g fill="#1a1a1a"><circle cx="37.9" cy="591.35" r="0.9"/><circle cx="44.94" cy="590.65" r="0.9"/><circle cx="51.98" cy="588.45" r="0.9"/><circle cx="59.02" cy="588.75" r="0.9"/><circle cx="66.05" cy="588.15" r="0.9"/><circle cx="73.09" cy="591.35" r="0.9"/><circle cx="80.13" cy="591.05" r="0.9"/><circle cx="87.17" cy="588.85" r="0.9"/><circle cx="94.21" cy="591.45" r="0.9"/><circle cx="101.25" cy="591.05" r="0.9"/><circle cx="108.29" cy="591.05" r="0.9"/><circle cx="115.33" cy="591.05" r="0.9"/><circle cx="122.36" cy="590.55" r="0.9"/><circle cx="129.4" cy="591.05" r="0.9"/><circle cx="136.44" cy="591.45" r="0.9"/><circle cx="143.48" cy="591.95" r="0.9"/><circle cx="150.52" cy="592.55" r="0.9"/><circle cx="157.56" cy="593.75" r="0.9"/><circle cx="164.6" cy="591.25" r="0.9"/><circle cx="171.64" cy="588.45" r="0.9"/><circle cx="178.67" cy="586.55" r="0.9"/><circle cx="185.71" cy="584.95" r="0.9"/><circle cx="192.75" cy="584.05" r="0.9"/><circle cx="199.79" cy="580.15" r="0.9"/><circle cx="206.83" cy="578.95" r="0.9"/><circle cx="213.87" cy="582.85" r="0.9"/><circle cx="220.91" cy="584.95" r="0.9"/><circle cx="227.94" cy="585.95" r="0.9"/><circle cx="234.98" cy="587.05" r="0.9"/><circle cx="242.02" cy="579.45" r="0.9"/><circle cx="249.06" cy="578.35" r="0.9"/><circle cx="256.1" cy="577.55" r="0.9"/></g>
<path d="M37.9 577.65V612.84H256.1" fill="none" stroke="#8c8c8c" stroke-width="1"/>
<path d="M37.9 612.84v2.3M73.09 612.84v2.3M108.29 612.84v2.3M143.48 612.84v2.3M178.67 612.84v2.3M213.87 612.84v2.3M249.06 612.84v2.3M37.9 612.84h-2.3M37.9 598.77h-2.3M37.9 584.69h-2.3" stroke="#555" stroke-width="1"/>
<g font-size="9" fill="#262626" text-anchor="middle">
<text x="37.9" y="628.04">0</text>
<text x="73.09" y="628.04">50</text>
<text x="108.29" y="628.04">100</text>
<text x="143.48" y="628.04">150</text>
<text x="178.67" y="628.04">200</text>
<text x="213.87" y="628.04">250</text>
<text x="249.06" y="628.04">300</text>
</g>
<g font-size="9" fill="#262626" text-anchor="end">
<text x="32.3" y="616.04">420</text>
<text x="32.3" y="601.97">440</text>
<text x="32.3" y="587.89">460</text>
</g>
<text font-size="9" fill="#262626" text-anchor="middle" transform="translate(12.6 595.25) rotate(-90)">height (m)</text>
<text font-size="9" fill="#262626" text-anchor="middle" x="147" y="639.84">x (m)</text>
<text font-size="16" font-weight="bold" fill="#000" x="44" y="639.15">(d)</text>
<g clip-path="url(#ce)" stroke-width="1">
<path stroke="#2079f0" d="M330.5 60v1M331.5 60v2M332.5 60v2M333.5 61v2M334.5 61v3M335.5 62v2M336.5 62v2"/>
<path stroke="#1c82f5" d="M329.5 60v2M330.5 61v2M331.5 62v1M332.5 62v1M333.5 63v1M335.5 64v1M336.5 64v1"/>
<path stroke="#1989f8" d="M328.5 60v1M329.5 62v1M331.5 63v1M332.5 63v1M333.5 64v1M334.5 64v1M335.5 65v1M336.5 65v1M337.5 63v2"/>
<path stroke="#188ef6" d="M328.5 61v2M329.5 63v1M330.5 63v1M332.5 64v1M334.5 65v1M337.5 65v1"/>
<path stroke="#1693f4" d="M327.5 59v3M330.5 64v1M331.5 64v1M333.5 65v1M335.5 66v1M336.5 66v1M338.5 63v2"/>
<path stroke="#1497f3" d="M326.5 59v2M327.5 62v1M328.5 63v1M329.5 64v1M330.5 65v1M331.5 65v1M332.5 65v1M333.5 66v1M334.5 66v1M337.5 66v1M338.5 65v1"/>
<path stroke="#129cf1" d="M325.5 59v2M326.5 61v2M327.5 63v1M328.5 64v1M329.5 65v1M332.5 66v1M334.5 67v1M335.5 67v1M336.5 67v1M338.5 66v1"/>
<path stroke="#10a0f0" d="M324.5 60v2M325.5 61v2M326.5 63v1M327.5 64v1M328.5 65v1M329.5 66v1M330.5 66v1M331.5 66v1M333.5 67v1M337.5 67v1M339.5 64v1"/>
<path stroke="#10a5ee" d="M323.5 61v2M324.5 62v1M325.5 63v1M326.5 64v1M327.5 65v1M328.5 66v1M330.5 67v1M331.5 67v1M332.5 67v1M334.5 68v1M335.5 68v1M336.5 68v1M337.5 68v1M338.5 67v1M339.5 65v1"/>
<path stroke="#10aaed" d="M323.5 63v1M324.5 63v2M325.5 64v1M326.5 65v1M327.5 66v1M328.5 67v1M329.5 67v1M331.5 68v1M332.5 68v1M333.5 68v1M335.5 69v1M339.5 66v1"/>
<path stroke="#10aeeb" d="M323.5 64v2M324.5 65v1M325.5 65v2M326.5 66v1M327.5 67v1M328.5 68v1M329.5 68v1M330.5 68v1M333.5 69v1M334.5 69v1M336.5 69v1M337.5 69v1M338.5 68v1M339.5 67v1M340.5 64v2"/>
<path stroke="#10b3ea" d="M323.5 66v1M324.5 66v1M325.5 67v1M326.5 67v1M327.5 68v1M329.5 69v1M330.5 69v1M331.5 69v1M332.5 69v1M334.5 70v1M335.5 70v1"/>
<path stroke="#10b7e8" d="M323.5 67v2M324.5 67v2M325.5 68v1M326.5 68v2M327.5 69v1M328.5 69v1M330.5 70v1M331.5 70v1M332.5 70v1M333.5 70v1M336.5 70v1M337.5 70v1M338.5 69v1M339.5 68v1M340.5 66v1"/>
<path stroke="#10bbe4" d="M323.5 69v1M324.5 69v1M325.5 69v1M326.5 70v1M327.5 70v1M328.5 70v1M329.5 70v1M333.5 71v1M334.5 71v1M335.5 71v1M336.5 71v1M340.5 67v1M341.5 64v1"/>
<path stroke="#10bedf" d="M323.5 70v2M324.5 70v2M325.5 70v2M326.5 71v1M327.5 71v1M328.5 71v1M329.5 71v1M330.5 71v1M331.5 71v1M332.5 71v1M337.5 71v1M338.5 70v1M339.5 69v1M341.5 65v1"/>
<path stroke="#10c1da" d="M323.5 72v1M324.5 72v1M325.5 72v1M326.5 72v1M327.5 72v1M328.5 72v1M329.5 72v1M330.5 72v1M331.5 72v1M332.5 72v1M333.5 72v1M334.5 72v1M335.5 72v1M336.5 72v1M340.5 68v1M341.5 66v1"/>
<path stroke="#10c4d6" d="M324.5 73v2M325.5 73v2M326.5 73v2M327.5 73v1M328.5 73v1M329.5 73v1M330.5 73v1M331.5 73v1M332.5 73v1M333.5 73v1M334.5 73v1M335.5 73v1M337.5 72v1M338.5 71v1M339.5 70v1M342.5 64v1"/>
<path stroke="#10c7d1" d="M325.5 75v1M326.5 75v1M327.5 74v2M328.5 74v2M329.5 74v2M330.5 74v1M331.5 74v1M332.5 74v1M333.5 74v1M334.5 74v1M336.5 73v1M340.5 69v1M341.5 67v1M342.5 65v1"/>
<path stroke="#10cacb" d="M326.5 76v1M327.5 76v2M328.5 76v1M329.5 76v1M330.5 75v2M331.5 75v2M332.5 75v1M333.5 75v1M334.5 75v1M335.5 74v1M337.5 73v1M338.5 72v1M339.5 71v1M342.5 66v1"/>
<path stroke="#10cec5" d="M328.5 77v2M329.5 77v2M330.5 77v1M331.5 77v1M332.5 76v2M333.5 76v2M334.5 76v1M335.5 75v1M336.5 74v1M340.5 70v1M341.5 68v1M343.5 64v1M358.5 64v1M359.5 64v1"/>
<path stroke="#10d1be" d="M330.5 78v2M331.5 78v1M332.5 78v1M333.5 78v1M334.5 77v2M335.5 76v2M336.5 75v1M337.5 74v1M338.5 73v1M339.5 72v1M342.5 67v1M343.5 65v1M357.5 64v1M358.5 63v1M359.5 63v1M360.5 63v2"/>
<path stroke="#10d4b8" d="M331.5 79v2M332.5 79v2M333.5 79v1M334.5 79v1M335.5 78v1M336.5 76v1M337.5 75v1M338.5 74v1M340.5 71v1M341.5 69v1M357.5 63v1M358.5 62v1M358.5 65v1M359.5 62v1M359.5 65v1"/>
<path stroke="#10d7b2" d="M333.5 80v2M334.5 80v1M335.5 79v1M336.5 77v1M337.5 76v1M339.5 73v1M343.5 66v1M344.5 64v1M356.5 63v2M357.5 62v1M357.5 65v1M360.5 62v1M360.5 65v1M361.5 63v2"/>
<path stroke="#10daac" d="M334.5 81v1M335.5 80v1M336.5 78v2M337.5 77v1M338.5 75v1M339.5 74v1M340.5 72v1M341.5 70v1M342.5 68v1M344.5 65v1"/>
<path stroke="#10dca8" d="M334.5 82v1M335.5 81v1M336.5 80v1M337.5 78v1M338.5 76v1M343.5 67v1M356.5 62v1M356.5 65v1M358.5 61v1M361.5 62v1M361.5 65v1"/>
<path stroke="#10dfa3" d="M335.5 82v1M336.5 81v1M337.5 79v1M338.5 77v1M339.5 75v1M340.5 73v1M341.5 71v1M342.5 69v1M344.5 66v1M345.5 64v1M355.5 63v2M357.5 61v1M358.5 66v1M359.5 61v1M359.5 66v1M360.5 61v1M360.5 66v1M362.5 63v2"/>
<path stroke="#10e19e" d="M336.5 82v1M337.5 80v1M338.5 78v1M339.5 76v1M340.5 74v1M345.5 65v1M355.5 62v1M356.5 61v1M357.5 66v1M361.5 61v1M362.5 62v1M362.5 65v1"/>
<path stroke="#10e499" d="M336.5 83v1M337.5 81v1M338.5 79v1M339.5 77v1M340.5 75v1M341.5 72v1M343.5 68v1M346.5 63v1M354.5 63v1M355.5 65v1M361.5 66v1"/>
<path stroke="#10e694" d="M337.5 82v1M338.5 80v1M339.5 78v1M340.5 76v1M342.5 70v1M344.5 67v1M346.5 64v1M354.5 62v1M354.5 64v1M355.5 61v1M356.5 66v1M357.5 60v1M358.5 60v1M359.5 60v1M360.5 60v1M362.5 61v1M363.5 63v2"/>
<path stroke="#10e88e" d="M337.5 83v1M338.5 81v1M339.5 79v1M340.5 77v1M341.5 73v1M345.5 66v1M346.5 65v1M347.5 63v1M354.5 61v1M356.5 60v1M361.5 60v1M362.5 66v1M363.5 62v1M363.5 65v1"/>
<path stroke="#10ea86" d="M338.5 82v1M339.5 80v1M340.5 78v1M341.5 74v1M342.5 71v1M343.5 69v1M347.5 64v1M353.5 62v3M354.5 65v1M358.5 67v1M359.5 67v1M360.5 67v1M362.5 60v1M363.5 61v1"/>
<path stroke="#10eb7f" d="M338.5 83v1M339.5 81v1M340.5 79v1M341.5 75v1M344.5 68v1M353.5 61v1M355.5 66v1M357.5 67v1M359.5 59v1M360.5 59v1M364.5 62v3"/>
<path stroke="#10ed77" d="M339.5 82v1M340.5 80v1M341.5 76v1M342.5 72v1M343.5 70v1M345.5 67v1M346.5 66v1M347.5 65v1M348.5 63v1M352.5 62v2M361.5 59v1M361.5 67v1M362.5 59v1M363.5 60v1M363.5 66v1M364.5 61v1M364.5 65v1"/>
<path stroke="#10ef6f" d="M339.5 83v2M340.5 81v1M341.5 77v2M348.5 64v1M349.5 62v2M350.5 62v1M351.5 62v2M352.5 64v1M353.5 65v1M354.5 66v1M356.5 67v1M362.5 58v1M363.5 59v1M364.5 60v1"/>
<path stroke="#10f067" d="M340.5 82v1M341.5 79v1M342.5 73v1M344.5 69v1M349.5 64v1M350.5 63v1M351.5 64v1M362.5 67v1M363.5 58v1M364.5 58v2M365.5 62v3"/>
<path stroke="#10f260" d="M340.5 83v2M341.5 80v1M342.5 74v1M343.5 71v1M345.5 68v1M346.5 67v1M347.5 66v1M348.5 65v1M350.5 64v1M352.5 65v1M355.5 67v1M364.5 66v1M365.5 59v3"/>
<path stroke="#10f358" d="M341.5 81v2M342.5 75v1M349.5 65v1M351.5 65v1M353.5 66v1M358.5 68v1M359.5 68v1M360.5 68v1M363.5 67v1M365.5 58v1M365.5 65v1"/>
<path stroke="#10f550" d="M341.5 83v1M342.5 76v3M343.5 72v1M344.5 70v1M348.5 66v1M350.5 65v1M357.5 68v1M361.5 68v1M366.5 60v4M487.5 63v1M488.5 63v1"/>
<path stroke="#10f648" d="M341.5 84v1M342.5 79v2M345.5 69v1M347.5 67v1M352.5 66v1M354.5 67v1M362.5 68v1M364.5 67v1M365.5 66v1M366.5 58v2M366.5 64v1M486.5 63v1M487.5 64v1M488.5 64v1M489.5 63v1"/>
<path stroke="#10f840" d="M342.5 81v2M343.5 73v1M346.5 68v1M349.5 66v1M351.5 66v1M356.5 68v1M363.5 68v1M366.5 65v1M486.5 64v1M487.5 62v1M488.5 62v1M489.5 64v1"/>
<path stroke="#1ff639" d="M342.5 83v3M344.5 71v1M350.5 66v1M353.5 67v1M355.5 68v1M365.5 67v1M366.5 66v1M367.5 58v6M486.5 62v1M489.5 62v1"/>
<path stroke="#30f432" d="M343.5 74v1M348.5 67v1M358.5 69v1M359.5 69v1M360.5 69v1M361.5 69v1M364.5 68v1M367.5 64v1M485.5 63v1M487.5 65v1M488.5 65v1M490.5 63v1"/>
<path stroke="#40f32b" d="M343.5 75v9M344.5 72v1M345.5 70v1M346.5 69v1M347.5 68v1M349.5 67v1M352.5 67v1M354.5 68v1M357.5 69v1M362.5 69v1M366.5 67v1M367.5 65v1M368.5 60v2M485.5 62v1M485.5 64v1M486.5 65v1M487.5 61v1M488.5 61v1M489.5 65v1M490.5 62v1M490.5 64v1"/>
<path stroke="#50f124" d="M343.5 84v2M350.5 67v1M351.5 67v1M356.5 69v1M363.5 69v1M365.5 68v1M367.5 66v1M368.5 58v2M368.5 62v3M372.5 61v2M373.5 61v2M386.5 63v1M387.5 62v2M388.5 62v2M389.5 63v1M394.5 64v1M395.5 64v1M486.5 61v1M489.5 61v1"/>
<path stroke="#5ef020" d="M344.5 73v1M345.5 71v1M348.5 68v1M353.5 68v1M364.5 69v1M366.5 68v1M367.5 67v1M368.5 65v1M369.5 59v4M370.5 61v1M371.5 60v3M372.5 60v1M373.5 60v1M374.5 61v2M386.5 62v1M386.5 64v1M387.5 61v1M387.5 64v1M388.5 61v1M388.5 64v1M389.5 62v1M389.5 64v1M390.5 62v2M393.5 63v2M394.5 63v1M394.5 65v1M395.5 63v1M484.5 63v1M485.5 65v1M490.5 65v1M491.5 63v1"/>
<path stroke="#69f020" d="M344.5 79v7M346.5 70v1M347.5 69v1M352.5 68v1M355.5 69v1M359.5 70v1M360.5 70v1M361.5 70v1M362.5 70v1M365.5 69v1M368.5 66v1M369.5 58v1M369.5 63v2M370.5 59v2M370.5 62v2M371.5 63v1M372.5 59v1M372.5 63v1M373.5 63v1M374.5 60v1M385.5 61v4M386.5 61v1M389.5 61v1M390.5 61v1M390.5 64v1M391.5 62v3M392.5 62v3M393.5 62v1M393.5 65v1M394.5 62v1M395.5 62v1M395.5 65v1M396.5 63v2M484.5 62v1M484.5 64v1M485.5 61v1M487.5 66v1M488.5 66v1M490.5 61v1M491.5 62v1M491.5 64v1"/>
<path stroke="#75f020" d="M344.5 74v5M349.5 68v1M350.5 68v1M351.5 68v1M354.5 69v1M357.5 70v1M358.5 70v1M363.5 70v1M364.5 70v1M366.5 69v1M367.5 68v1M368.5 67v1M369.5 65v1M370.5 58v1M370.5 64v1M371.5 59v1M373.5 59v1M374.5 59v1M374.5 63v1M375.5 60v3M384.5 61v4M385.5 60v1M386.5 60v1M386.5 65v1M387.5 60v1M387.5 65v1M388.5 65v1M389.5 65v1M390.5 65v1M391.5 61v1M391.5 65v1M392.5 61v1M392.5 65v1M393.5 61v1M393.5 66v1M394.5 61v1M394.5 66v1M395.5 66v1M396.5 62v1M396.5 65v1M486.5 60v1M486.5 66v1M487.5 60v1M488.5 60v1M489.5 60v1M489.5 66v1"/>
<path stroke="#81f020" d="M345.5 72v1M345.5 82v4M348.5 69v1M353.5 69v1M356.5 70v1M361.5 71v1M362.5 71v1M365.5 70v1M367.5 69v1M368.5 68v1M369.5 66v2M370.5 65v1M371.5 58v1M371.5 64v1M372.5 58v1M372.5 64v1M373.5 64v1M375.5 59v1M375.5 63v1M382.5 60v4M383.5 60v5M384.5 60v1M384.5 65v1M385.5 65v1M386.5 66v1M387.5 66v1M388.5 66v1M389.5 66v1M390.5 66v1M391.5 66v1M392.5 66v1M396.5 66v1M397.5 63v2M484.5 61v1M484.5 65v1M491.5 61v1M491.5 65v1"/>
<path stroke="#8dee20" d="M345.5 80v2M346.5 71v1M346.5 85v1M347.5 70v1M349.5 69v1M352.5 69v1M355.5 70v1M359.5 71v1M360.5 71v1M363.5 71v1M364.5 71v1M365.5 71v1M366.5 70v1M367.5 70v1M368.5 69v1M369.5 68v1M370.5 66v2M371.5 65v2M372.5 65v1M373.5 65v1M374.5 64v1M375.5 64v1M376.5 59v5M380.5 59v4M381.5 60v5M382.5 64v2M383.5 65v2M384.5 66v1M385.5 66v2M386.5 67v1M387.5 67v1M388.5 67v1M389.5 67v1M390.5 67v1M391.5 67v1M392.5 67v1M393.5 67v1M394.5 67v1M395.5 67v1M397.5 62v1M397.5 65v1M483.5 62v3M485.5 60v1M485.5 66v1M490.5 60v1M490.5 66v1M492.5 62v2M533.5 60v1M534.5 60v1"/>
<path stroke="#9aed20" d="M345.5 73v1M345.5 78v2M346.5 82v3M347.5 85v1M350.5 69v1M351.5 69v1M354.5 70v1M357.5 71v1M358.5 71v1M360.5 72v1M361.5 72v1M362.5 72v1M363.5 72v1M364.5 72v1M365.5 72v1M366.5 71v1M367.5 71v1M368.5 70v1M369.5 69v2M370.5 68v2M371.5 67v2M372.5 66v3M373.5 66v2M374.5 65v2M375.5 65v2M376.5 64v2M377.5 59v6M378.5 59v6M379.5 59v7M380.5 63v5M381.5 65v4M382.5 66v4M383.5 67v3M384.5 67v3M385.5 68v3M386.5 68v3M387.5 68v3M388.5 68v3M389.5 68v2M390.5 68v2M391.5 68v2M392.5 68v2M393.5 68v2M394.5 68v2M395.5 68v2M396.5 67v2M397.5 66v1M398.5 63v3M483.5 61v1M484.5 60v1M486.5 59v1M487.5 59v1M488.5 59v1M489.5 59v1M491.5 60v1M492.5 61v1M492.5 64v1M522.5 61v2M523.5 61v2M524.5 61v3M525.5 61v3M526.5 61v3M527.5 61v3M528.5 61v3M529.5 60v4M530.5 60v4M531.5 60v4M532.5 60v4M533.5 61v3M534.5 61v3M535.5 60v4M536.5 60v3M537.5 60v2"/>
<path stroke="#a7eb20" d="M345.5 74v4M346.5 72v1M346.5 80v2M347.5 71v1M347.5 82v3M348.5 70v1M348.5 84v2M353.5 70v1M356.5 71v1M358.5 72v1M359.5 72v1M360.5 73v1M361.5 73v4M362.5 73v5M363.5 73v5M364.5 73v4M365.5 73v3M366.5 72v3M367.5 72v2M368.5 71v2M369.5 71v2M370.5 70v2M371.5 69v3M372.5 69v3M373.5 68v4M374.5 67v5M375.5 67v5M376.5 66v6M377.5 65v7M378.5 65v8M379.5 66v7M380.5 68v6M381.5 69v5M382.5 70v4M383.5 70v5M384.5 70v5M385.5 71v5M386.5 71v5M387.5 71v4M388.5 71v4M389.5 70v5M390.5 70v4M391.5 70v4M392.5 70v4M393.5 70v4M394.5 70v3M395.5 70v3M396.5 69v4M397.5 67v3M398.5 62v1M398.5 66v1M483.5 65v1M484.5 66v1M485.5 59v1M486.5 67v1M487.5 67v1M488.5 67v1M490.5 59v1M520.5 60v4M521.5 61v4M522.5 63v3M523.5 63v3M524.5 64v3M525.5 64v3M526.5 64v3M527.5 64v3M528.5 64v3M529.5 64v3M530.5 64v3M531.5 64v3M532.5 64v3M533.5 64v3M534.5 64v3M535.5 64v2M536.5 63v3M537.5 62v3M538.5 60v4M539.5 59v4M540.5 59v3"/>
<path stroke="#b3ea20" d="M346.5 78v2M347.5 80v2M348.5 82v2M349.5 70v1M349.5 83v3M350.5 70v1M350.5 85v1M351.5 70v1M352.5 70v1M354.5 71v1M355.5 71v1M357.5 72v1M357.5 84v1M358.5 81v4M359.5 73v11M360.5 74v9M361.5 77v6M362.5 78v4M363.5 78v4M364.5 77v4M365.5 76v5M366.5 75v6M367.5 74v7M368.5 73v8M369.5 73v8M370.5 72v8M371.5 72v7M372.5 72v7M373.5 72v7M374.5 72v6M375.5 72v7M376.5 72v7M377.5 72v8M378.5 73v7M379.5 73v8M380.5 74v8M381.5 74v8M382.5 74v9M383.5 75v9M384.5 75v9M385.5 76v8M386.5 76v9M387.5 75v10M388.5 75v10M389.5 75v11M390.5 74v12M391.5 74v11M392.5 74v9M393.5 74v7M394.5 73v7M395.5 73v6M396.5 73v5M397.5 70v6M398.5 67v6M399.5 62v4M482.5 61v4M483.5 60v1M484.5 59v1M489.5 67v1M491.5 59v1M491.5 66v1M492.5 60v1M492.5 65v1M493.5 62v1M519.5 60v4M520.5 64v2M521.5 65v2M522.5 66v2M523.5 66v3M524.5 67v3M525.5 67v3M526.5 67v3M527.5 67v3M528.5 67v3M529.5 67v3M530.5 67v3M531.5 67v3M532.5 67v3M533.5 67v2M534.5 67v2M535.5 66v3M536.5 66v3M537.5 65v3M538.5 64v3M539.5 63v4M540.5 62v4M541.5 59v6M542.5 59v5M543.5 60v4"/>
<path stroke="#c0e820" d="M346.5 73v2M346.5 76v2M347.5 72v1M347.5 79v1M348.5 71v1M348.5 80v2M349.5 81v2M350.5 82v3M351.5 83v3M352.5 84v2M353.5 71v1M353.5 83v3M354.5 83v3M355.5 72v1M355.5 82v4M356.5 72v1M356.5 80v5M357.5 73v1M357.5 78v6M358.5 73v8M370.5 80v1M371.5 79v3M372.5 79v3M373.5 79v4M374.5 78v5M375.5 79v4M376.5 79v4M377.5 80v3M378.5 80v4M379.5 81v3M380.5 82v2M381.5 82v2M382.5 83v1M392.5 83v2M393.5 81v3M394.5 80v4M395.5 79v5M396.5 78v5M397.5 76v5M398.5 73v6M399.5 66v5M481.5 62v1M482.5 60v1M483.5 59v1M483.5 66v1M485.5 67v1M490.5 67v1M493.5 61v1M493.5 63v2M518.5 60v4M519.5 64v3M520.5 66v3M521.5 67v3M522.5 68v3M523.5 69v3M524.5 70v2M525.5 70v2M526.5 70v2M527.5 70v2M528.5 70v2M529.5 70v2M530.5 70v2M531.5 70v2M532.5 70v2M533.5 69v2M534.5 69v2M535.5 69v2M536.5 69v2M537.5 68v3M538.5 67v3M539.5 67v3M540.5 66v3M541.5 65v4M542.5 64v4M543.5 64v3"/>
<path stroke="#c8e520" d="M346.5 75v1M347.5 73v1M347.5 77v2M348.5 72v1M348.5 79v1M349.5 71v1M349.5 80v1M350.5 71v1M350.5 81v1M351.5 71v1M351.5 81v2M352.5 71v1M352.5 81v3M353.5 80v3M354.5 72v1M354.5 79v4M355.5 78v4M356.5 73v7M357.5 74v4M396.5 83v1M397.5 81v3M398.5 79v5M399.5 71v7M400.5 62v6M481.5 60v2M481.5 63v1M482.5 59v1M482.5 65v1M484.5 67v1M492.5 59v1M492.5 66v1M493.5 60v1M518.5 64v3M519.5 67v3M520.5 69v2M521.5 70v2M522.5 71v1"/>
<path stroke="#d0e220" d="M347.5 74v3M348.5 73v1M348.5 77v2M349.5 72v1M349.5 78v2M350.5 72v1M350.5 79v2M351.5 72v1M351.5 79v2M352.5 72v1M352.5 78v3M353.5 72v2M353.5 77v3M354.5 73v2M354.5 76v3M355.5 73v5M399.5 78v6M400.5 68v7M477.5 59v3M478.5 59v3M479.5 59v3M480.5 59v5M481.5 59v1M481.5 64v1M486.5 68v1M487.5 68v1M488.5 68v1M491.5 67v1M493.5 59v1M493.5 65v1M517.5 60v6M518.5 67v3M519.5 70v2M520.5 71v2M521.5 72v1"/>
<path stroke="#d8df20" d="M348.5 74v3M349.5 73v5M350.5 73v6M351.5 73v6M352.5 73v5M353.5 74v3M354.5 75v1M400.5 75v5M401.5 62v9M476.5 59v3M477.5 62v1M478.5 62v1M479.5 62v2M480.5 64v1M481.5 65v1M482.5 66v1M483.5 67v1M485.5 68v1M489.5 68v1M494.5 60v4M516.5 60v3M517.5 66v5M518.5 70v3M519.5 72v1"/>
<path stroke="#dfdb20" d="M400.5 80v4M401.5 71v6M476.5 62v1M477.5 63v1M478.5 63v1M479.5 64v1M480.5 65v1M481.5 66v1M484.5 68v1M490.5 68v1M492.5 67v1M493.5 66v1M494.5 59v1M494.5 64v1M516.5 63v10M517.5 71v2"/>
<path stroke="#e7d820" d="M401.5 77v3M402.5 62v12M475.5 59v3M476.5 63v1M477.5 64v1M478.5 64v1M479.5 65v1M482.5 67v1M483.5 68v1M486.5 69v1M491.5 68v1M494.5 65v1M514.5 71v2M515.5 60v14M516.5 73v1"/>
<path stroke="#ead420" d="M401.5 80v4M402.5 74v3M475.5 62v1M476.5 64v1M478.5 65v1M480.5 66v1M481.5 67v1M482.5 68v1M484.5 69v1M485.5 69v1M487.5 69v1M488.5 69v1M489.5 69v1M493.5 67v1M494.5 66v1M495.5 59v6M513.5 70v3M514.5 67v4M514.5 73v1"/>
<path stroke="#ecd020" d="M402.5 77v3M403.5 62v13M475.5 63v1M476.5 65v1M477.5 65v1M478.5 66v1M479.5 66v1M480.5 67v1M481.5 68v1M483.5 69v1M490.5 69v1M492.5 68v1M495.5 65v1M511.5 71v2M512.5 69v4M513.5 67v3M514.5 60v7"/>
<path stroke="#eecc20" d="M402.5 80v3M403.5 75v3M474.5 59v3M475.5 64v1M477.5 66v1M478.5 67v1M479.5 67v1M480.5 68v1M482.5 69v1M484.5 70v1M485.5 70v1M486.5 70v1M487.5 70v1M488.5 70v1M491.5 69v1M493.5 68v1M494.5 67v1M495.5 66v1M496.5 59v5M509.5 71v2M510.5 70v3M511.5 69v2M512.5 68v1M513.5 60v1M513.5 66v1"/>
<path stroke="#f0c820" d="M402.5 83v1M403.5 78v2M404.5 62v13M474.5 62v1M475.5 65v1M476.5 66v1M477.5 67v1M479.5 68v1M481.5 69v1M482.5 70v1M483.5 70v1M484.5 71v1M485.5 71v1M486.5 71v1M487.5 71v1M489.5 70v1M490.5 70v1M492.5 69v1M496.5 64v2M507.5 72v1M508.5 71v2M509.5 70v1M510.5 69v1M511.5 68v1M512.5 67v1M513.5 61v1"/>
<path stroke="#f2c320" d="M403.5 80v2M404.5 75v3M474.5 63v1M475.5 66v1M476.5 67v1M477.5 68v1M478.5 68v1M479.5 69v1M480.5 69v1M481.5 70v1M482.5 71v1M483.5 71v2M484.5 72v1M485.5 72v1M486.5 72v1M487.5 72v1M488.5 71v1M489.5 71v1M491.5 70v1M493.5 69v1M494.5 68v1M495.5 67v1M496.5 66v1M497.5 59v6M504.5 72v2M505.5 72v1M506.5 71v2M507.5 70v2M508.5 69v2M509.5 68v2M510.5 68v1M511.5 67v1M512.5 60v1M512.5 66v1M513.5 62v4"/>
<path stroke="#f4bf20" d="M403.5 82v2M404.5 78v2M405.5 62v13M474.5 64v1M475.5 67v1M476.5 68v1M477.5 69v1M478.5 69v1M479.5 70v1M480.5 70v1M481.5 71v1M482.5 72v1M483.5 73v1M484.5 73v2M485.5 73v2M486.5 73v2M487.5 73v1M488.5 72v1M489.5 72v1M490.5 71v1M491.5 71v1M492.5 70v1M493.5 70v1M494.5 69v1M495.5 68v1M496.5 67v1M497.5 65v2M502.5 72v3M503.5 71v3M504.5 71v1M505.5 70v2M506.5 70v1M507.5 69v1M508.5 68v1M510.5 67v1M511.5 60v1M512.5 61v1"/>
<path stroke="#f7bb20" d="M404.5 80v2M405.5 75v3M473.5 59v3M474.5 65v1M476.5 69v1M478.5 70v1M479.5 71v1M480.5 71v1M481.5 72v1M482.5 73v1M483.5 74v1M484.5 75v1M485.5 75v1M486.5 75v1M487.5 74v2M488.5 73v2M489.5 73v1M490.5 72v1M491.5 72v1M492.5 71v1M493.5 71v1M494.5 70v1M495.5 69v1M496.5 68v2M497.5 67v3M498.5 60v8M500.5 71v4M501.5 70v5M502.5 70v2M503.5 69v2M504.5 69v2M505.5 69v1M506.5 68v2M507.5 68v1M508.5 67v1M509.5 67v1M511.5 66v1M512.5 62v1M512.5 65v1"/>
<path stroke="#f8b720" d="M404.5 82v2M405.5 78v3M406.5 62v13M473.5 62v2M474.5 66v1M475.5 68v1M477.5 70v1M478.5 71v1M479.5 72v1M480.5 72v2M481.5 73v2M482.5 74v2M483.5 75v1M484.5 76v1M485.5 76v2M486.5 76v2M487.5 76v1M488.5 75v2M489.5 74v2M490.5 73v3M491.5 73v2M492.5 72v2M493.5 72v1M494.5 71v1M495.5 70v2M496.5 70v2M497.5 70v4M498.5 68v8M499.5 60v16M500.5 66v5M500.5 75v1M501.5 67v3M502.5 67v3M503.5 67v2M504.5 67v2M505.5 67v2M506.5 67v1M507.5 67v1M510.5 60v1M511.5 61v1M512.5 63v1"/>
<path stroke="#f8b320" d="M405.5 81v2M406.5 75v4M473.5 64v1M474.5 67v2M475.5 69v1M476.5 70v1M477.5 71v1M478.5 72v1M479.5 73v1M480.5 74v1M481.5 75v1M482.5 76v1M483.5 76v2M484.5 77v2M485.5 78v1M486.5 78v1M487.5 77v2M488.5 77v2M489.5 76v3M490.5 76v2M491.5 75v3M492.5 74v3M493.5 73v3M494.5 72v3M495.5 72v3M496.5 72v6M497.5 74v3M498.5 76v1M500.5 62v4M501.5 64v3M502.5 65v2M503.5 66v1M504.5 66v1M505.5 66v1M506.5 66v1M507.5 66v1M508.5 66v1M509.5 60v1M509.5 66v1M510.5 61v1M510.5 66v1M512.5 64v1"/>
<path stroke="#f8ae20" d="M405.5 83v1M406.5 79v4M407.5 62v3M473.5 65v2M474.5 69v1M475.5 70v1M476.5 71v1M477.5 72v1M478.5 73v1M479.5 74v1M480.5 75v1M481.5 76v1M482.5 77v1M483.5 78v1M484.5 79v1M485.5 79v2M486.5 79v2M487.5 79v2M488.5 79v1M489.5 79v1M490.5 78v2M491.5 78v2M492.5 77v2M493.5 76v3M494.5 75v4M495.5 75v3M500.5 60v2M501.5 60v4M502.5 63v2M503.5 64v2M504.5 64v2M505.5 65v1M506.5 65v1M508.5 60v1M509.5 61v1M511.5 62v1M511.5 65v1"/>
<path stroke="#f8aa20" d="M407.5 65v17M472.5 59v3M473.5 67v1M474.5 70v1M475.5 71v1M476.5 72v1M477.5 73v1M478.5 74v1M479.5 75v1M480.5 76v1M481.5 77v1M482.5 78v1M483.5 79v1M484.5 80v1M485.5 81v1M502.5 60v3M503.5 61v3M504.5 63v1M505.5 63v2M506.5 64v1M507.5 60v2M507.5 65v1M508.5 61v1M510.5 62v1M511.5 63v1"/>
<path stroke="#f8a61f" d="M407.5 82v1M472.5 62v3M473.5 68v2M474.5 71v1M475.5 72v1M476.5 73v1M477.5 74v2M478.5 75v2M479.5 76v2M480.5 77v2M481.5 78v2M482.5 79v2M483.5 80v2M484.5 81v1M503.5 60v1M504.5 60v3M505.5 60v3M506.5 60v4M507.5 62v3M508.5 62v1M508.5 65v1M509.5 62v1M509.5 65v1M510.5 65v1M511.5 64v1"/>
<path stroke="#f8a11e" d="M408.5 62v21M472.5 65v2M473.5 70v1M474.5 72v1M475.5 73v1M476.5 74v2M477.5 76v1M478.5 77v1M479.5 78v1M480.5 79v1M481.5 80v1M482.5 81v1M508.5 63v2M510.5 63v1"/>
<path stroke="#f89c1c" d="M409.5 62v21M472.5 67v3M473.5 71v2M474.5 73v1M475.5 74v2M476.5 76v1M477.5 77v1M478.5 78v1M479.5 79v1M480.5 80v1M481.5 81v1M482.5 82v1M509.5 63v2M510.5 64v1"/>
<path stroke="#f8981b" d="M410.5 75v8M411.5 82v1M472.5 70v2M473.5 73v1M474.5 74v2M475.5 76v1M476.5 77v1M477.5 78v1M478.5 79v1M479.5 80v1M480.5 81v1M481.5 82v1"/>
<path stroke="#f89319" d="M410.5 62v13M411.5 75v7M412.5 82v1M471.5 59v8M472.5 72v2M473.5 74v2M474.5 76v1M475.5 77v1M476.5 78v1M477.5 79v1M478.5 80v2M479.5 81v2M480.5 82v2"/>
<path stroke="#f88e17" d="M411.5 62v13M412.5 75v7M471.5 67v6M472.5 74v1M473.5 76v1M474.5 77v1M475.5 78v1M476.5 79v2M477.5 80v2M478.5 82v1M479.5 83v1"/>
<path stroke="#f88716" d="M412.5 62v13M413.5 73v9M471.5 73v2M472.5 75v2M473.5 77v1M474.5 78v2M475.5 79v2M476.5 81v1M477.5 82v1M478.5 83v1"/>
<path stroke="#f88114" d="M413.5 62v11M414.5 62v20M470.5 69v4M471.5 75v2M472.5 77v1M473.5 78v2M474.5 80v1M475.5 81v1M476.5 82v1M477.5 83v1"/>
<path stroke="#f87b13" d="M415.5 62v20M470.5 59v10M470.5 73v3M471.5 77v1M472.5 78v2M473.5 80v1M474.5 81v1M475.5 82v1M476.5 83v1"/>
<path stroke="#f87511" d="M416.5 62v19M469.5 71v3M470.5 76v2M471.5 78v2M472.5 80v1M473.5 81v2M474.5 82v2M475.5 83v2"/>
<path stroke="#f86f10" d="M417.5 62v19M418.5 63v18M419.5 63v11M420.5 63v2M469.5 68v3M469.5 74v3M470.5 78v2M471.5 80v2M472.5 81v2M473.5 83v1M474.5 84v1"/>
<path stroke="#f86810" d="M419.5 74v6M420.5 65v14M421.5 63v14M422.5 63v13M423.5 63v10M424.5 63v6M425.5 63v2M468.5 72v3M469.5 65v3M469.5 77v3M470.5 80v2M471.5 82v2M472.5 83v2M473.5 84v1"/>
<path stroke="#f86210" d="M420.5 79v1M421.5 77v3M422.5 76v3M423.5 73v6M424.5 69v8M425.5 65v11M426.5 63v12M427.5 63v10M428.5 63v7M429.5 63v5M430.5 63v3M431.5 63v3M432.5 63v3M433.5 63v2M434.5 63v2M435.5 63v2M436.5 63v2M437.5 63v2M438.5 63v2M439.5 63v2M440.5 63v2M441.5 63v2M442.5 63v2M443.5 63v2M444.5 63v1M468.5 69v3M468.5 75v4M469.5 60v5M469.5 80v2M470.5 82v3M471.5 84v1"/>
<path stroke="#f85c10" d="M424.5 77v2M425.5 76v3M426.5 75v3M427.5 73v5M428.5 70v7M429.5 68v8M430.5 66v9M431.5 66v7M432.5 66v6M433.5 65v6M434.5 65v5M435.5 65v4M436.5 65v4M437.5 65v4M438.5 65v3M439.5 65v3M440.5 65v3M441.5 65v3M442.5 65v3M443.5 65v3M444.5 64v4M445.5 63v4M446.5 63v4M447.5 62v3M467.5 71v7M468.5 66v3M468.5 79v4M469.5 59v1M469.5 82v3"/>
<path stroke="#f85610" d="M428.5 77v1M429.5 76v2M430.5 75v2M431.5 73v4M432.5 72v4M433.5 71v4M434.5 70v4M435.5 69v5M436.5 69v4M437.5 69v3M438.5 68v3M439.5 68v3M440.5 68v3M441.5 68v3M442.5 68v3M443.5 68v3M444.5 68v3M445.5 67v3M446.5 67v3M447.5 65v4M448.5 62v6M449.5 62v5M450.5 61v4M467.5 68v3M467.5 78v6M468.5 64v2M468.5 83v2"/>
<path stroke="#f85010" d="M432.5 76v1M433.5 75v2M434.5 74v3M435.5 74v3M436.5 73v3M437.5 72v3M438.5 71v3M439.5 71v3M440.5 71v3M441.5 71v2M442.5 71v2M443.5 71v2M444.5 71v2M445.5 70v3M446.5 70v3M447.5 69v4M448.5 68v4M449.5 67v5M450.5 65v6M451.5 61v9M452.5 61v8M453.5 61v4M465.5 74v2M466.5 69v15M467.5 65v3M468.5 59v5"/>
<path stroke="#f64d10" d="M435.5 77v1M436.5 76v2M437.5 75v3M438.5 74v3M439.5 74v2M440.5 74v2M441.5 73v3M442.5 73v3M443.5 73v3M444.5 73v3M445.5 73v3M446.5 73v3M447.5 73v3M448.5 72v4M449.5 72v3M450.5 71v4M451.5 70v5M452.5 69v6M453.5 65v10M454.5 61v14M455.5 61v14M456.5 65v10M457.5 68v7M458.5 70v6M459.5 70v6M460.5 71v6M461.5 71v7M462.5 71v8M463.5 71v13M464.5 71v13M465.5 69v5M465.5 76v8M466.5 66v3M467.5 62v3"/>
<path stroke="#f54a10" d="M438.5 77v1M439.5 76v3M440.5 76v2M441.5 76v2M442.5 76v2M443.5 76v2M444.5 76v2M445.5 76v2M446.5 76v2M447.5 76v2M448.5 76v2M449.5 75v3M450.5 75v3M451.5 75v3M452.5 75v3M453.5 75v3M454.5 75v3M455.5 75v3M456.5 60v5M456.5 75v3M457.5 60v8M457.5 75v4M458.5 63v7M458.5 76v4M459.5 66v4M459.5 76v5M460.5 67v4M460.5 77v6M461.5 68v3M461.5 78v6M462.5 68v3M462.5 79v5M463.5 68v3M464.5 67v4M465.5 65v4M466.5 62v4M467.5 59v3"/>
<path stroke="#f34610" d="M440.5 78v1M441.5 78v2M442.5 78v2M443.5 78v2M444.5 78v3M445.5 78v3M446.5 78v3M447.5 78v2M448.5 78v2M449.5 78v2M450.5 78v2M451.5 78v2M452.5 78v2M453.5 78v2M454.5 78v2M455.5 78v3M456.5 78v3M457.5 79v3M458.5 60v3M458.5 80v3M459.5 60v6M459.5 81v3M460.5 63v4M460.5 83v1M461.5 64v4M462.5 65v3M463.5 65v3M464.5 63v4M465.5 59v6M466.5 59v3"/>
<path stroke="#f24310" d="M447.5 80v1M448.5 80v2M449.5 80v2M450.5 80v2M451.5 80v2M452.5 80v3M453.5 80v3M454.5 80v3M455.5 81v2M456.5 81v2M457.5 82v1M460.5 60v3M461.5 60v4M462.5 61v4M463.5 60v5M464.5 60v3"/>
<path stroke="#f04010" d="M462.5 60v1"/>
</g>
<path fill="none" stroke="#111" stroke-width="1.4" stroke-dasharray="1.4 2.07" d="M324.9 61.12L328.37 61.35L331.84 61.59L335.31 63.62L338.78 65.35L342.25 65.6L345.72 65.31L349.19 64.33L352.66 63.34L356.13 62.28L359.6 60.85L363.07 60.19L366.54 59.7L370.01 60.03L373.48 60.38L376.95 60.8L380.42 61.26L383.89 61.73L387.36 62.21L390.83 62.71L394.3 63.25L397.77 63.7L401.24 63.97L404.71 64.04L408.18 64.11L411.65 64.18L415.12 64.25L418.59 64.32L422.06 64.37L425.53 64.42L429 64.46L432.47 64.5L435.94 64.54L439.41 64.58L442.88 64.62L446.35 64.41L449.82 63.45L453.29 62.67L456.76 62.14L460.23 61.71L463.7 61.44L467.17 61.23L470.64 61.1L474.11 61.13L477.58 61.15L481.05 61.18L484.52 61.2L487.99 61.23L491.46 61.25L494.93 61.28L498.4 61.3L501.87 61.33L505.34 61.38L508.81 61.65L512.28 61.93L515.75 62.15L519.22 62.15L522.69 62.62L526.16 62.69L529.63 62.11L533.1 61.78L536.57 61.49L540.04 61.19"/>
<path d="M324.6 50.65V85.45H542.8" fill="none" stroke="#8c8c8c" stroke-width="1"/>
<path d="M324.6 85.45v2.3M359.27 85.45v2.3M393.93 85.45v2.3M428.6 85.45v2.3M463.27 85.45v2.3M497.93 85.45v2.3M532.6 85.45v2.3M324.6 85.45h-2.3M324.6 68.05h-2.3M324.6 50.65h-2.3" stroke="#555" stroke-width="1"/>
<g font-size="9" fill="#262626" text-anchor="middle">
<text x="324.6" y="100.95">40</text>
<text x="359.27" y="100.95">60</text>
<text x="393.93" y="100.95">80</text>
<text x="428.6" y="100.95">100</text>
<text x="463.27" y="100.95">120</text>
<text x="497.93" y="100.95">140</text>
<text x="532.6" y="100.95">160</text>
</g>
<g font-size="9" fill="#262626" text-anchor="end">
<text x="319" y="88.65">440</text>
<text x="319" y="71.25">450</text>
<text x="319" y="53.85">460</text>
</g>
<text font-size="9" fill="#262626" text-anchor="middle" transform="translate(299.3 68.05) rotate(-90)">height (m)</text>
<text font-size="9" fill="#262626" text-anchor="middle" x="433.7" y="112.45">x (m)</text>
<text font-size="16" font-weight="bold" fill="#000" x="331.3" y="118.45">(e)</text>
<g clip-path="url(#cf)" stroke-width="1">
<path stroke="#1989f8" d="M335.5 326v3M336.5 326v3"/>
<path stroke="#188ef6" d="M334.5 325v4M335.5 329v1M336.5 329v1M337.5 327v2"/>
<path stroke="#1693f4" d="M333.5 324v4M334.5 329v1M335.5 330v1M336.5 330v1M337.5 329v1"/>
<path stroke="#1497f3" d="M332.5 324v2M333.5 328v2M334.5 330v1M335.5 331v1M336.5 331v1M337.5 330v2M338.5 327v3"/>
<path stroke="#129cf1" d="M332.5 326v3M333.5 330v2M334.5 331v2M335.5 332v1M336.5 332v1M337.5 332v1M338.5 330v1"/>
<path stroke="#10a0f0" d="M331.5 323v6M332.5 329v3M333.5 332v1M334.5 333v1M335.5 333v2M336.5 333v2M337.5 333v1M338.5 331v1M339.5 328v3"/>
<path stroke="#10a5ee" d="M330.5 323v5M331.5 329v3M332.5 332v2M333.5 333v2M334.5 334v2M335.5 335v1M336.5 335v1M337.5 334v1M338.5 332v2M339.5 331v1"/>
<path stroke="#10aaed" d="M329.5 323v5M330.5 328v4M331.5 332v4M332.5 334v3M333.5 335v2M334.5 336v1M335.5 336v1M336.5 336v1M337.5 335v1M338.5 334v1M339.5 332v1M340.5 328v2"/>
<path stroke="#10aeeb" d="M328.5 323v5M329.5 328v4M330.5 332v4M331.5 336v1M332.5 337v1M333.5 337v1M334.5 337v1M335.5 337v1M336.5 337v1M337.5 336v1M338.5 335v1M339.5 333v1M340.5 330v2"/>
<path stroke="#10b3ea" d="M327.5 323v5M328.5 328v4M329.5 332v4M330.5 336v2M331.5 337v2M332.5 338v1M333.5 338v1M334.5 338v1M335.5 338v1M336.5 338v1M337.5 337v1M338.5 336v1M339.5 334v1M340.5 332v1"/>
<path stroke="#10b7e8" d="M326.5 323v5M327.5 328v4M328.5 332v4M329.5 336v2M330.5 338v1M331.5 339v1M332.5 339v1M333.5 339v1M334.5 339v1M335.5 339v1M336.5 339v1M337.5 338v1M338.5 337v1M339.5 335v1M340.5 333v1M341.5 328v3"/>
<path stroke="#10bbe4" d="M323.5 325v1M324.5 324v3M325.5 323v6M326.5 328v4M327.5 332v4M328.5 336v2M329.5 338v1M330.5 339v1M331.5 340v1M332.5 340v1M333.5 340v1M334.5 340v1M335.5 340v1M337.5 339v1M338.5 338v1M339.5 336v1M340.5 334v1M341.5 331v1M524.5 326v1"/>
<path stroke="#10bedf" d="M323.5 326v4M324.5 327v4M325.5 329v4M326.5 332v4M327.5 336v2M328.5 338v2M329.5 339v2M330.5 340v2M331.5 341v1M332.5 341v1M333.5 341v1M334.5 341v1M335.5 341v1M336.5 340v1M337.5 340v1M338.5 339v1M339.5 337v1M340.5 335v1M341.5 332v1M524.5 327v1"/>
<path stroke="#10c1da" d="M323.5 330v4M324.5 331v4M325.5 333v4M326.5 336v3M327.5 338v2M328.5 340v1M329.5 341v1M330.5 342v1M331.5 342v1M332.5 342v1M333.5 342v1M334.5 342v1M335.5 342v1M336.5 341v1M339.5 338v1M340.5 336v1M341.5 333v1M342.5 328v2"/>
<path stroke="#10c4d6" d="M323.5 334v3M324.5 335v3M325.5 337v3M326.5 339v2M327.5 340v2M328.5 341v1M329.5 342v1M330.5 343v1M331.5 343v1M332.5 343v1M333.5 343v1M334.5 343v1M335.5 343v1M336.5 342v1M337.5 341v1M338.5 340v1M339.5 339v1M340.5 337v1M341.5 334v2M342.5 330v2"/>
<path stroke="#10c7d1" d="M332.5 344v1M333.5 344v2M334.5 344v1M336.5 343v1M337.5 342v1M338.5 341v1M340.5 338v1M341.5 336v1M342.5 332v1M523.5 326v1M525.5 326v1"/>
<path stroke="#10cacb" d="M334.5 345v1M335.5 344v1M339.5 340v1M340.5 339v1M341.5 337v1M342.5 333v1M523.5 327v1M525.5 327v1"/>
<path stroke="#10cec5" d="M335.5 345v1M336.5 344v1M337.5 343v1M338.5 342v1M339.5 341v1M341.5 338v1M342.5 334v2M343.5 328v3"/>
<path stroke="#10d1be" d="M335.5 346v1M336.5 345v1M337.5 344v1M338.5 343v1M340.5 340v1M341.5 339v1M342.5 336v1M343.5 331v1"/>
<path stroke="#10d4b8" d="M336.5 346v1M339.5 342v1M340.5 341v1M342.5 337v1M343.5 332v2"/>
<path stroke="#10d7b2" d="M337.5 345v1M338.5 344v1M339.5 343v1M341.5 340v1M342.5 338v1M343.5 334v2M344.5 328v1"/>
<path stroke="#10daac" d="M337.5 346v1M338.5 345v1M340.5 342v1M341.5 341v1M342.5 339v1M343.5 336v2M344.5 329v3"/>
<path stroke="#10dca8" d="M337.5 347v1M339.5 344v1M340.5 343v1M342.5 340v1M343.5 338v1M344.5 332v1"/>
<path stroke="#10dfa3" d="M338.5 346v1M339.5 345v1M341.5 342v1M343.5 339v1M344.5 333v2M345.5 327v3"/>
<path stroke="#10e19e" d="M338.5 347v1M340.5 344v1M342.5 341v1M344.5 335v2M345.5 330v2M387.5 324v8M388.5 324v12M389.5 324v9M390.5 325v6M391.5 325v5M392.5 325v4M393.5 325v4M394.5 325v4M395.5 325v4M396.5 325v4M397.5 326v2M524.5 325v1"/>
<path stroke="#10e499" d="M339.5 346v1M341.5 343v1M342.5 342v1M343.5 340v1M344.5 337v2M345.5 332v1M346.5 327v3M386.5 324v10M387.5 332v6M388.5 336v2M389.5 333v5M390.5 331v4M391.5 330v3M392.5 329v3M393.5 329v2M394.5 329v2M395.5 329v1M396.5 329v1M397.5 328v2M398.5 326v3M522.5 326v2M524.5 328v1M526.5 326v2"/>
<path stroke="#10e694" d="M339.5 347v1M340.5 345v1M341.5 344v1M343.5 341v1M344.5 339v1M345.5 333v2M346.5 330v1M347.5 327v2M385.5 324v8M386.5 334v4M387.5 338v1M388.5 338v1M389.5 338v1M390.5 335v3M391.5 333v3M392.5 332v2M393.5 331v2M394.5 331v1M395.5 330v2M396.5 330v1M397.5 330v1M398.5 329v1M399.5 326v1"/>
<path stroke="#10e88e" d="M339.5 348v1M340.5 346v1M342.5 343v1M343.5 342v1M344.5 340v1M345.5 335v1M346.5 331v1M347.5 329v1M348.5 326v3M364.5 322v2M365.5 322v3M366.5 322v3M367.5 322v2M384.5 324v7M385.5 332v5M386.5 338v1M387.5 339v1M388.5 339v2M389.5 339v1M390.5 338v2M391.5 336v2M392.5 334v3M393.5 333v2M394.5 332v2M395.5 332v1M396.5 331v1M397.5 331v1M398.5 330v1M399.5 327v2M523.5 325v1M523.5 328v1M525.5 325v1M525.5 328v1"/>
<path stroke="#10ea86" d="M340.5 347v1M341.5 345v1M342.5 344v1M343.5 343v1M344.5 341v1M345.5 336v2M346.5 332v1M347.5 330v1M348.5 329v1M349.5 326v2M363.5 322v3M364.5 324v2M365.5 325v2M366.5 325v2M367.5 324v2M368.5 322v3M382.5 323v2M383.5 324v6M384.5 331v5M385.5 337v2M386.5 339v1M387.5 340v1M388.5 341v1M389.5 340v2M390.5 340v1M391.5 338v2M392.5 337v2M393.5 335v2M394.5 334v2M395.5 333v2M396.5 332v2M397.5 332v1M398.5 331v1M399.5 329v1"/>
<path stroke="#10eb7f" d="M340.5 348v1M341.5 346v1M342.5 345v1M345.5 338v1M346.5 333v2M347.5 331v1M348.5 330v1M349.5 328v1M350.5 326v2M362.5 322v4M363.5 325v2M364.5 326v2M365.5 327v2M366.5 327v2M367.5 326v2M368.5 325v2M369.5 322v3M381.5 323v3M382.5 325v4M383.5 330v5M384.5 336v3M385.5 339v1M386.5 340v2M387.5 341v2M388.5 342v1M389.5 342v1M390.5 341v1M391.5 340v2M392.5 339v2M393.5 337v2M394.5 336v1M395.5 335v1M396.5 334v1M397.5 333v1M399.5 330v1M400.5 326v1"/>
<path stroke="#10ed77" d="M341.5 347v1M343.5 344v1M344.5 342v1M345.5 339v1M346.5 335v1M347.5 332v1M349.5 329v1M350.5 328v1M351.5 326v2M352.5 325v1M360.5 322v3M361.5 322v4M362.5 326v2M363.5 327v3M364.5 328v3M365.5 329v2M366.5 329v1M367.5 328v2M368.5 327v2M369.5 325v3M370.5 322v4M371.5 322v3M380.5 323v3M381.5 326v3M382.5 329v4M383.5 335v3M384.5 339v1M385.5 340v2M386.5 342v1M387.5 343v1M388.5 343v1M389.5 343v1M390.5 342v2M391.5 342v1M392.5 341v1M393.5 339v2M394.5 337v2M395.5 336v1M396.5 335v1M397.5 334v1M398.5 332v1M400.5 327v2"/>
<path stroke="#10ef6f" d="M341.5 348v1M342.5 346v1M343.5 345v1M344.5 343v1M345.5 340v2M346.5 336v1M347.5 333v1M348.5 331v1M349.5 330v1M350.5 329v1M351.5 328v1M352.5 326v2M353.5 325v3M354.5 325v2M355.5 324v3M356.5 324v3M357.5 324v3M358.5 323v4M359.5 323v4M360.5 325v2M361.5 326v3M362.5 328v2M363.5 330v2M364.5 331v2M365.5 331v2M366.5 330v2M367.5 330v2M368.5 329v2M369.5 328v2M370.5 326v3M371.5 325v3M372.5 322v5M373.5 322v5M374.5 322v5M375.5 323v4M376.5 323v4M377.5 323v4M378.5 323v4M379.5 323v5M380.5 326v3M381.5 329v4M382.5 333v4M383.5 338v2M384.5 340v2M385.5 342v1M386.5 343v1M387.5 344v1M388.5 344v1M389.5 344v1M390.5 344v1M391.5 343v2M392.5 342v2M393.5 341v1M394.5 339v1M395.5 337v2M396.5 336v1M397.5 335v1M398.5 333v1M399.5 331v1M400.5 329v1"/>
<path stroke="#10f067" d="M342.5 347v1M343.5 346v1M344.5 344v1M345.5 342v1M346.5 337v1M347.5 334v1M348.5 332v1M349.5 331v1M350.5 330v1M351.5 329v1M352.5 328v1M353.5 328v1M354.5 327v2M355.5 327v1M356.5 327v1M357.5 327v1M358.5 327v1M359.5 327v1M360.5 327v2M361.5 329v2M362.5 330v2M363.5 332v2M364.5 333v2M365.5 333v2M366.5 332v2M367.5 332v2M368.5 331v2M369.5 330v2M370.5 329v2M371.5 328v2M372.5 327v3M373.5 327v2M374.5 327v2M375.5 327v3M376.5 327v3M377.5 327v3M378.5 327v3M379.5 328v3M380.5 329v3M381.5 333v3M382.5 337v3M383.5 340v3M384.5 342v2M385.5 343v2M386.5 344v1M387.5 345v1M388.5 345v1M389.5 345v2M390.5 345v2M391.5 345v2M392.5 344v2M393.5 342v2M394.5 340v2M395.5 339v1M396.5 337v1M397.5 336v1M398.5 334v1M399.5 332v1M400.5 330v1M522.5 328v1M526.5 328v1"/>
<path stroke="#10f260" d="M342.5 348v1M344.5 345v1M345.5 343v1M346.5 338v2M347.5 335v1M348.5 333v1M352.5 329v1M353.5 329v1M354.5 329v1M355.5 328v1M356.5 328v1M357.5 328v2M358.5 328v2M359.5 328v2M360.5 329v2M361.5 331v2M362.5 332v3M362.5 344v2M363.5 334v12M364.5 335v10M365.5 335v10M366.5 334v7M367.5 334v2M368.5 333v2M369.5 332v2M370.5 331v3M371.5 330v3M372.5 330v2M373.5 329v3M374.5 329v3M375.5 330v2M376.5 330v2M377.5 330v3M378.5 330v3M379.5 331v2M380.5 332v3M381.5 336v5M382.5 340v4M383.5 343v2M384.5 344v2M385.5 345v1M386.5 345v2M387.5 346v1M388.5 346v2M389.5 347v2M390.5 347v3M391.5 347v2M392.5 346v2M393.5 344v2M394.5 342v1M395.5 340v1M396.5 338v1M397.5 337v1M398.5 335v1M399.5 333v1M400.5 331v1M401.5 326v3M522.5 325v1M526.5 325v1"/>
<path stroke="#10f358" d="M343.5 347v3M344.5 346v1M345.5 344v1M346.5 340v1M347.5 336v1M348.5 334v1M349.5 332v1M350.5 331v1M351.5 330v1M352.5 330v1M353.5 330v1M354.5 330v1M355.5 329v2M356.5 329v2M357.5 330v1M358.5 330v1M359.5 330v2M360.5 331v2M361.5 333v2M361.5 341v5M362.5 335v9M366.5 341v4M367.5 336v8M368.5 335v9M369.5 334v10M370.5 334v6M371.5 333v3M372.5 332v3M373.5 332v3M374.5 332v3M375.5 332v3M376.5 332v3M377.5 333v2M378.5 333v3M379.5 333v4M380.5 335v9M381.5 341v5M382.5 344v3M383.5 345v2M384.5 346v2M385.5 346v2M386.5 347v1M387.5 347v2M388.5 348v1M389.5 349v1M393.5 346v2M394.5 343v2M395.5 341v1M396.5 339v1M397.5 338v1M398.5 336v1M399.5 334v1M400.5 332v1M401.5 329v1M521.5 327v1M527.5 326v2"/>
<path stroke="#10f550" d="M344.5 347v2M345.5 345v1M346.5 341v2M349.5 333v1M350.5 332v1M351.5 331v1M352.5 331v1M354.5 331v1M355.5 331v1M356.5 331v1M357.5 331v1M358.5 331v2M359.5 332v2M360.5 333v3M360.5 342v5M361.5 335v6M370.5 340v5M371.5 336v10M372.5 335v11M373.5 335v11M374.5 335v11M375.5 335v12M376.5 335v12M377.5 335v12M378.5 336v11M379.5 337v10M380.5 344v3M381.5 346v2M382.5 347v1M383.5 347v1M394.5 345v1M395.5 342v1M396.5 340v1M397.5 339v1M398.5 337v1M399.5 335v1M400.5 333v1M401.5 330v1M521.5 326v1"/>
<path stroke="#10f648" d="M344.5 349v1M345.5 346v2M346.5 343v2M347.5 337v2M348.5 335v1M349.5 334v1M350.5 333v1M351.5 332v1M353.5 331v1M354.5 332v1M355.5 332v1M356.5 332v1M357.5 332v2M358.5 333v2M359.5 334v2M360.5 336v6M394.5 346v2M395.5 343v2M396.5 341v1M397.5 340v1M398.5 338v1M399.5 336v1M401.5 331v1M402.5 326v3"/>
<path stroke="#10f840" d="M345.5 348v2M346.5 345v2M347.5 339v3M348.5 336v1M349.5 335v1M350.5 334v1M351.5 333v1M352.5 332v1M353.5 332v1M355.5 333v1M356.5 333v1M357.5 334v1M358.5 335v1M359.5 336v11M395.5 345v1M396.5 342v1M397.5 341v1M398.5 339v1M399.5 337v1M400.5 334v1M401.5 332v1M402.5 329v1M524.5 329v1M525.5 329v1"/>
<path stroke="#1ff639" d="M346.5 347v3M347.5 342v3M348.5 337v1M352.5 333v1M353.5 333v1M354.5 333v1M355.5 334v1M356.5 334v2M357.5 335v2M358.5 336v12M395.5 346v1M396.5 343v1M397.5 342v1M398.5 340v1M399.5 338v1M400.5 335v1M401.5 333v1M402.5 330v1M488.5 327v1M489.5 327v1M521.5 328v1M523.5 329v1M527.5 328v1"/>
<path stroke="#30f432" d="M347.5 345v5M348.5 338v3M349.5 336v1M350.5 335v1M351.5 334v1M352.5 334v1M353.5 334v1M354.5 334v1M355.5 335v1M356.5 336v1M357.5 337v8M395.5 347v1M396.5 344v1M397.5 343v1M398.5 341v1M399.5 339v1M400.5 336v1M401.5 334v1M402.5 331v1M403.5 326v2M488.5 326v1M489.5 326v1M489.5 328v1M521.5 325v1M526.5 329v1M527.5 325v1"/>
<path stroke="#40f32b" d="M348.5 341v9M349.5 337v2M350.5 336v1M351.5 335v1M352.5 335v1M353.5 335v1M354.5 335v2M355.5 336v2M356.5 337v7M357.5 345v4M396.5 345v1M398.5 342v1M399.5 340v1M400.5 337v1M401.5 335v1M402.5 332v1M403.5 328v2M487.5 327v1M488.5 328v1M490.5 327v1M522.5 329v1M528.5 326v2"/>
<path stroke="#50f124" d="M349.5 339v11M350.5 337v1M351.5 336v1M352.5 336v1M353.5 336v1M354.5 337v2M355.5 338v7M356.5 344v5M396.5 346v2M397.5 344v1M398.5 343v1M399.5 341v1M400.5 338v1M401.5 336v1M402.5 333v1M403.5 330v1M487.5 326v1M487.5 328v1M490.5 326v1M490.5 328v1M520.5 327v1"/>
<path stroke="#5ef020" d="M350.5 338v12M351.5 337v13M352.5 337v1M352.5 342v8M353.5 337v13M354.5 339v11M355.5 345v4M397.5 345v1M399.5 342v1M400.5 339v1M401.5 337v1M402.5 334v1M403.5 331v1M404.5 326v3M488.5 325v1M489.5 325v1M489.5 329v1M491.5 327v1M520.5 326v1M522.5 324v1M527.5 329v1M528.5 325v1M528.5 328v1"/>
<path stroke="#69f020" d="M352.5 338v4M397.5 346v1M398.5 344v1M399.5 343v1M400.5 340v1M401.5 338v1M402.5 335v1M403.5 332v1M404.5 329v1M486.5 327v1M488.5 329v1M490.5 325v1M490.5 329v1M491.5 326v1M491.5 328v1M520.5 328v1M521.5 329v1M523.5 330v1M524.5 330v1M525.5 330v1M527.5 324v1M529.5 327v1"/>
<path stroke="#75f020" d="M397.5 347v1M398.5 345v1M400.5 341v1M401.5 339v1M402.5 336v1M403.5 333v1M404.5 330v1M405.5 326v1M486.5 326v1M486.5 328v1M487.5 325v1M487.5 329v1M520.5 325v1M521.5 324v1M522.5 330v1M526.5 330v1M528.5 329v1M529.5 326v1M529.5 328v1"/>
<path stroke="#81f020" d="M398.5 346v1M399.5 344v1M400.5 342v1M401.5 340v1M402.5 337v1M403.5 334v1M404.5 331v1M405.5 327v2M488.5 324v1M489.5 324v1M491.5 325v1M491.5 329v1M492.5 326v3M519.5 326v2M520.5 329v1M521.5 330v1M527.5 330v1M528.5 324v1M528.5 330v1M529.5 325v1M529.5 329v1M530.5 326v3"/>
<path stroke="#8dee20" d="M398.5 347v1M399.5 345v1M400.5 343v2M401.5 341v1M402.5 338v1M403.5 335v2M404.5 332v2M405.5 329v2M485.5 327v1M486.5 325v1M486.5 329v1M487.5 324v1M488.5 330v1M489.5 330v1M490.5 324v1M490.5 330v1M492.5 325v1M492.5 329v1M519.5 328v1M520.5 324v1M523.5 331v1M524.5 331v1M525.5 331v1M526.5 331v1M527.5 331v1M529.5 324v1M529.5 330v1M530.5 324v2M530.5 329v1M531.5 325v4M541.5 323v2M542.5 323v3M543.5 324v3"/>
<path stroke="#9aed20" d="M399.5 346v2M400.5 345v1M401.5 342v1M402.5 339v2M403.5 337v1M404.5 334v1M405.5 331v1M406.5 326v3M485.5 326v1M485.5 328v1M487.5 330v1M491.5 324v1M491.5 330v1M492.5 324v1M492.5 330v1M493.5 325v5M518.5 327v2M519.5 325v1M519.5 329v1M520.5 330v1M521.5 331v1M522.5 331v1M524.5 332v1M525.5 332v1M526.5 332v1M527.5 332v1M528.5 331v1M529.5 331v1M530.5 330v2M531.5 324v1M531.5 329v3M532.5 324v7M533.5 324v7M534.5 324v7M535.5 323v8M536.5 323v9M537.5 323v9M538.5 323v10M539.5 323v11M540.5 323v10M541.5 325v8M542.5 326v6M543.5 327v4"/>
<path stroke="#a7eb20" d="M400.5 346v1M401.5 343v2M402.5 341v1M403.5 338v1M404.5 335v1M405.5 332v1M406.5 329v1M485.5 325v1M485.5 329v1M486.5 324v1M486.5 330v1M487.5 323v1M488.5 323v1M488.5 331v1M489.5 323v1M489.5 331v1M490.5 323v1M490.5 331v1M491.5 323v1M491.5 331v1M492.5 323v1M492.5 331v1M493.5 323v2M493.5 330v2M494.5 323v8M495.5 323v8M496.5 323v7M497.5 323v5M498.5 323v4M518.5 325v2M518.5 329v2M519.5 324v1M519.5 330v2M520.5 331v1M521.5 332v1M522.5 332v1M523.5 332v2M524.5 333v1M525.5 333v2M526.5 333v3M527.5 333v3M528.5 332v4M529.5 332v4M530.5 332v4M531.5 332v3M532.5 331v4M533.5 331v4M534.5 331v4M535.5 331v4M536.5 332v3M537.5 332v3M538.5 333v1"/>
<path stroke="#b3ea20" d="M400.5 347v1M401.5 345v1M402.5 342v1M403.5 339v1M404.5 336v1M405.5 333v2M406.5 330v2M407.5 326v3M484.5 325v4M485.5 324v1M486.5 323v1M487.5 331v1M488.5 332v1M489.5 332v4M490.5 332v8M491.5 332v9M492.5 332v10M493.5 332v10M494.5 331v11M495.5 331v11M496.5 330v11M497.5 328v13M498.5 327v13M499.5 323v17M500.5 323v16M501.5 323v16M502.5 323v15M503.5 323v15M504.5 323v14M505.5 323v14M506.5 323v14M507.5 323v14M508.5 324v13M509.5 324v12M510.5 328v8M511.5 329v8M512.5 330v7M513.5 331v6M514.5 331v6M515.5 331v6M516.5 326v11M517.5 325v12M518.5 324v1M518.5 331v6M519.5 332v5M520.5 332v4M521.5 333v3M522.5 333v3M523.5 334v2M524.5 334v2M525.5 335v1"/>
<path stroke="#c0e820" d="M401.5 346v1M402.5 343v1M403.5 340v2M404.5 337v2M405.5 335v1M406.5 332v1M407.5 329v1M484.5 324v1M484.5 329v1M485.5 323v1M485.5 330v1M486.5 331v1M487.5 332v1M488.5 333v6M489.5 336v8M490.5 340v4M491.5 341v2M492.5 342v1M493.5 342v1M510.5 324v4M511.5 324v5M512.5 324v6M513.5 324v7M514.5 324v7M515.5 324v7M516.5 324v2M517.5 324v1"/>
<path stroke="#c8e520" d="M401.5 347v1M402.5 344v2M403.5 342v1M404.5 339v1M405.5 336v1M406.5 333v1M407.5 330v2M408.5 326v2M483.5 323v6M484.5 323v1M484.5 330v1M485.5 331v1M486.5 332v2M487.5 333v9M488.5 339v5"/>
<path stroke="#d0e220" d="M402.5 346v1M403.5 343v1M404.5 340v1M405.5 337v1M406.5 334v2M407.5 332v1M408.5 328v2M482.5 323v6M483.5 329v2M484.5 331v2M485.5 332v3M486.5 334v10M487.5 342v3"/>
<path stroke="#d8df20" d="M403.5 344v2M404.5 341v2M405.5 338v2M406.5 336v1M407.5 333v1M408.5 330v1M481.5 323v6M482.5 329v2M483.5 331v2M484.5 333v4M485.5 335v10M486.5 344v1"/>
<path stroke="#dfdb20" d="M403.5 346v1M404.5 343v1M405.5 340v1M406.5 337v1M407.5 334v2M408.5 331v2M409.5 326v4M480.5 323v5M481.5 329v2M482.5 331v3M483.5 333v6M484.5 337v9"/>
<path stroke="#e7d820" d="M404.5 344v1M405.5 341v2M406.5 338v2M407.5 336v1M408.5 333v1M409.5 330v1M479.5 323v3M480.5 328v3M481.5 331v4M482.5 334v10M483.5 339v7"/>
<path stroke="#ead420" d="M404.5 345v2M405.5 343v1M406.5 340v1M407.5 337v1M408.5 334v2M409.5 331v2M410.5 326v3M479.5 326v5M480.5 331v4M481.5 335v12M482.5 344v2"/>
<path stroke="#ecd020" d="M405.5 344v1M406.5 341v1M407.5 338v2M408.5 336v1M409.5 333v2M410.5 329v2M478.5 323v6M479.5 331v4M479.5 345v3M480.5 335v12"/>
<path stroke="#eecc20" d="M405.5 345v2M406.5 342v2M407.5 340v1M408.5 337v2M409.5 335v2M410.5 331v2M476.5 346v2M477.5 323v4M477.5 344v4M478.5 329v6M478.5 339v9M479.5 335v10"/>
<path stroke="#f0c820" d="M406.5 344v1M407.5 341v2M408.5 339v2M409.5 337v1M410.5 333v3M411.5 326v4M472.5 347v1M473.5 346v2M474.5 345v3M475.5 344v4M476.5 342v4M477.5 327v9M477.5 337v7M478.5 335v4"/>
<path stroke="#f2c320" d="M406.5 345v2M407.5 343v1M408.5 341v1M409.5 338v2M410.5 336v2M411.5 330v4M469.5 347v1M470.5 346v2M471.5 345v3M472.5 345v2M473.5 344v2M474.5 342v3M475.5 340v4M476.5 323v19M477.5 336v1"/>
<path stroke="#f4bf20" d="M407.5 344v2M408.5 342v2M409.5 340v2M410.5 338v2M411.5 334v3M412.5 326v3M467.5 347v1M468.5 346v2M469.5 345v2M470.5 344v2M471.5 343v2M472.5 342v3M473.5 341v3M474.5 339v3M475.5 323v17"/>
<path stroke="#f7bb20" d="M407.5 346v1M408.5 344v1M409.5 342v2M410.5 340v3M411.5 337v3M412.5 329v6M465.5 347v1M466.5 346v2M467.5 345v2M468.5 344v2M469.5 343v2M470.5 342v2M471.5 341v2M472.5 340v2M473.5 338v3M474.5 323v16"/>
<path stroke="#f8b720" d="M408.5 345v2M409.5 344v2M410.5 343v2M411.5 340v4M412.5 335v6M413.5 326v3M463.5 347v1M464.5 346v2M465.5 345v2M466.5 344v2M467.5 343v2M468.5 342v2M469.5 341v2M470.5 340v2M471.5 339v2M472.5 338v2M473.5 328v10"/>
<path stroke="#f8b320" d="M409.5 346v1M410.5 345v2M411.5 344v3M412.5 341v5M413.5 329v17M461.5 346v2M462.5 345v3M463.5 344v3M464.5 344v2M465.5 343v2M466.5 342v2M467.5 341v2M468.5 340v2M469.5 339v2M470.5 338v2M471.5 337v2M472.5 330v8M473.5 323v5"/>
<path stroke="#f8ae20" d="M414.5 326v20M415.5 339v6M416.5 342v3M417.5 344v1M458.5 346v1M459.5 346v1M460.5 345v2M461.5 344v2M462.5 343v2M463.5 342v2M464.5 342v2M465.5 341v2M466.5 340v2M467.5 339v2M468.5 338v2M469.5 337v2M470.5 335v3M471.5 330v7M472.5 323v7"/>
<path stroke="#f8aa20" d="M415.5 326v13M416.5 326v16M417.5 339v5M418.5 341v3M419.5 342v2M420.5 343v1M421.5 343v1M454.5 345v2M455.5 345v2M456.5 344v3M457.5 344v3M458.5 343v3M459.5 343v3M460.5 342v3M461.5 341v3M462.5 341v2M463.5 340v2M464.5 340v2M465.5 339v2M466.5 338v2M467.5 337v2M468.5 336v2M469.5 334v3M470.5 330v5M471.5 323v7"/>
<path stroke="#f8a61f" d="M417.5 326v13M418.5 326v15M419.5 338v4M420.5 339v4M421.5 340v3M422.5 340v3M423.5 340v3M424.5 341v2M425.5 341v1M426.5 341v1M449.5 344v2M450.5 344v2M451.5 343v3M452.5 343v3M453.5 343v3M454.5 342v3M455.5 342v3M456.5 341v3M457.5 341v3M458.5 340v3M459.5 340v3M460.5 339v3M461.5 339v2M462.5 339v2M463.5 338v2M464.5 338v2M465.5 337v2M466.5 336v2M467.5 335v2M468.5 333v3M469.5 329v5M470.5 323v7"/>
<path stroke="#f8a11e" d="M419.5 326v12M420.5 326v13M421.5 326v14M422.5 326v14M423.5 326v14M424.5 326v15M425.5 326v15M426.5 331v10M427.5 334v8M428.5 337v4M429.5 338v3M430.5 338v3M431.5 339v2M432.5 339v2M433.5 339v2M434.5 340v1M435.5 340v1M436.5 341v1M437.5 341v1M442.5 342v2M443.5 342v2M444.5 342v2M445.5 342v3M446.5 342v3M447.5 341v4M448.5 341v4M449.5 341v3M450.5 341v3M451.5 340v3M452.5 340v3M453.5 339v4M454.5 339v3M455.5 339v3M456.5 338v3M457.5 338v3M458.5 338v2M459.5 337v3M460.5 337v2M461.5 337v2M462.5 337v2M463.5 336v2M464.5 336v2M465.5 335v2M466.5 334v2M467.5 332v3M468.5 329v4M469.5 325v4"/>
<path stroke="#f89c1c" d="M426.5 326v5M427.5 326v8M428.5 326v11M429.5 326v12M430.5 326v12M431.5 326v13M432.5 326v13M433.5 326v13M434.5 326v14M435.5 326v14M436.5 326v15M437.5 326v15M438.5 326v16M439.5 330v12M440.5 333v10M441.5 335v8M442.5 336v6M443.5 337v5M444.5 337v5M445.5 338v4M446.5 338v4M447.5 338v3M448.5 338v3M449.5 338v3M450.5 338v3M451.5 337v3M452.5 337v3M453.5 337v2M454.5 336v3M455.5 336v3M456.5 336v2M457.5 336v2M458.5 336v2M459.5 336v1M460.5 335v2M461.5 335v2M462.5 335v2M463.5 335v1M464.5 334v2M465.5 333v2M466.5 331v3M467.5 329v3M468.5 325v4M469.5 323v2"/>
<path stroke="#f8981b" d="M439.5 326v4M440.5 326v7M441.5 327v8M442.5 327v9M443.5 331v6M444.5 332v5M445.5 333v5M446.5 334v4M447.5 334v4M448.5 335v3M449.5 335v3M450.5 335v3M451.5 335v2M452.5 335v2M453.5 335v2M454.5 335v1M455.5 334v2M456.5 334v2M457.5 334v2M458.5 334v2M459.5 334v2M460.5 334v1M461.5 334v1M462.5 333v2M463.5 333v2M464.5 332v2M465.5 331v2M466.5 329v2M467.5 326v3M468.5 323v2"/>
<path stroke="#f89319" d="M443.5 327v4M444.5 327v5M445.5 329v4M446.5 330v4M447.5 331v3M448.5 332v3M449.5 332v3M450.5 332v3M451.5 332v3M452.5 333v2M453.5 333v2M454.5 333v2M455.5 333v1M456.5 333v1M457.5 333v1M458.5 333v1M459.5 333v1M460.5 332v2M461.5 332v2M462.5 332v1M463.5 331v2M464.5 330v2M465.5 328v3M466.5 326v3M467.5 323v3"/>
<path stroke="#f88e17" d="M445.5 327v2M446.5 326v4M447.5 326v5M448.5 328v4M449.5 329v3M450.5 330v2M451.5 330v2M452.5 330v3M453.5 331v2M454.5 331v2M455.5 331v2M456.5 331v2M457.5 331v2M458.5 331v2M459.5 331v2M460.5 331v1M461.5 331v1M462.5 331v1M463.5 330v1M464.5 328v2M465.5 326v2M466.5 323v3"/>
<path stroke="#f88716" d="M448.5 326v2M449.5 325v4M450.5 325v5M451.5 328v2M452.5 328v2M453.5 329v2M454.5 329v2M455.5 329v2M456.5 329v2M457.5 329v2M458.5 329v2M459.5 330v1M460.5 330v1M461.5 330v1M462.5 329v2M463.5 328v2M464.5 326v2M465.5 323v3"/>
<path stroke="#f88114" d="M451.5 325v3M452.5 325v3M453.5 325v4M454.5 327v2M455.5 327v2M456.5 327v2M457.5 328v1M458.5 328v1M459.5 328v2M460.5 328v2M461.5 328v2M462.5 328v1M463.5 326v2M464.5 323v3"/>
<path stroke="#f87b13" d="M454.5 324v3M455.5 324v3M456.5 324v3M457.5 325v3M458.5 326v2M459.5 326v2M460.5 327v1M461.5 327v1M462.5 326v2M463.5 323v3"/>
<path stroke="#f87511" d="M457.5 324v1M458.5 324v2M459.5 324v2M460.5 324v3M461.5 324v3M462.5 323v3"/>
</g>
<path fill="none" stroke="#111" stroke-width="1.4" stroke-dasharray="1.4 2.07" d="M324.9 324.82L328.37 325.05L331.84 325.29L335.31 327.32L338.78 329.05L342.25 329.3L345.72 329.01L349.19 328.03L352.66 327.04L356.13 325.98L359.6 324.55L363.07 323.89L366.54 323.4L370.01 323.73L373.48 324.08L376.95 324.5L380.42 324.96L383.89 325.43L387.36 325.91L390.83 326.41L394.3 326.95L397.77 327.4L401.24 327.67L404.71 327.74L408.18 327.81L411.65 327.88L415.12 327.95L418.59 328.02L422.06 328.07L425.53 328.12L429 328.16L432.47 328.2L435.94 328.24L439.41 328.28L442.88 328.32L446.35 328.11L449.82 327.15L453.29 326.37L456.76 325.84L460.23 325.41L463.7 325.14L467.17 324.93L470.64 324.8L474.11 324.83L477.58 324.85L481.05 324.88L484.52 324.9L487.99 324.93L491.46 324.95L494.93 324.98L498.4 325L501.87 325.03L505.34 325.08L508.81 325.35L512.28 325.63L515.75 325.85L519.22 325.85L522.69 326.32L526.16 326.39L529.63 325.81L533.1 325.48L536.57 325.19L540.04 324.89"/>
<path d="M324.6 314.35V349.15H542.8" fill="none" stroke="#8c8c8c" stroke-width="1"/>
<path d="M324.6 349.15v2.3M359.27 349.15v2.3M393.93 349.15v2.3M428.6 349.15v2.3M463.27 349.15v2.3M497.93 349.15v2.3M532.6 349.15v2.3M324.6 349.15h-2.3M324.6 331.75h-2.3M324.6 314.35h-2.3" stroke="#555" stroke-width="1"/>
<g font-size="9" fill="#262626" text-anchor="middle">
<text x="324.6" y="364.65">40</text>
<text x="359.27" y="364.65">60</text>
<text x="393.93" y="364.65">80</text>
<text x="428.6" y="364.65">100</text>
<text x="463.27" y="364.65">120</text>
<text x="497.93" y="364.65">140</text>
<text x="532.6" y="364.65">160</text>
</g>
<g font-size="9" fill="#262626" text-anchor="end">
<text x="319" y="352.35">440</text>
<text x="319" y="334.95">450</text>
<text x="319" y="317.55">460</text>
</g>
<text font-size="9" fill="#262626" text-anchor="middle" transform="translate(299.3 331.75) rotate(-90)">height (m)</text>
<text font-size="9" fill="#262626" text-anchor="middle" x="433.7" y="376.15">x (m)</text>
<text font-size="16" font-weight="bold" fill="#000" x="330.4" y="382.05">(f)</text>
<g clip-path="url(#cg)" stroke-width="1">
<path stroke="#1989f8" d="M335.5 457v3M336.5 458v3"/>
<path stroke="#188ef6" d="M334.5 457v3M335.5 460v2M336.5 461v1M337.5 458v3"/>
<path stroke="#1693f4" d="M333.5 456v4M334.5 460v2M335.5 462v1M336.5 462v1M337.5 461v1"/>
<path stroke="#1497f3" d="M332.5 456v2M333.5 460v2M334.5 462v1M335.5 463v1M336.5 463v1M337.5 462v1M338.5 459v3"/>
<path stroke="#129cf1" d="M332.5 458v3M333.5 462v1M334.5 463v2M335.5 464v1M336.5 464v1M337.5 463v2M338.5 462v1M339.5 459v1"/>
<path stroke="#10a0f0" d="M331.5 455v6M332.5 461v3M333.5 463v2M334.5 465v1M335.5 465v1M336.5 465v1M337.5 465v1M338.5 463v1M339.5 460v2"/>
<path stroke="#10a5ee" d="M330.5 455v5M331.5 461v3M332.5 464v2M333.5 465v2M334.5 466v1M335.5 466v2M336.5 466v1M337.5 466v1M338.5 464v1M339.5 462v2M340.5 459v1"/>
<path stroke="#10aaed" d="M329.5 455v5M330.5 460v4M331.5 464v3M332.5 466v2M333.5 467v2M334.5 467v2M335.5 468v1M336.5 467v2M337.5 467v1M338.5 465v2M339.5 464v1M340.5 460v2"/>
<path stroke="#10aeeb" d="M328.5 455v5M329.5 460v4M330.5 464v4M331.5 467v2M332.5 468v2M333.5 469v1M334.5 469v1M335.5 469v1M336.5 469v1M337.5 468v1M338.5 467v1M339.5 465v1M340.5 462v2"/>
<path stroke="#10b3ea" d="M327.5 455v5M328.5 460v4M329.5 464v4M330.5 468v2M331.5 469v2M332.5 470v1M333.5 470v1M334.5 470v1M335.5 470v1M336.5 470v1M337.5 469v1M338.5 468v1M339.5 466v1M340.5 464v1M341.5 459v3"/>
<path stroke="#10b7e8" d="M326.5 455v5M327.5 460v4M328.5 464v4M329.5 468v2M330.5 470v1M331.5 471v1M332.5 471v1M333.5 471v1M334.5 471v1M335.5 471v1M337.5 470v1M338.5 469v1M339.5 467v1M340.5 465v1M341.5 462v1"/>
<path stroke="#10bbe4" d="M323.5 457v1M324.5 456v3M325.5 455v6M326.5 460v4M327.5 464v4M328.5 468v2M329.5 470v1M330.5 471v1M331.5 472v1M332.5 472v1M333.5 472v1M334.5 472v1M335.5 472v1M336.5 471v1M337.5 471v1M338.5 470v1M339.5 468v1M340.5 466v1M341.5 463v1"/>
<path stroke="#10bedf" d="M323.5 458v4M324.5 459v4M325.5 461v4M326.5 464v4M327.5 468v2M328.5 470v2M329.5 471v2M330.5 472v1M331.5 473v1M332.5 473v1M333.5 473v1M334.5 473v1M335.5 473v1M336.5 472v1M338.5 471v1M339.5 469v1M340.5 467v1M341.5 464v1M342.5 459v3"/>
<path stroke="#10c1da" d="M323.5 462v4M324.5 463v4M325.5 465v4M326.5 468v3M327.5 470v2M328.5 472v1M329.5 473v1M330.5 473v2M331.5 474v1M332.5 474v1M333.5 474v1M334.5 474v1M336.5 473v1M337.5 472v1M339.5 470v1M340.5 468v1M341.5 465v1M342.5 462v1"/>
<path stroke="#10c4d6" d="M323.5 466v3M324.5 467v3M325.5 469v2M326.5 471v1M327.5 472v1M328.5 473v1M329.5 474v1M330.5 475v1M331.5 475v1M332.5 475v1M333.5 475v1M334.5 475v1M335.5 474v1M336.5 474v1M337.5 473v1M338.5 472v1M339.5 471v1M340.5 469v1M341.5 466v2M342.5 463v2M522.5 458v1M523.5 458v1M538.5 457v1M539.5 457v1"/>
<path stroke="#10c7d1" d="M332.5 476v1M333.5 476v1M334.5 476v1M335.5 475v1M340.5 470v1M341.5 468v1M342.5 465v1M343.5 459v3"/>
<path stroke="#10cacb" d="M333.5 477v1M334.5 477v1M335.5 476v1M336.5 475v1M337.5 474v1M338.5 473v1M339.5 472v1M340.5 471v1M341.5 469v1M342.5 466v1M343.5 462v1M538.5 458v1M539.5 458v1"/>
<path stroke="#10cec5" d="M335.5 477v1M336.5 476v1M337.5 475v1M338.5 474v1M339.5 473v1M341.5 470v1M342.5 467v1M343.5 463v2M522.5 459v1M523.5 459v1"/>
<path stroke="#10d1be" d="M335.5 478v1M336.5 477v1M337.5 476v1M340.5 472v1M342.5 468v1M343.5 465v1M344.5 459v3"/>
<path stroke="#10d4b8" d="M336.5 478v1M338.5 475v1M339.5 474v1M341.5 471v1M342.5 469v1M343.5 466v1M344.5 462v1"/>
<path stroke="#10d7b2" d="M337.5 477v1M338.5 476v1M340.5 473v1M341.5 472v1M342.5 470v1M343.5 467v1M344.5 463v1M345.5 459v1M358.5 455v1M359.5 455v1M360.5 454v2M361.5 454v2M362.5 454v2M363.5 454v2M364.5 454v2M365.5 454v1M389.5 456v3M390.5 456v3M391.5 457v1M392.5 457v1M393.5 457v1M394.5 457v1M395.5 457v1M396.5 457v1"/>
<path stroke="#10daac" d="M337.5 478v1M339.5 475v1M340.5 474v1M342.5 471v1M343.5 468v2M344.5 464v2M345.5 460v2M357.5 455v1M358.5 456v1M359.5 456v1M360.5 456v1M361.5 456v1M362.5 456v1M363.5 456v1M364.5 456v1M365.5 455v1M366.5 453v2M386.5 464v5M387.5 456v13M388.5 456v10M389.5 459v4M390.5 459v2M391.5 458v2M392.5 458v2M393.5 458v2M394.5 458v2M395.5 458v2M396.5 458v2M397.5 457v3M521.5 458v1M524.5 458v1M537.5 457v1M540.5 457v1"/>
<path stroke="#10dca8" d="M337.5 479v1M338.5 477v1M339.5 476v1M341.5 473v1M342.5 472v1M343.5 470v1M344.5 466v1M345.5 462v1M357.5 456v2M358.5 457v1M359.5 457v1M360.5 457v1M361.5 457v1M362.5 457v1M365.5 456v1M366.5 455v1M383.5 468v2M384.5 466v5M385.5 463v8M386.5 456v8M386.5 469v2M387.5 469v2M388.5 466v4M389.5 463v3M390.5 461v2M391.5 460v2M392.5 460v1M393.5 460v1M394.5 460v1M395.5 460v1M396.5 460v1M398.5 458v2M537.5 458v1M538.5 456v1M539.5 456v1M540.5 458v1"/>
<path stroke="#10dfa3" d="M338.5 478v1M340.5 475v1M341.5 474v1M343.5 471v1M344.5 467v1M345.5 463v1M346.5 459v3M356.5 456v1M358.5 458v1M363.5 457v1M364.5 457v1M365.5 457v1M366.5 456v1M367.5 454v2M381.5 467v6M382.5 466v8M383.5 465v3M383.5 470v4M384.5 462v4M384.5 471v2M385.5 457v6M385.5 471v2M386.5 471v2M387.5 471v1M388.5 470v1M389.5 466v3M390.5 463v2M391.5 462v2M392.5 461v2M393.5 461v1M394.5 461v1M397.5 460v1M398.5 460v1M521.5 459v1M522.5 457v1M523.5 457v1M524.5 459v1"/>
<path stroke="#10e19e" d="M338.5 479v1M339.5 477v1M340.5 476v1M342.5 473v1M344.5 468v1M345.5 464v1M346.5 462v1M347.5 459v1M356.5 457v1M357.5 458v1M359.5 458v1M360.5 458v1M361.5 458v1M362.5 458v1M363.5 458v1M364.5 458v1M365.5 458v1M366.5 457v1M367.5 456v1M379.5 468v2M380.5 467v9M381.5 465v2M381.5 473v6M382.5 464v2M382.5 474v6M383.5 462v3M383.5 474v3M384.5 459v3M384.5 473v3M385.5 456v1M385.5 473v2M386.5 473v1M387.5 472v2M388.5 471v1M389.5 469v2M390.5 465v3M391.5 464v1M392.5 463v1M393.5 462v1M395.5 461v1M396.5 461v1M397.5 461v1M399.5 458v1"/>
<path stroke="#10e499" d="M339.5 478v1M341.5 475v1M342.5 474v1M343.5 472v1M344.5 469v2M345.5 465v2M346.5 463v1M347.5 460v1M355.5 456v2M356.5 458v1M358.5 459v1M366.5 458v1M367.5 457v1M368.5 454v2M378.5 468v2M379.5 466v2M379.5 470v7M380.5 465v2M380.5 476v3M381.5 463v2M382.5 462v2M383.5 459v3M383.5 477v3M384.5 456v3M384.5 476v2M385.5 475v2M386.5 474v2M387.5 474v1M388.5 472v2M389.5 471v1M390.5 468v1M391.5 465v2M392.5 464v1M393.5 463v1M394.5 462v1M395.5 462v1M398.5 461v1M399.5 459v1M539.5 459v1"/>
<path stroke="#10e694" d="M339.5 479v1M340.5 477v1M341.5 476v1M343.5 473v1M344.5 471v1M345.5 467v1M347.5 461v1M348.5 458v2M355.5 458v1M356.5 459v1M357.5 459v1M359.5 459v1M360.5 459v1M361.5 459v1M362.5 459v1M363.5 459v1M364.5 459v1M365.5 459v1M366.5 459v1M367.5 458v1M368.5 456v1M378.5 466v2M378.5 470v8M379.5 464v2M379.5 477v2M380.5 463v2M381.5 461v2M382.5 459v3M383.5 455v4M384.5 478v2M385.5 477v2M386.5 476v1M387.5 475v1M388.5 474v1M389.5 472v1M390.5 469v2M391.5 467v1M392.5 465v1M393.5 464v1M394.5 463v1M395.5 463v1M396.5 462v1M397.5 462v1M399.5 460v1M538.5 459v1"/>
<path stroke="#10e88e" d="M340.5 478v1M342.5 475v1M343.5 474v1M345.5 468v1M346.5 464v1M347.5 462v1M348.5 460v1M354.5 457v1M363.5 460v1M364.5 460v1M365.5 460v1M367.5 459v1M368.5 457v1M369.5 454v2M377.5 466v13M378.5 464v2M378.5 478v1M379.5 462v2M380.5 461v2M381.5 460v1M382.5 455v4M385.5 479v1M386.5 477v2M387.5 476v2M388.5 475v1M389.5 473v1M390.5 471v1M391.5 468v2M392.5 466v1M393.5 465v1M394.5 464v1M396.5 463v1M398.5 462v1M399.5 461v1M522.5 460v1M523.5 460v1M537.5 456v1M540.5 456v1"/>
<path stroke="#10ea86" d="M341.5 477v1M342.5 476v1M344.5 472v1M345.5 469v1M346.5 465v1M347.5 463v1M348.5 461v1M349.5 458v2M354.5 458v1M355.5 459v1M356.5 460v1M357.5 460v1M358.5 460v1M359.5 460v1M360.5 460v1M361.5 460v1M362.5 460v1M366.5 460v1M368.5 458v2M369.5 456v2M376.5 465v14M377.5 463v3M378.5 462v2M379.5 461v1M380.5 459v2M381.5 457v3M386.5 479v1M387.5 478v1M388.5 476v2M389.5 474v2M390.5 472v2M391.5 470v1M392.5 467v1M393.5 466v1M394.5 465v1M395.5 464v1M397.5 463v1M400.5 458v2M521.5 457v1M524.5 457v1"/>
<path stroke="#10eb7f" d="M340.5 479v2M341.5 478v1M343.5 475v1M344.5 473v1M345.5 470v1M346.5 466v1M347.5 464v1M348.5 462v1M349.5 460v1M353.5 457v1M354.5 459v1M355.5 460v1M362.5 461v1M363.5 461v1M364.5 461v1M365.5 461v1M366.5 461v1M367.5 460v1M368.5 460v1M369.5 458v1M370.5 454v2M375.5 465v14M376.5 462v3M377.5 461v2M378.5 460v2M379.5 459v2M380.5 457v2M381.5 455v2M387.5 479v1M388.5 478v1M389.5 476v1M390.5 474v1M391.5 471v1M392.5 468v2M393.5 467v1M395.5 465v1M396.5 464v1M398.5 463v1M399.5 462v1M400.5 460v1"/>
<path stroke="#10ed77" d="M342.5 477v1M343.5 476v1M344.5 474v1M345.5 471v1M346.5 467v1M349.5 461v1M350.5 458v2M353.5 458v1M356.5 461v1M357.5 461v1M358.5 461v1M359.5 461v1M360.5 461v1M361.5 461v1M365.5 462v1M366.5 462v1M367.5 461v1M368.5 461v1M369.5 459v2M370.5 456v3M374.5 464v14M375.5 461v4M376.5 460v2M377.5 459v2M378.5 458v2M379.5 456v3M380.5 455v2M388.5 479v2M389.5 477v1M390.5 475v1M391.5 472v2M392.5 470v1M393.5 468v1M394.5 466v1M396.5 465v1M397.5 464v1M537.5 459v1M540.5 459v1M541.5 457v1"/>
<path stroke="#10ef6f" d="M341.5 479v2M342.5 478v1M344.5 475v1M345.5 472v1M346.5 468v1M347.5 465v1M348.5 463v1M349.5 462v1M350.5 460v1M351.5 457v3M352.5 457v2M353.5 459v1M354.5 460v1M355.5 461v1M361.5 462v1M362.5 462v1M363.5 462v1M364.5 462v1M367.5 462v1M368.5 462v1M369.5 461v2M370.5 459v2M371.5 454v4M373.5 463v15M374.5 459v5M375.5 458v3M376.5 456v4M377.5 455v4M378.5 455v3M379.5 455v1M389.5 478v3M390.5 476v2M391.5 474v1M392.5 471v2M393.5 469v1M394.5 467v1M395.5 466v1M398.5 464v1M399.5 463v1M400.5 461v1M520.5 458v1M524.5 460v1M525.5 458v1M536.5 457v2M541.5 458v1"/>
<path stroke="#10f067" d="M342.5 479v1M343.5 477v1M344.5 476v1M345.5 473v1M346.5 469v1M347.5 466v1M348.5 464v1M350.5 461v1M351.5 460v1M352.5 459v1M353.5 460v1M354.5 461v1M356.5 462v1M357.5 462v1M358.5 462v1M359.5 462v1M360.5 462v1M363.5 463v1M364.5 463v1M365.5 463v1M366.5 463v1M367.5 463v1M368.5 463v1M369.5 463v1M370.5 461v3M371.5 458v7M372.5 454v24M373.5 454v9M374.5 454v5M375.5 454v4M376.5 454v2M389.5 481v1M390.5 478v1M391.5 475v2M392.5 473v1M393.5 470v1M394.5 468v1M395.5 467v1M396.5 466v1M397.5 465v1M400.5 462v1M401.5 458v2M520.5 459v1M521.5 460v1M525.5 459v1"/>
<path stroke="#10f260" d="M342.5 480v1M343.5 478v1M344.5 477v1M345.5 474v1M346.5 470v1M347.5 467v1M348.5 465v1M349.5 463v1M350.5 462v1M351.5 461v1M352.5 460v1M353.5 461v1M355.5 462v1M361.5 463v1M362.5 463v1M365.5 464v1M366.5 464v1M367.5 464v1M368.5 464v1M369.5 464v2M370.5 464v3M371.5 465v12M390.5 479v2M391.5 477v1M392.5 474v2M393.5 471v2M394.5 469v1M397.5 466v1M398.5 465v1M399.5 464v1M401.5 460v1M487.5 458v2M538.5 455v1M539.5 455v1"/>
<path stroke="#10f358" d="M343.5 479v2M345.5 475v2M346.5 471v2M347.5 468v1M348.5 466v1M349.5 464v1M350.5 463v1M352.5 461v1M354.5 462v1M356.5 463v1M357.5 463v1M358.5 463v1M359.5 463v1M360.5 463v1M363.5 464v1M364.5 464v1M366.5 465v1M367.5 465v1M368.5 465v2M369.5 466v2M370.5 467v10M391.5 478v3M392.5 476v1M393.5 473v2M394.5 470v2M395.5 468v1M396.5 467v1M400.5 463v1M401.5 461v1M486.5 458v2M488.5 458v2M536.5 456v1M541.5 456v1"/>
<path stroke="#10f550" d="M344.5 478v2M345.5 477v1M346.5 473v1M349.5 465v1M351.5 462v1M352.5 462v1M353.5 462v1M355.5 463v1M361.5 464v1M362.5 464v1M364.5 465v1M365.5 465v1M367.5 466v1M368.5 467v2M369.5 468v8M392.5 477v2M393.5 475v1M394.5 472v1M395.5 469v1M396.5 468v1M397.5 467v1M398.5 466v1M399.5 465v1M486.5 457v1M487.5 457v1M488.5 457v1M525.5 457v1"/>
<path stroke="#10f648" d="M344.5 480v2M345.5 478v1M346.5 474v2M347.5 469v2M348.5 467v1M349.5 466v1M350.5 464v1M351.5 463v1M352.5 463v1M353.5 463v1M354.5 463v1M356.5 464v1M357.5 464v1M358.5 464v1M359.5 464v1M360.5 464v1M362.5 465v1M363.5 465v1M365.5 466v1M366.5 466v1M367.5 467v9M368.5 469v7M392.5 479v1M393.5 476v2M394.5 473v2M395.5 470v2M400.5 464v1M401.5 462v1M402.5 458v2M485.5 458v2M487.5 460v1M489.5 458v2M520.5 457v1M522.5 456v1M536.5 459v1M537.5 455v1M538.5 460v1M539.5 460v1M540.5 455v1M541.5 459v1"/>
<path stroke="#10f840" d="M345.5 479v3M346.5 476v2M347.5 471v2M348.5 468v1M350.5 465v1M351.5 464v1M354.5 464v1M355.5 464v1M361.5 465v1M363.5 466v1M364.5 466v1M365.5 467v1M366.5 467v9M393.5 478v2M394.5 475v2M395.5 472v2M396.5 469v2M397.5 468v1M398.5 467v1M399.5 466v1M400.5 465v1M401.5 463v1M402.5 460v1M485.5 457v1M486.5 460v1M488.5 460v1M489.5 457v1M520.5 460v1M525.5 460v1"/>
<path stroke="#1ff639" d="M346.5 478v2M347.5 473v2M348.5 469v1M349.5 467v1M350.5 466v1M351.5 465v1M352.5 464v1M353.5 464v1M356.5 465v1M357.5 465v1M358.5 465v1M359.5 465v1M360.5 465v1M362.5 466v1M364.5 467v1M365.5 468v9M394.5 477v2M395.5 474v2M396.5 471v1M397.5 469v1M402.5 461v1M487.5 456v1M489.5 460v1M521.5 456v1M522.5 461v1M523.5 461v1M537.5 460v1M540.5 460v1"/>
<path stroke="#30f432" d="M346.5 480v2M347.5 475v3M348.5 470v2M349.5 468v1M350.5 467v1M351.5 466v1M352.5 465v1M353.5 465v1M354.5 465v1M355.5 465v1M360.5 466v1M361.5 466v1M363.5 467v2M364.5 468v9M394.5 479v1M395.5 476v2M396.5 472v2M397.5 470v1M398.5 468v1M399.5 467v1M400.5 466v1M401.5 464v1M402.5 462v1M403.5 458v2M484.5 458v1M485.5 460v1M486.5 456v1M488.5 456v1M490.5 458v2M519.5 458v1M526.5 458v2M535.5 457v2M542.5 457v2"/>
<path stroke="#40f32b" d="M347.5 478v4M348.5 472v4M349.5 469v1M352.5 466v1M355.5 466v1M356.5 466v1M357.5 466v1M358.5 466v1M359.5 466v1M361.5 467v1M362.5 467v2M362.5 473v5M363.5 469v8M395.5 478v2M396.5 474v2M397.5 471v2M398.5 469v1M399.5 468v1M401.5 465v1M402.5 463v1M403.5 460v1M484.5 457v1M484.5 459v1M485.5 456v1M487.5 461v1M489.5 456v1M490.5 457v1M519.5 459v1M521.5 461v1M524.5 461v1M536.5 455v1M541.5 455v1"/>
<path stroke="#50f124" d="M348.5 476v6M349.5 470v4M350.5 468v2M351.5 467v1M353.5 466v1M354.5 466v1M360.5 467v1M361.5 468v1M361.5 471v7M362.5 469v4M396.5 476v2M397.5 473v2M398.5 470v1M400.5 467v1M403.5 461v1M486.5 461v1M488.5 461v1M490.5 460v1M526.5 457v1M535.5 456v1M541.5 460v1M542.5 456v1M542.5 459v1"/>
<path stroke="#5ef020" d="M349.5 474v6M350.5 470v3M351.5 468v1M352.5 467v1M353.5 467v1M354.5 467v1M355.5 467v1M356.5 467v1M357.5 467v1M358.5 467v1M359.5 467v1M360.5 468v10M361.5 469v2M396.5 478v2M397.5 475v2M398.5 471v2M399.5 469v1M400.5 468v1M401.5 466v1M402.5 464v1M403.5 462v1M404.5 458v2M484.5 460v1M485.5 461v1M487.5 455v1M489.5 461v1M490.5 456v1M491.5 457v3M498.5 458v1M499.5 458v1M519.5 457v1M520.5 456v1M526.5 460v1M535.5 459v1M536.5 460v1"/>
<path stroke="#69f020" d="M349.5 480v2M350.5 473v9M351.5 469v13M352.5 468v1M353.5 468v1M357.5 479v1M358.5 476v4M359.5 468v11M397.5 477v2M398.5 473v2M399.5 470v1M401.5 467v1M402.5 465v1M403.5 463v1M404.5 460v1M483.5 458v2M484.5 456v1M486.5 455v1M488.5 455v1M489.5 455v1M490.5 461v1M491.5 460v1M498.5 457v1M499.5 457v1M519.5 460v1M520.5 461v1M525.5 461v1M538.5 461v1M539.5 461v1"/>
<path stroke="#75f020" d="M352.5 469v13M353.5 469v1M353.5 472v10M354.5 468v2M354.5 473v8M355.5 468v1M355.5 473v8M356.5 468v1M356.5 473v8M357.5 468v2M357.5 471v8M358.5 468v8M397.5 479v1M398.5 475v2M399.5 471v2M400.5 469v1M401.5 468v1M402.5 466v1M403.5 464v1M404.5 461v1M483.5 457v1M485.5 455v1M487.5 462v1M488.5 462v1M491.5 456v1M492.5 458v2M497.5 458v1M498.5 459v1M499.5 459v1M500.5 458v1M527.5 458v2M534.5 457v2M535.5 455v1M537.5 461v1M540.5 461v1M542.5 455v1M542.5 460v1M543.5 457v2"/>
<path stroke="#81f020" d="M353.5 470v2M354.5 470v3M355.5 469v4M356.5 469v4M357.5 470v1M398.5 477v2M399.5 473v2M400.5 470v2M402.5 467v1M404.5 462v1M405.5 458v3M483.5 456v1M483.5 460v1M484.5 455v1M484.5 461v1M486.5 462v1M489.5 462v1M490.5 455v1M491.5 461v1M492.5 457v1M492.5 460v1M497.5 457v1M500.5 457v1M518.5 458v2M522.5 462v1M523.5 462v1M524.5 462v1M526.5 456v1M526.5 461v1M527.5 457v1M527.5 460v1M534.5 456v1M534.5 459v1M535.5 460v1M536.5 461v1M541.5 461v1M543.5 456v1M543.5 459v1"/>
<path stroke="#8dee20" d="M398.5 479v1M399.5 475v2M400.5 472v2M401.5 469v1M403.5 465v1M404.5 463v1M405.5 461v1M485.5 462v1M490.5 462v1M491.5 455v1M491.5 462v1M492.5 456v1M492.5 461v1M493.5 457v3M496.5 458v1M497.5 459v1M498.5 456v1M500.5 459v1M518.5 457v1M518.5 460v1M519.5 456v1M519.5 461v1M521.5 462v1M525.5 462v1M537.5 462v1M538.5 462v1M539.5 462v1M540.5 462v1M542.5 461v1M543.5 460v1"/>
<path stroke="#9aed20" d="M399.5 477v3M400.5 474v2M401.5 470v2M402.5 468v1M403.5 466v1M404.5 464v1M405.5 462v1M406.5 458v2M482.5 457v3M483.5 455v1M483.5 461v1M487.5 463v1M488.5 463v1M489.5 463v1M490.5 463v1M492.5 455v1M492.5 462v1M493.5 456v1M493.5 460v2M494.5 457v3M495.5 458v1M496.5 457v1M496.5 459v1M497.5 456v1M498.5 460v1M499.5 456v1M518.5 461v1M520.5 462v1M526.5 462v1M527.5 456v1M527.5 461v1M528.5 457v4M533.5 456v4M534.5 455v1M534.5 460v2M535.5 461v1M536.5 462v1M537.5 463v1M538.5 463v1M539.5 463v1M540.5 463v1M541.5 462v2M542.5 462v2M543.5 461v2"/>
<path stroke="#a7eb20" d="M400.5 476v2M401.5 472v2M402.5 469v1M403.5 467v1M404.5 465v1M405.5 463v1M406.5 460v1M482.5 456v1M482.5 460v1M484.5 462v1M486.5 463v1M489.5 464v1M490.5 464v1M491.5 463v2M492.5 463v1M493.5 455v1M493.5 462v2M494.5 455v2M494.5 460v3M495.5 456v2M495.5 459v2M496.5 456v1M496.5 460v1M497.5 460v1M499.5 460v1M500.5 456v1M501.5 457v2M517.5 457v4M518.5 456v1M519.5 462v1M520.5 463v1M521.5 463v1M522.5 463v1M523.5 463v1M524.5 463v1M525.5 463v1M526.5 463v1M527.5 462v2M528.5 456v1M528.5 461v3M529.5 456v7M530.5 456v7M531.5 456v7M532.5 456v11M533.5 455v1M533.5 460v7M534.5 462v5M535.5 462v5M536.5 463v4M537.5 464v2M538.5 464v2M539.5 464v2M540.5 464v1M541.5 464v1"/>
<path stroke="#b3ea20" d="M400.5 478v1M401.5 474v2M402.5 470v2M403.5 468v1M404.5 466v1M405.5 464v1M406.5 461v1M485.5 463v1M487.5 464v1M488.5 464v2M489.5 465v3M490.5 465v7M491.5 465v8M492.5 464v9M493.5 464v9M494.5 463v11M495.5 455v1M495.5 461v13M496.5 455v1M496.5 461v12M497.5 455v1M497.5 461v12M498.5 455v1M498.5 461v1M498.5 464v8M499.5 455v1M499.5 461v1M499.5 465v7M500.5 460v1M500.5 466v5M501.5 459v1M501.5 466v5M502.5 467v3M503.5 467v3M504.5 467v2M505.5 467v2M506.5 467v1M512.5 468v1M513.5 468v1M514.5 468v1M515.5 468v1M516.5 457v5M516.5 468v1M517.5 456v1M517.5 461v3M517.5 468v1M518.5 462v3M518.5 468v1M519.5 463v3M519.5 467v1M520.5 464v4M521.5 464v4M522.5 464v4M523.5 464v4M524.5 464v4M525.5 464v4M526.5 464v4M527.5 464v4M528.5 464v4M529.5 463v5M530.5 463v4M531.5 463v4"/>
<path stroke="#c0e820" d="M401.5 476v2M402.5 472v2M403.5 469v1M404.5 467v1M405.5 465v1M406.5 462v2M407.5 458v3M481.5 457v3M482.5 455v1M482.5 461v1M483.5 462v1M484.5 463v1M485.5 464v1M486.5 464v1M487.5 465v1M488.5 466v5M489.5 468v8M490.5 472v3M491.5 473v2M492.5 473v2M493.5 473v1M498.5 462v2M499.5 462v3M500.5 455v1M500.5 461v5M501.5 456v1M501.5 460v6M502.5 457v3M502.5 463v4M503.5 463v4M504.5 464v3M505.5 464v3M506.5 464v3M507.5 464v4M508.5 464v4M509.5 463v5M510.5 463v5M511.5 462v6M512.5 462v6M513.5 460v8M514.5 457v11M515.5 456v12M516.5 456v1M516.5 462v6M517.5 464v4M518.5 465v3M519.5 466v1"/>
<path stroke="#c8e520" d="M401.5 478v1M402.5 474v1M403.5 470v2M404.5 468v1M405.5 466v1M406.5 464v1M407.5 461v1M481.5 456v1M481.5 460v1M483.5 463v1M484.5 464v1M485.5 465v1M486.5 465v2M487.5 466v7M488.5 471v5M501.5 455v1M502.5 456v1M502.5 460v3M503.5 458v5M504.5 460v4M505.5 461v3M506.5 461v3M507.5 460v4M508.5 460v4M509.5 459v4M510.5 458v5M511.5 456v6M512.5 456v6M513.5 456v4M514.5 456v1"/>
<path stroke="#d0e220" d="M402.5 475v2M403.5 472v1M404.5 469v1M405.5 467v1M406.5 465v1M407.5 462v1M408.5 458v1M481.5 455v1M481.5 461v1M482.5 462v1M483.5 464v1M484.5 465v1M485.5 466v2M486.5 467v9M487.5 473v3M502.5 455v1M503.5 455v3M504.5 455v5M505.5 457v4M506.5 455v6M507.5 455v5M508.5 455v5M509.5 455v4M510.5 456v2"/>
<path stroke="#d8df20" d="M402.5 477v2M403.5 473v2M404.5 470v1M405.5 468v1M406.5 466v1M407.5 463v1M408.5 459v2M480.5 456v4M481.5 462v1M482.5 463v1M483.5 465v1M484.5 466v3M485.5 468v9M486.5 476v1M505.5 455v2"/>
<path stroke="#dfdb20" d="M403.5 475v2M404.5 471v2M405.5 469v1M406.5 467v1M407.5 464v2M408.5 461v2M480.5 455v1M480.5 460v2M481.5 463v1M482.5 464v2M483.5 466v5M484.5 469v9"/>
<path stroke="#e7d820" d="M403.5 477v1M404.5 473v1M405.5 470v1M406.5 468v1M407.5 466v1M408.5 463v1M409.5 458v2M479.5 455v6M480.5 462v1M481.5 464v2M482.5 466v10M483.5 471v7"/>
<path stroke="#ead420" d="M403.5 478v1M404.5 474v2M405.5 471v2M406.5 469v1M407.5 467v1M408.5 464v2M409.5 460v2M479.5 461v2M480.5 463v3M481.5 466v13M482.5 476v2"/>
<path stroke="#ecd020" d="M404.5 476v2M405.5 473v1M406.5 470v1M407.5 468v1M408.5 466v1M409.5 462v2M410.5 458v1M478.5 455v7M479.5 463v4M479.5 477v3M480.5 466v13"/>
<path stroke="#eecc20" d="M404.5 478v1M405.5 474v2M406.5 471v2M407.5 469v2M408.5 467v1M409.5 464v2M410.5 459v3M476.5 478v2M477.5 455v6M477.5 476v4M478.5 462v5M478.5 471v9M479.5 467v10"/>
<path stroke="#f0c820" d="M405.5 476v1M406.5 473v1M407.5 471v1M408.5 468v2M409.5 466v2M410.5 462v2M411.5 458v2M472.5 479v1M473.5 478v2M474.5 477v3M475.5 476v4M476.5 455v5M476.5 473v5M477.5 461v7M477.5 469v7M478.5 467v4"/>
<path stroke="#f2c320" d="M405.5 477v2M406.5 474v2M407.5 472v2M408.5 470v2M409.5 468v1M410.5 464v3M411.5 460v3M469.5 479v1M470.5 478v2M471.5 477v3M472.5 477v2M473.5 476v2M474.5 474v3M475.5 455v3M475.5 472v4M476.5 460v13M477.5 468v1"/>
<path stroke="#f4bf20" d="M406.5 476v1M407.5 474v1M408.5 472v2M409.5 469v3M410.5 467v2M411.5 463v2M412.5 458v4M467.5 479v1M468.5 478v2M469.5 477v2M470.5 476v2M471.5 475v2M472.5 474v3M473.5 473v3M474.5 471v3M475.5 458v14"/>
<path stroke="#f7bb20" d="M406.5 477v2M407.5 475v2M408.5 474v2M409.5 472v2M410.5 469v3M411.5 465v3M412.5 462v3M465.5 479v1M466.5 478v2M467.5 477v2M468.5 476v2M469.5 475v2M470.5 474v2M471.5 473v2M472.5 472v2M473.5 470v3M474.5 455v16"/>
<path stroke="#f8b720" d="M407.5 477v2M408.5 476v2M409.5 474v3M410.5 472v4M411.5 468v4M412.5 465v3M413.5 458v6M463.5 479v1M464.5 478v2M465.5 477v2M466.5 476v2M467.5 475v2M468.5 474v2M469.5 473v2M470.5 472v2M471.5 471v2M472.5 470v2M473.5 455v15"/>
<path stroke="#f8b320" d="M408.5 478v1M409.5 477v2M410.5 476v3M411.5 472v6M412.5 468v8M413.5 464v4M414.5 458v5M461.5 478v1M462.5 477v2M463.5 476v3M464.5 476v2M465.5 475v2M466.5 474v2M467.5 473v2M468.5 472v2M469.5 471v2M470.5 470v2M471.5 469v2M472.5 455v15"/>
<path stroke="#f8ae20" d="M412.5 476v2M413.5 468v10M414.5 463v15M415.5 458v4M415.5 473v4M416.5 475v2M417.5 476v1M458.5 478v1M459.5 478v1M460.5 477v2M461.5 476v2M462.5 475v2M463.5 474v2M464.5 474v2M465.5 473v2M466.5 472v2M467.5 471v2M468.5 470v2M469.5 469v2M470.5 467v3M471.5 458v11"/>
<path stroke="#f8aa20" d="M415.5 462v11M416.5 458v17M417.5 472v4M418.5 473v3M419.5 474v2M420.5 475v1M455.5 477v2M456.5 477v2M457.5 476v3M458.5 476v2M459.5 475v3M460.5 475v2M461.5 474v2M462.5 473v2M463.5 472v2M464.5 472v2M465.5 471v2M466.5 470v2M467.5 469v2M468.5 468v2M469.5 466v3M470.5 461v6M471.5 455v3"/>
<path stroke="#f8a61f" d="M417.5 458v14M418.5 458v15M419.5 458v9M419.5 470v4M420.5 458v7M420.5 471v4M421.5 458v6M421.5 472v3M422.5 458v5M422.5 472v3M423.5 458v4M423.5 473v2M424.5 458v2M424.5 473v1M450.5 477v1M451.5 477v1M452.5 476v2M453.5 476v2M454.5 475v3M455.5 475v2M456.5 474v3M457.5 474v2M458.5 473v3M459.5 473v2M460.5 472v3M461.5 471v3M462.5 471v2M463.5 470v2M464.5 470v2M465.5 469v2M466.5 468v2M467.5 467v2M468.5 465v3M469.5 462v4M470.5 455v6"/>
<path stroke="#f8a11e" d="M419.5 467v3M420.5 465v6M421.5 464v8M422.5 463v9M423.5 462v11M424.5 460v13M425.5 458v16M426.5 458v10M426.5 470v4M427.5 458v9M427.5 471v2M428.5 458v8M428.5 471v2M429.5 458v7M429.5 472v1M430.5 458v6M430.5 472v1M431.5 458v4M446.5 476v1M447.5 476v1M448.5 475v2M449.5 475v2M450.5 475v2M451.5 474v3M452.5 474v2M453.5 473v3M454.5 473v2M455.5 472v3M456.5 472v2M457.5 471v3M458.5 471v2M459.5 470v3M460.5 470v2M461.5 469v2M462.5 469v2M463.5 468v2M464.5 468v2M465.5 467v2M466.5 466v2M467.5 465v2M468.5 463v2M469.5 459v3"/>
<path stroke="#f89c1c" d="M426.5 468v2M427.5 467v4M428.5 466v5M429.5 465v7M430.5 464v8M431.5 462v11M432.5 458v15M433.5 458v15M434.5 458v15M435.5 458v10M435.5 470v3M436.5 458v6M436.5 471v2M437.5 471v3M438.5 472v2M439.5 472v2M440.5 473v2M441.5 473v2M442.5 473v3M443.5 473v3M444.5 473v3M445.5 473v3M446.5 473v3M447.5 473v3M448.5 473v2M449.5 473v2M450.5 473v2M451.5 472v2M452.5 472v2M453.5 471v2M454.5 471v2M455.5 470v2M456.5 470v2M457.5 469v2M458.5 469v2M459.5 468v2M460.5 468v2M461.5 467v2M462.5 467v2M463.5 467v1M464.5 467v1M465.5 466v1M466.5 465v1M467.5 463v2M468.5 460v3M469.5 455v4"/>
<path stroke="#f8981b" d="M435.5 468v2M436.5 464v7M437.5 458v13M438.5 458v14M439.5 458v14M440.5 458v15M441.5 458v15M442.5 464v9M443.5 468v5M444.5 470v3M445.5 470v3M446.5 470v3M447.5 471v2M448.5 471v2M449.5 471v2M450.5 470v3M451.5 470v2M452.5 469v3M453.5 469v2M454.5 468v3M455.5 468v2M456.5 467v3M457.5 467v2M458.5 467v2M459.5 466v2M460.5 466v2M461.5 466v1M462.5 466v1M463.5 466v1M464.5 465v2M465.5 464v2M466.5 463v2M467.5 461v2M468.5 457v3"/>
<path stroke="#f89319" d="M442.5 458v6M443.5 458v10M444.5 458v12M445.5 458v12M446.5 462v8M447.5 465v6M448.5 466v5M449.5 467v4M450.5 467v3M451.5 467v3M452.5 466v3M453.5 466v3M454.5 466v2M455.5 466v2M456.5 466v1M457.5 465v2M458.5 465v2M459.5 465v1M460.5 465v1M461.5 464v2M462.5 464v2M463.5 464v2M464.5 464v1M465.5 463v1M466.5 461v2M467.5 459v2M468.5 455v2"/>
<path stroke="#f88e17" d="M446.5 458v4M447.5 458v7M448.5 459v7M449.5 462v5M450.5 463v4M451.5 463v4M452.5 464v2M453.5 464v2M454.5 464v2M455.5 464v2M456.5 464v2M457.5 463v2M458.5 463v2M459.5 463v2M460.5 463v2M461.5 463v1M462.5 463v1M463.5 463v1M464.5 462v2M465.5 461v2M466.5 460v1M467.5 455v4"/>
<path stroke="#f88716" d="M448.5 458v1M449.5 457v5M450.5 457v6M451.5 460v3M452.5 461v3M453.5 461v3M454.5 462v2M455.5 462v2M456.5 462v2M457.5 462v1M458.5 462v1M459.5 462v1M460.5 462v1M461.5 461v2M462.5 461v2M463.5 461v2M464.5 461v1M465.5 460v1M466.5 458v2"/>
<path stroke="#f88114" d="M451.5 457v3M452.5 457v4M453.5 458v3M454.5 459v3M455.5 460v2M456.5 460v2M457.5 460v2M458.5 460v2M459.5 460v2M460.5 460v2M461.5 460v1M462.5 460v1M463.5 460v1M464.5 460v1M465.5 459v1M466.5 455v3"/>
<path stroke="#f87b13" d="M453.5 456v2M454.5 456v3M455.5 456v4M456.5 456v4M457.5 458v2M458.5 458v2M459.5 458v2M460.5 458v2M461.5 458v2M462.5 459v1M463.5 459v1M464.5 458v2M465.5 456v3"/>
<path stroke="#f87511" d="M457.5 456v2M458.5 456v2M459.5 456v2M460.5 455v3M461.5 455v3M462.5 455v4M463.5 455v4M464.5 455v3M465.5 455v1"/>
</g>
<path fill="none" stroke="#111" stroke-width="1.4" stroke-dasharray="1.4 2.07" d="M324.9 456.67L328.37 456.9L331.84 457.14L335.31 459.17L338.78 460.9L342.25 461.15L345.72 460.86L349.19 459.88L352.66 458.89L356.13 457.83L359.6 456.4L363.07 455.74L366.54 455.25L370.01 455.58L373.48 455.93L376.95 456.35L380.42 456.81L383.89 457.28L387.36 457.76L390.83 458.26L394.3 458.8L397.77 459.25L401.24 459.52L404.71 459.59L408.18 459.66L411.65 459.73L415.12 459.8L418.59 459.87L422.06 459.92L425.53 459.97L429 460.01L432.47 460.05L435.94 460.09L439.41 460.13L442.88 460.17L446.35 459.96L449.82 459L453.29 458.22L456.76 457.69L460.23 457.26L463.7 456.99L467.17 456.78L470.64 456.65L474.11 456.68L477.58 456.7L481.05 456.73L484.52 456.75L487.99 456.78L491.46 456.8L494.93 456.83L498.4 456.85L501.87 456.88L505.34 456.93L508.81 457.2L512.28 457.48L515.75 457.7L519.22 457.7L522.69 458.17L526.16 458.24L529.63 457.66L533.1 457.33L536.57 457.04L540.04 456.74"/>
<path d="M324.6 446.2V481H542.8" fill="none" stroke="#8c8c8c" stroke-width="1"/>
<path d="M324.6 481v2.3M359.27 481v2.3M393.93 481v2.3M428.6 481v2.3M463.27 481v2.3M497.93 481v2.3M532.6 481v2.3M324.6 481h-2.3M324.6 463.6h-2.3M324.6 446.2h-2.3" stroke="#555" stroke-width="1"/>
<g font-size="9" fill="#262626" text-anchor="middle">
<text x="324.6" y="496.5">40</text>
<text x="359.27" y="496.5">60</text>
<text x="393.93" y="496.5">80</text>
<text x="428.6" y="496.5">100</text>
<text x="463.27" y="496.5">120</text>
<text x="497.93" y="496.5">140</text>
<text x="532.6" y="496.5">160</text>
</g>
<g font-size="9" fill="#262626" text-anchor="end">
<text x="319" y="484.2">440</text>
<text x="319" y="466.8">450</text>
<text x="319" y="449.4">460</text>
</g>
<text font-size="9" fill="#262626" text-anchor="middle" transform="translate(299.3 463.6) rotate(-90)">height (m)</text>
<text font-size="9" fill="#262626" text-anchor="middle" x="433.7" y="508">x (m)</text>
<text font-size="16" font-weight="bold" fill="#000" x="331.8" y="511.0">(g)</text>
<g clip-path="url(#ch)" stroke-width="1">
<path stroke="#1989f8" d="M335.5 589v3M336.5 590v2"/>
<path stroke="#188ef6" d="M334.5 589v3M335.5 592v2M336.5 592v2M337.5 590v3"/>
<path stroke="#1693f4" d="M333.5 588v3M334.5 592v2M335.5 594v1M336.5 594v1M337.5 593v1"/>
<path stroke="#1497f3" d="M332.5 588v2M333.5 591v2M334.5 594v1M335.5 595v1M336.5 595v1M337.5 594v1M338.5 591v3"/>
<path stroke="#129cf1" d="M332.5 590v3M333.5 593v2M334.5 595v1M335.5 596v1M336.5 596v1M337.5 595v1M338.5 594v1M339.5 591v1"/>
<path stroke="#10a0f0" d="M331.5 587v5M332.5 593v3M333.5 595v2M334.5 596v2M335.5 597v1M336.5 597v1M337.5 596v2M338.5 595v1M339.5 592v2"/>
<path stroke="#10a5ee" d="M330.5 587v5M331.5 592v4M332.5 596v2M333.5 597v2M334.5 598v1M335.5 598v1M336.5 598v1M337.5 598v1M338.5 596v1M339.5 594v1"/>
<path stroke="#10aaed" d="M329.5 587v5M330.5 592v4M331.5 596v3M332.5 598v2M333.5 599v2M334.5 599v2M335.5 599v2M336.5 599v1M337.5 599v1M338.5 597v1M339.5 595v2M340.5 591v3"/>
<path stroke="#10aeeb" d="M328.5 587v5M329.5 592v4M330.5 596v4M331.5 599v2M332.5 600v2M333.5 601v1M334.5 601v1M335.5 601v1M336.5 600v1M337.5 600v1M338.5 598v2M339.5 597v1M340.5 594v1"/>
<path stroke="#10b3ea" d="M327.5 587v5M328.5 592v4M329.5 596v4M330.5 600v1M331.5 601v1M332.5 602v1M333.5 602v1M334.5 602v1M335.5 602v1M336.5 601v1M337.5 601v1M338.5 600v1M339.5 598v1M340.5 595v1M341.5 591v1"/>
<path stroke="#10b7e8" d="M326.5 587v5M327.5 592v4M328.5 596v4M329.5 600v2M330.5 601v2M331.5 602v1M332.5 603v1M333.5 603v1M334.5 603v1M336.5 602v1M337.5 602v1M338.5 601v1M339.5 599v1M340.5 596v2M341.5 592v2"/>
<path stroke="#10bbe4" d="M323.5 589v1M324.5 588v2M325.5 587v6M326.5 592v4M327.5 596v4M328.5 600v2M329.5 602v1M330.5 603v1M331.5 603v2M332.5 604v1M333.5 604v1M334.5 604v1M335.5 603v1M336.5 603v1M339.5 600v1M340.5 598v1M341.5 594v2"/>
<path stroke="#10bedf" d="M323.5 590v4M324.5 590v5M325.5 593v4M326.5 596v4M327.5 600v2M328.5 602v1M329.5 603v1M330.5 604v1M331.5 605v1M332.5 605v1M333.5 605v1M334.5 605v1M335.5 604v1M336.5 604v1M337.5 603v1M338.5 602v1M339.5 601v1M340.5 599v1M341.5 596v1"/>
<path stroke="#10c1da" d="M323.5 594v4M324.5 595v4M325.5 597v4M326.5 600v2M327.5 602v2M328.5 603v2M329.5 604v2M330.5 605v1M331.5 606v1M332.5 606v1M333.5 606v1M334.5 606v1M335.5 605v1M338.5 603v1M339.5 602v1M340.5 600v1M341.5 597v1M342.5 591v3"/>
<path stroke="#10c4d6" d="M323.5 598v3M324.5 599v3M325.5 601v2M326.5 602v2M327.5 604v1M328.5 605v1M329.5 606v1M330.5 606v1M331.5 607v1M332.5 607v1M333.5 607v1M334.5 607v1M335.5 606v1M336.5 605v1M337.5 604v1M340.5 601v1M341.5 598v1M342.5 594v1"/>
<path stroke="#10c7d1" d="M332.5 608v1M333.5 608v1M334.5 608v1M335.5 607v1M336.5 606v1M337.5 605v1M338.5 604v1M339.5 603v1M340.5 602v1M341.5 599v1M342.5 595v2"/>
<path stroke="#10cacb" d="M334.5 609v1M335.5 608v1M341.5 600v1M342.5 597v1"/>
<path stroke="#10cec5" d="M335.5 609v1M336.5 607v1M337.5 606v1M338.5 605v1M339.5 604v1M340.5 603v1M341.5 601v1M342.5 598v2M343.5 591v3"/>
<path stroke="#10d1be" d="M336.5 608v1M341.5 602v1M342.5 600v1M343.5 594v2"/>
<path stroke="#10d4b8" d="M335.5 610v1M336.5 609v1M337.5 607v1M338.5 606v1M339.5 605v1M340.5 604v1M342.5 601v1M343.5 596v2"/>
<path stroke="#10d7b2" d="M337.5 608v1M341.5 603v1M342.5 602v1M343.5 598v2M344.5 591v3M351.5 589v1M352.5 589v1M353.5 589v1M354.5 588v1M355.5 588v1"/>
<path stroke="#10daac" d="M336.5 610v1M338.5 607v1M339.5 606v1M340.5 605v1M343.5 600v1M344.5 594v2M348.5 590v2M349.5 590v2M350.5 590v2M351.5 590v1M352.5 590v1M353.5 590v1M354.5 589v2M355.5 589v1M356.5 588v2M357.5 587v1"/>
<path stroke="#10dca8" d="M337.5 609v1M341.5 604v1M342.5 603v1M343.5 601v1M344.5 596v1M345.5 591v3M346.5 591v2M347.5 590v3M348.5 592v1M349.5 592v1M351.5 591v1M352.5 591v1M355.5 590v1M357.5 588v2"/>
<path stroke="#10dfa3" d="M337.5 610v1M338.5 608v1M339.5 607v1M343.5 602v1M344.5 597v2M345.5 594v1M346.5 593v1M350.5 592v1M351.5 592v1M353.5 591v1M354.5 591v1M356.5 590v1M358.5 587v1M377.5 586v12M378.5 587v14M379.5 587v16M380.5 587v23M381.5 587v24M382.5 587v24M383.5 587v24M384.5 587v25M385.5 588v24M386.5 588v15M387.5 588v7M388.5 588v5M389.5 588v4M390.5 588v3M391.5 588v3M392.5 589v1"/>
<path stroke="#10e19e" d="M338.5 609v1M340.5 606v1M341.5 605v1M342.5 604v1M343.5 603v1M344.5 599v2M345.5 595v1M346.5 594v1M347.5 593v1M348.5 593v1M349.5 593v1M352.5 592v1M355.5 591v1M357.5 590v1M358.5 588v1M376.5 586v9M377.5 598v3M378.5 601v3M379.5 603v5M380.5 610v1M386.5 603v9M387.5 595v8M388.5 593v4M389.5 592v2M390.5 591v2M391.5 591v2M392.5 590v2M393.5 589v2"/>
<path stroke="#10e499" d="M339.5 608v1M344.5 601v1M345.5 596v1M347.5 594v1M350.5 593v1M353.5 592v1M354.5 592v1M356.5 591v1M358.5 589v1M375.5 586v3M376.5 595v5M377.5 601v2M378.5 604v2M379.5 608v3M387.5 603v6M388.5 597v4M389.5 594v3M390.5 593v2M391.5 593v1M392.5 592v1M393.5 591v1M394.5 589v1"/>
<path stroke="#10e694" d="M338.5 610v1M340.5 607v1M341.5 606v1M342.5 605v1M343.5 604v1M344.5 602v1M345.5 597v2M346.5 595v1M348.5 594v1M349.5 594v1M351.5 593v1M352.5 593v1M355.5 592v1M357.5 591v1M375.5 589v5M376.5 600v2M377.5 603v2M378.5 606v2M387.5 609v3M388.5 601v4M389.5 597v2M390.5 595v2M391.5 594v1M392.5 593v1M393.5 592v1M394.5 590v2"/>
<path stroke="#10e88e" d="M339.5 609v1M344.5 603v1M345.5 599v1M346.5 596v1M347.5 595v1M350.5 594v1M353.5 593v1M356.5 592v1M358.5 590v1M359.5 586v2M375.5 594v4M376.5 602v1M377.5 605v1M378.5 608v3M388.5 605v5M389.5 599v3M390.5 597v1M391.5 595v2M392.5 594v1M393.5 593v1M394.5 592v1M395.5 589v2"/>
<path stroke="#10ea86" d="M338.5 611v1M340.5 608v1M341.5 607v1M342.5 606v1M343.5 605v1M345.5 600v1M346.5 597v1M347.5 596v1M348.5 595v1M351.5 594v1M354.5 593v1M357.5 592v1M359.5 588v1M374.5 586v4M375.5 598v3M376.5 603v1M377.5 606v2M388.5 610v3M389.5 602v4M390.5 598v2M391.5 597v1M392.5 595v2M393.5 594v1M394.5 593v1M395.5 591v1"/>
<path stroke="#10eb7f" d="M339.5 610v1M344.5 604v1M345.5 601v1M346.5 598v1M349.5 595v1M350.5 595v1M352.5 594v1M355.5 593v1M356.5 593v1M358.5 591v1M359.5 589v1M374.5 590v4M375.5 601v1M376.5 604v2M377.5 608v1M389.5 606v4M390.5 600v3M391.5 598v1M392.5 597v1M393.5 595v1M394.5 594v1M395.5 592v1M396.5 589v3"/>
<path stroke="#10ed77" d="M340.5 609v1M341.5 608v1M342.5 607v1M343.5 606v1M345.5 602v1M347.5 597v1M348.5 596v1M351.5 595v1M353.5 594v1M354.5 594v1M359.5 590v1M374.5 594v4M375.5 602v1M376.5 606v1M377.5 609v2M389.5 610v3M390.5 603v3M391.5 599v2M392.5 598v1M393.5 596v1M394.5 595v1M395.5 593v1M396.5 592v1M397.5 589v1"/>
<path stroke="#10ef6f" d="M339.5 611v1M344.5 605v1M345.5 603v1M346.5 599v1M349.5 596v1M352.5 595v1M355.5 594v1M357.5 593v1M358.5 592v1M360.5 586v2M373.5 586v4M374.5 598v2M375.5 603v1M376.5 607v1M390.5 606v4M391.5 601v3M392.5 599v1M393.5 597v1M394.5 596v1M395.5 594v1M396.5 593v1M397.5 590v2"/>
<path stroke="#10f067" d="M340.5 610v1M343.5 607v1M346.5 600v1M347.5 598v1M348.5 597v1M350.5 596v1M353.5 595v1M356.5 594v1M359.5 591v1M360.5 588v1M373.5 590v3M374.5 600v2M375.5 604v2M376.5 608v2M390.5 610v3M391.5 604v3M392.5 600v2M393.5 598v1M394.5 597v1M395.5 595v1M396.5 594v1M397.5 592v1"/>
<path stroke="#10f260" d="M341.5 609v1M342.5 608v1M344.5 606v1M345.5 604v1M346.5 601v1M347.5 599v1M349.5 597v1M351.5 596v1M354.5 595v1M355.5 595v1M357.5 594v1M358.5 593v1M360.5 589v1M373.5 593v4M374.5 602v1M375.5 606v1M376.5 610v1M391.5 607v3M392.5 602v2M393.5 599v2M394.5 598v1M395.5 596v1M396.5 595v1M397.5 593v1M398.5 589v3M487.5 590v1M488.5 590v1"/>
<path stroke="#10f358" d="M340.5 611v2M343.5 608v1M344.5 607v1M345.5 605v1M346.5 602v1M348.5 598v1M350.5 597v1M352.5 596v1M356.5 595v1M359.5 592v1M360.5 590v1M372.5 586v2M373.5 597v3M374.5 603v1M375.5 607v1M391.5 610v3M392.5 604v3M393.5 601v1M394.5 599v1M395.5 597v1M396.5 596v1M397.5 594v1M398.5 592v1M486.5 590v2M487.5 589v1M487.5 591v1M488.5 591v1"/>
<path stroke="#10f550" d="M341.5 610v1M342.5 609v1M345.5 606v1M346.5 603v1M347.5 600v1M349.5 598v1M351.5 597v1M353.5 596v1M354.5 596v1M357.5 595v1M358.5 594v1M359.5 593v1M360.5 591v1M372.5 588v5M373.5 600v2M374.5 604v2M375.5 608v1M392.5 607v3M393.5 602v3M394.5 600v1M395.5 598v1M396.5 597v1M397.5 595v1M398.5 593v1M399.5 589v2M486.5 589v1M488.5 589v1"/>
<path stroke="#10f648" d="M341.5 611v1M343.5 609v1M344.5 608v1M346.5 604v1M347.5 601v1M348.5 599v1M350.5 598v1M352.5 597v1M355.5 596v1M356.5 596v1M361.5 586v3M372.5 593v4M373.5 602v1M374.5 606v1M375.5 609v1M392.5 610v2M393.5 605v3M394.5 601v2M395.5 599v1M396.5 598v1M397.5 596v1M398.5 594v2M399.5 591v2M485.5 590v1M489.5 590v2"/>
<path stroke="#10f840" d="M341.5 612v1M342.5 610v1M345.5 607v1M346.5 605v1M349.5 599v1M351.5 598v1M353.5 597v1M357.5 596v1M358.5 595v1M359.5 594v1M360.5 592v1M361.5 589v1M371.5 586v2M372.5 597v3M373.5 603v2M374.5 607v1M393.5 608v3M394.5 603v3M395.5 600v2M396.5 599v1M397.5 597v1M398.5 596v1M399.5 593v1M485.5 589v1M485.5 591v1M486.5 592v1M487.5 592v1M488.5 592v1M489.5 589v1"/>
<path stroke="#1ff639" d="M342.5 611v1M343.5 610v1M344.5 609v1M345.5 608v1M346.5 606v1M347.5 602v2M348.5 600v1M354.5 597v1M355.5 597v1M360.5 593v1M361.5 590v1M371.5 588v5M372.5 600v2M373.5 605v1M374.5 608v2M393.5 611v1M394.5 606v2M395.5 602v2M396.5 600v1M397.5 598v1M398.5 597v1M399.5 594v1M400.5 590v1M486.5 588v1M487.5 588v1M488.5 588v1"/>
<path stroke="#30f432" d="M342.5 612v1M344.5 610v1M345.5 609v1M346.5 607v1M347.5 604v1M348.5 601v1M349.5 600v1M350.5 599v1M352.5 598v1M353.5 598v1M356.5 597v1M358.5 596v1M359.5 595v1M360.5 594v1M361.5 591v1M362.5 586v1M371.5 593v4M372.5 602v2M373.5 606v2M394.5 608v3M395.5 604v2M396.5 601v1M397.5 599v1M398.5 598v1M399.5 595v2M400.5 591v2M484.5 590v1M485.5 592v1M489.5 592v1M490.5 590v2"/>
<path stroke="#40f32b" d="M343.5 611v2M346.5 608v1M347.5 605v1M348.5 602v1M351.5 599v1M354.5 598v1M357.5 597v1M359.5 596v1M361.5 592v1M362.5 587v3M370.5 586v4M371.5 597v4M372.5 604v2M373.5 608v1M394.5 611v1M395.5 606v3M396.5 602v3M397.5 600v1M398.5 599v1M399.5 597v1M400.5 593v2M484.5 589v1M484.5 591v1M485.5 588v1M489.5 588v1M490.5 589v1"/>
<path stroke="#50f124" d="M344.5 611v2M345.5 610v1M346.5 609v1M347.5 606v2M348.5 603v1M349.5 601v1M350.5 600v1M352.5 599v1M355.5 598v1M356.5 598v1M358.5 597v1M360.5 595v1M361.5 593v1M362.5 590v1M370.5 590v5M371.5 601v3M372.5 606v2M373.5 609v1M395.5 609v3M396.5 605v2M397.5 601v2M398.5 600v1M399.5 598v1M400.5 595v1M487.5 593v1M488.5 593v1M490.5 592v1M524.5 590v1M525.5 590v1"/>
<path stroke="#5ef020" d="M345.5 611v2M346.5 610v1M347.5 608v1M348.5 604v2M349.5 602v1M350.5 601v1M351.5 600v1M353.5 599v1M354.5 599v1M357.5 598v1M359.5 597v1M360.5 596v1M361.5 594v1M362.5 591v2M363.5 586v2M369.5 586v3M370.5 595v5M371.5 604v2M372.5 608v2M396.5 607v3M397.5 603v3M398.5 601v1M399.5 599v1M400.5 596v2M401.5 590v3M484.5 588v1M484.5 592v1M486.5 587v1M486.5 593v1M487.5 587v1M488.5 587v1M489.5 593v1M490.5 588v1M491.5 589v3M498.5 589v2M499.5 589v2M524.5 591v1M525.5 591v1"/>
<path stroke="#69f020" d="M346.5 611v2M347.5 609v2M348.5 606v3M349.5 603v3M350.5 602v1M352.5 600v1M355.5 599v1M356.5 599v1M358.5 598v1M360.5 597v1M361.5 595v2M362.5 593v1M363.5 588v3M369.5 589v9M370.5 600v4M371.5 606v3M396.5 610v2M397.5 606v2M398.5 602v2M399.5 600v1M400.5 598v1M401.5 593v2M483.5 590v1M485.5 587v1M485.5 593v1M489.5 587v1M491.5 592v1M523.5 590v2M524.5 589v1M525.5 589v1M526.5 590v2"/>
<path stroke="#75f020" d="M347.5 611v2M348.5 609v2M349.5 606v2M350.5 603v3M351.5 601v1M353.5 600v1M354.5 600v1M357.5 599v1M358.5 599v1M359.5 598v1M361.5 597v1M362.5 594v2M363.5 591v2M364.5 586v3M368.5 585v6M369.5 598v5M370.5 604v4M397.5 608v3M398.5 604v3M399.5 601v2M400.5 599v2M401.5 595v2M483.5 589v1M483.5 591v1M490.5 587v1M490.5 593v1M491.5 588v1M492.5 590v2M497.5 589v2M498.5 591v1M500.5 590v1M523.5 589v1M524.5 592v1M525.5 592v1M526.5 589v1M527.5 590v1"/>
<path stroke="#81f020" d="M348.5 611v2M349.5 608v3M350.5 606v3M351.5 602v5M352.5 601v2M353.5 601v1M355.5 600v1M356.5 600v1M357.5 600v1M359.5 599v1M360.5 598v1M361.5 598v1M362.5 596v2M363.5 593v3M364.5 589v4M365.5 585v2M368.5 591v12M369.5 603v5M370.5 608v1M397.5 611v1M398.5 607v2M399.5 603v2M400.5 601v1M401.5 597v2M402.5 590v4M483.5 588v1M483.5 592v1M484.5 587v1M484.5 593v1M486.5 594v1M487.5 594v1M488.5 594v1M489.5 594v1M491.5 593v1M492.5 589v1M492.5 592v1M499.5 591v1M500.5 589v1M522.5 589v3M523.5 592v1M525.5 588v1M526.5 588v1M526.5 592v1M527.5 589v1M527.5 591v1"/>
<path stroke="#8dee20" d="M349.5 611v2M350.5 609v4M351.5 607v6M352.5 603v10M353.5 602v11M354.5 601v12M355.5 601v12M356.5 601v12M357.5 601v11M358.5 600v12M359.5 600v11M360.5 599v11M361.5 599v2M362.5 598v2M363.5 596v2M364.5 593v4M365.5 587v8M366.5 585v9M367.5 585v20M368.5 603v5M398.5 609v2M399.5 605v3M400.5 602v2M401.5 599v2M402.5 594v2M485.5 594v1M490.5 594v1M491.5 587v1M492.5 588v1M492.5 593v1M493.5 589v3M496.5 589v2M497.5 588v1M497.5 591v1M498.5 588v1M499.5 588v1M500.5 591v1M522.5 592v1M523.5 588v1M524.5 593v1M525.5 593v1M527.5 588v1M527.5 592v1M528.5 589v3"/>
<path stroke="#9aed20" d="M361.5 601v9M362.5 600v10M363.5 598v11M364.5 597v12M365.5 595v13M366.5 594v14M367.5 605v3M399.5 608v2M400.5 604v2M401.5 601v2M402.5 596v3M482.5 589v3M483.5 587v1M488.5 595v1M489.5 595v1M490.5 595v1M491.5 594v1M492.5 587v1M492.5 594v1M493.5 588v1M493.5 592v2M494.5 589v3M495.5 589v2M496.5 588v1M496.5 591v1M498.5 592v1M500.5 588v1M501.5 589v2M521.5 588v5M522.5 588v1M523.5 593v1M526.5 593v1M527.5 593v1M528.5 588v1M528.5 592v1M529.5 588v5M530.5 589v2"/>
<path stroke="#a7eb20" d="M399.5 610v1M400.5 606v2M401.5 603v1M402.5 599v2M403.5 590v4M482.5 588v1M483.5 593v1M484.5 594v1M486.5 595v1M487.5 595v1M489.5 596v1M490.5 596v1M491.5 595v2M492.5 595v1M493.5 587v1M493.5 594v1M494.5 587v2M494.5 592v3M495.5 588v1M495.5 591v2M496.5 592v1M497.5 587v1M497.5 592v1M498.5 587v1M499.5 587v1M499.5 592v1M500.5 592v1M501.5 588v1M501.5 591v1M519.5 588v4M520.5 588v5M521.5 593v1M522.5 593v2M523.5 594v1M524.5 594v2M525.5 594v2M526.5 594v3M527.5 594v3M528.5 593v5M529.5 593v6M530.5 588v1M530.5 591v8M531.5 588v11M532.5 587v12M533.5 587v12M534.5 587v12M535.5 587v12M536.5 587v11M537.5 587v11M538.5 587v11M539.5 587v10M540.5 587v10M541.5 587v9M542.5 587v8M543.5 588v6"/>
<path stroke="#b3ea20" d="M400.5 608v1M401.5 604v2M402.5 601v2M403.5 594v4M482.5 587v1M482.5 592v1M485.5 595v1M487.5 596v1M488.5 596v1M489.5 597v3M490.5 597v7M491.5 597v8M492.5 596v9M493.5 595v10M494.5 595v10M495.5 587v1M495.5 593v12M496.5 587v1M496.5 593v12M497.5 593v12M498.5 593v11M499.5 593v11M500.5 587v1M500.5 593v10M501.5 592v2M501.5 595v8M502.5 589v3M502.5 596v6M503.5 597v5M504.5 597v4M505.5 598v3M506.5 597v3M507.5 597v3M508.5 597v3M509.5 596v4M510.5 596v4M511.5 595v5M512.5 594v6M513.5 593v8M514.5 588v13M515.5 588v13M516.5 588v13M517.5 588v13M518.5 588v13M519.5 592v8M520.5 593v7M521.5 594v6M522.5 595v5M523.5 595v5M524.5 596v4M525.5 596v4M526.5 597v3M527.5 597v3M528.5 598v2"/>
<path stroke="#c0e820" d="M400.5 609v2M401.5 606v1M402.5 603v1M403.5 598v3M481.5 589v3M482.5 593v1M483.5 594v1M484.5 595v1M486.5 596v1M487.5 597v1M488.5 597v6M489.5 600v8M490.5 604v3M491.5 605v2M492.5 605v2M493.5 605v1M494.5 605v1M501.5 587v1M501.5 594v1M502.5 587v2M502.5 592v4M503.5 587v10M504.5 593v4M505.5 593v5M506.5 594v3M507.5 594v3M508.5 594v3M509.5 594v2M510.5 594v2M511.5 593v2M512.5 592v2M513.5 588v5"/>
<path stroke="#c8e520" d="M401.5 607v2M402.5 604v2M403.5 601v2M404.5 590v6M481.5 588v1M481.5 592v1M485.5 596v1M486.5 597v2M487.5 598v7M488.5 603v5M504.5 587v6M505.5 587v1M505.5 592v1M506.5 593v1M507.5 593v1M508.5 593v1M509.5 593v1M510.5 593v1M511.5 587v1M512.5 588v1M512.5 591v1"/>
<path stroke="#d0e220" d="M401.5 609v2M402.5 606v1M403.5 603v1M404.5 596v5M481.5 587v1M481.5 593v1M482.5 594v1M483.5 595v1M484.5 596v2M485.5 597v3M486.5 599v9M487.5 605v3M505.5 588v1M505.5 591v1M506.5 587v1M506.5 592v1M510.5 587v1M511.5 592v1M512.5 589v2"/>
<path stroke="#d8df20" d="M402.5 607v1M403.5 604v1M404.5 601v2M480.5 587v5M482.5 595v1M483.5 596v2M484.5 598v3M485.5 600v9M486.5 608v1M505.5 589v2M507.5 587v1M507.5 592v1M508.5 587v1M509.5 587v1M510.5 592v1M511.5 588v1M511.5 591v1"/>
<path stroke="#dfdb20" d="M402.5 608v2M403.5 605v2M404.5 603v1M405.5 590v10M480.5 592v2M481.5 594v2M482.5 596v2M483.5 598v4M484.5 601v8M506.5 588v1M506.5 591v1M508.5 592v1M509.5 592v1M511.5 589v1"/>
<path stroke="#e7d820" d="M402.5 610v1M403.5 607v1M404.5 604v1M405.5 600v3M479.5 587v5M480.5 594v1M481.5 596v2M482.5 598v10M483.5 602v8M506.5 589v2M507.5 588v1M510.5 588v1M511.5 590v1"/>
<path stroke="#ead420" d="M403.5 608v1M404.5 605v1M405.5 603v1M406.5 590v10M479.5 592v3M480.5 595v3M481.5 598v13M482.5 608v2M507.5 591v1M508.5 588v1M509.5 588v1M510.5 591v1"/>
<path stroke="#ecd020" d="M403.5 609v1M404.5 606v1M405.5 604v1M406.5 600v3M478.5 587v7M479.5 595v4M479.5 609v2M480.5 598v13M508.5 591v1M509.5 591v1M510.5 589v1"/>
<path stroke="#eecc20" d="M403.5 610v1M404.5 607v1M405.5 605v1M406.5 603v1M407.5 594v8M476.5 610v2M477.5 587v6M477.5 608v4M478.5 594v5M478.5 603v9M479.5 599v10M507.5 589v2M510.5 590v1"/>
<path stroke="#f0c820" d="M404.5 608v2M405.5 606v1M406.5 604v1M407.5 590v4M407.5 602v2M472.5 611v1M473.5 610v2M474.5 609v3M475.5 608v4M476.5 587v5M476.5 605v5M477.5 593v7M477.5 601v7M478.5 599v4M508.5 589v1M509.5 589v1"/>
<path stroke="#f2c320" d="M404.5 610v1M405.5 607v1M406.5 605v2M407.5 604v1M408.5 594v10M469.5 611v1M470.5 610v2M471.5 609v3M472.5 608v3M473.5 607v3M474.5 606v3M475.5 587v3M475.5 604v4M476.5 592v13M477.5 600v1M508.5 590v1M509.5 590v1"/>
<path stroke="#f4bf20" d="M405.5 608v2M406.5 607v1M407.5 605v2M408.5 590v4M408.5 604v2M409.5 598v6M467.5 611v1M468.5 610v2M469.5 609v2M470.5 608v2M471.5 607v2M472.5 606v2M473.5 605v2M474.5 603v3M475.5 590v14"/>
<path stroke="#f7bb20" d="M405.5 610v1M406.5 608v1M407.5 607v1M408.5 606v2M409.5 593v5M409.5 604v2M410.5 600v3M465.5 611v1M466.5 610v2M467.5 609v2M468.5 608v2M469.5 607v2M470.5 606v2M471.5 605v2M472.5 604v2M473.5 602v3M474.5 587v16"/>
<path stroke="#f8b720" d="M406.5 609v2M407.5 608v2M408.5 608v1M409.5 590v3M409.5 606v3M410.5 596v4M410.5 603v4M411.5 601v3M463.5 610v1M464.5 609v3M465.5 609v2M466.5 608v2M467.5 607v2M468.5 606v2M469.5 605v2M470.5 604v2M471.5 603v2M472.5 601v3M473.5 587v15"/>
<path stroke="#f8b320" d="M407.5 610v1M408.5 609v2M409.5 609v2M410.5 591v5M410.5 607v3M411.5 597v4M411.5 604v6M412.5 601v7M461.5 610v1M462.5 609v2M463.5 608v2M464.5 607v2M465.5 607v2M466.5 606v2M467.5 605v2M468.5 604v2M469.5 603v2M470.5 602v2M471.5 601v2M472.5 587v14"/>
<path stroke="#f8ae20" d="M410.5 590v1M411.5 593v4M412.5 596v5M412.5 608v2M413.5 599v11M414.5 602v7M415.5 605v4M416.5 607v2M458.5 610v1M459.5 610v1M460.5 609v2M461.5 608v2M462.5 607v2M463.5 606v2M464.5 605v2M465.5 605v2M466.5 604v2M467.5 603v2M468.5 602v2M469.5 601v2M470.5 599v3M471.5 590v11"/>
<path stroke="#f8aa20" d="M411.5 590v3M412.5 590v6M413.5 593v6M414.5 594v8M415.5 596v9M416.5 600v7M417.5 603v5M418.5 605v3M419.5 606v2M420.5 606v2M454.5 609v1M455.5 609v1M456.5 609v2M457.5 608v3M458.5 608v2M459.5 607v3M460.5 606v3M461.5 606v2M462.5 605v2M463.5 604v2M464.5 603v2M465.5 603v2M466.5 602v2M467.5 601v2M468.5 600v2M469.5 598v3M470.5 593v6M471.5 587v3"/>
<path stroke="#f8a61f" d="M413.5 590v3M414.5 590v4M415.5 590v6M416.5 590v10M417.5 590v13M418.5 590v15M419.5 590v8M419.5 602v4M420.5 590v5M420.5 603v3M421.5 590v4M421.5 604v3M422.5 590v3M422.5 604v3M423.5 605v2M424.5 605v1M425.5 605v1M450.5 609v1M451.5 608v2M452.5 608v2M453.5 608v2M454.5 607v2M455.5 607v2M456.5 606v3M457.5 606v2M458.5 605v3M459.5 605v2M460.5 604v2M461.5 603v3M462.5 603v2M463.5 602v2M464.5 601v2M465.5 601v2M466.5 600v2M467.5 599v2M468.5 597v3M469.5 594v4M470.5 587v6"/>
<path stroke="#f8a11e" d="M419.5 598v4M420.5 595v8M421.5 594v10M422.5 593v11M423.5 590v15M424.5 590v15M425.5 590v15M426.5 590v10M426.5 602v4M427.5 590v9M427.5 603v2M428.5 590v8M428.5 603v2M429.5 590v7M429.5 604v1M430.5 590v6M430.5 604v1M431.5 590v4M446.5 608v1M447.5 607v2M448.5 607v2M449.5 607v2M450.5 607v2M451.5 606v2M452.5 606v2M453.5 605v3M454.5 605v2M455.5 604v3M456.5 604v2M457.5 603v3M458.5 603v2M459.5 602v3M460.5 602v2M461.5 601v2M462.5 601v2M463.5 600v2M464.5 600v1M465.5 599v2M466.5 598v2M467.5 597v2M468.5 595v2M469.5 590v4"/>
<path stroke="#f89c1c" d="M426.5 600v2M427.5 599v4M428.5 598v5M429.5 597v7M430.5 596v8M431.5 594v11M432.5 590v14M433.5 590v15M434.5 590v15M435.5 590v9M435.5 602v3M436.5 590v6M436.5 603v2M437.5 603v2M438.5 604v2M439.5 604v2M440.5 605v2M441.5 605v2M442.5 605v2M443.5 605v3M444.5 605v3M445.5 605v3M446.5 605v3M447.5 605v2M448.5 605v2M449.5 605v2M450.5 604v3M451.5 604v2M452.5 603v3M453.5 603v2M454.5 602v3M455.5 602v2M456.5 601v3M457.5 601v2M458.5 600v3M459.5 600v2M460.5 600v2M461.5 599v2M462.5 599v2M463.5 599v1M464.5 598v2M465.5 598v1M466.5 597v1M467.5 595v2M468.5 592v3M469.5 587v3"/>
<path stroke="#f8981b" d="M435.5 599v3M436.5 596v7M437.5 590v13M438.5 590v14M439.5 590v14M440.5 590v15M441.5 590v15M442.5 595v10M443.5 600v5M444.5 601v4M445.5 602v3M446.5 602v3M447.5 602v3M448.5 602v3M449.5 602v3M450.5 602v2M451.5 602v2M452.5 601v2M453.5 601v2M454.5 600v2M455.5 600v2M456.5 599v2M457.5 599v2M458.5 599v1M459.5 598v2M460.5 598v2M461.5 598v1M462.5 598v1M463.5 597v2M464.5 597v1M465.5 596v2M466.5 595v2M467.5 593v2M468.5 589v3"/>
<path stroke="#f89319" d="M442.5 590v5M443.5 590v10M444.5 590v11M445.5 590v12M446.5 594v8M447.5 597v5M448.5 598v4M449.5 599v3M450.5 599v3M451.5 599v3M452.5 598v3M453.5 598v3M454.5 598v2M455.5 598v2M456.5 597v2M457.5 597v2M458.5 597v2M459.5 597v1M460.5 596v2M461.5 596v2M462.5 596v2M463.5 596v1M464.5 596v1M465.5 595v1M466.5 593v2M467.5 591v2M468.5 587v2"/>
<path stroke="#f88e17" d="M446.5 590v4M447.5 590v7M448.5 591v7M449.5 594v5M450.5 595v4M451.5 595v4M452.5 595v3M453.5 596v2M454.5 596v2M455.5 596v2M456.5 596v1M457.5 595v2M458.5 595v2M459.5 595v2M460.5 595v1M461.5 595v1M462.5 595v1M463.5 595v1M464.5 594v2M465.5 593v2M466.5 592v1M467.5 587v4"/>
<path stroke="#f88716" d="M448.5 589v2M449.5 589v5M450.5 589v6M451.5 592v3M452.5 593v2M453.5 593v3M454.5 593v3M455.5 594v2M456.5 594v2M457.5 594v1M458.5 593v2M459.5 593v2M460.5 593v2M461.5 593v2M462.5 593v2M463.5 593v2M464.5 593v1M465.5 592v1M466.5 590v2"/>
<path stroke="#f88114" d="M451.5 589v3M452.5 588v5M453.5 590v3M454.5 591v2M455.5 592v2M456.5 592v2M457.5 592v2M458.5 592v1M459.5 592v1M460.5 592v1M461.5 592v1M462.5 592v1M463.5 592v1M464.5 591v2M465.5 590v2M466.5 587v3"/>
<path stroke="#f87b13" d="M453.5 588v2M454.5 588v3M455.5 588v4M456.5 588v4M457.5 589v3M458.5 590v2M459.5 590v2M460.5 590v2M461.5 590v2M462.5 590v2M463.5 590v2M464.5 590v1M465.5 588v2"/>
<path stroke="#f87511" d="M457.5 588v1M458.5 587v3M459.5 587v3M460.5 587v3M461.5 587v3M462.5 587v3M463.5 587v3M464.5 587v3M465.5 587v1"/>
</g>
<path fill="none" stroke="#111" stroke-width="1.4" stroke-dasharray="1.4 2.07" d="M324.9 588.52L328.37 588.75L331.84 588.99L335.31 591.02L338.78 592.75L342.25 593L345.72 592.71L349.19 591.73L352.66 590.74L356.13 589.68L359.6 588.25L363.07 587.59L366.54 587.1L370.01 587.43L373.48 587.78L376.95 588.2L380.42 588.66L383.89 589.13L387.36 589.61L390.83 590.11L394.3 590.65L397.77 591.1L401.24 591.37L404.71 591.44L408.18 591.51L411.65 591.58L415.12 591.65L418.59 591.72L422.06 591.77L425.53 591.82L429 591.86L432.47 591.9L435.94 591.94L439.41 591.98L442.88 592.02L446.35 591.81L449.82 590.85L453.29 590.07L456.76 589.54L460.23 589.11L463.7 588.84L467.17 588.63L470.64 588.5L474.11 588.53L477.58 588.55L481.05 588.58L484.52 588.6L487.99 588.63L491.46 588.65L494.93 588.68L498.4 588.7L501.87 588.73L505.34 588.78L508.81 589.05L512.28 589.33L515.75 589.55L519.22 589.55L522.69 590.02L526.16 590.09L529.63 589.51L533.1 589.18L536.57 588.89L540.04 588.59"/>
<path d="M324.6 578.05V612.85H542.8" fill="none" stroke="#8c8c8c" stroke-width="1"/>
<path d="M324.6 612.85v2.3M359.27 612.85v2.3M393.93 612.85v2.3M428.6 612.85v2.3M463.27 612.85v2.3M497.93 612.85v2.3M532.6 612.85v2.3M324.6 612.85h-2.3M324.6 595.45h-2.3M324.6 578.05h-2.3" stroke="#555" stroke-width="1"/>
<g font-size="9" fill="#262626" text-anchor="middle">
<text x="324.6" y="628.35">40</text>
<text x="359.27" y="628.35">60</text>
<text x="393.93" y="628.35">80</text>
<text x="428.6" y="628.35">100</text>
<text x="463.27" y="628.35">120</text>
<text x="497.93" y="628.35">140</text>
<text x="532.6" y="628.35">160</text>
</g>
<g font-size="9" fill="#262626" text-anchor="end">
<text x="319" y="616.05">440</text>
<text x="319" y="598.65">450</text>
<text x="319" y="581.25">460</text>
</g>
<text font-size="9" fill="#262626" text-anchor="middle" transform="translate(299.3 595.45) rotate(-90)">height (m)</text>
<text font-size="9" fill="#262626" text-anchor="middle" x="433.7" y="639.85">x (m)</text>
<text font-size="16" font-weight="bold" fill="#000" x="331.8" y="638.85">(h)</text>
<rect x="40.5" y="152" width="493.1" height="8.6" fill="url(#g1)" stroke="#333" stroke-opacity="0.35" stroke-width="0.8"/>
<path d="M122.68 160.6v-5.2M204.87 160.6v-5.2M287.05 160.6v-5.2M369.23 160.6v-5.2M451.42 160.6v-5.2" stroke="#111" stroke-opacity="0.6" stroke-width="0.7"/>
<g font-size="10" fill="#262626" text-anchor="middle">
<text x="40.5" y="175.9">0</text>
<text x="122.68" y="175.9">0.5</text>
<text x="204.87" y="175.9">1</text>
<text x="287.05" y="175.9">1.5</text>
<text x="369.23" y="175.9">2</text>
<text x="451.42" y="175.9">2.5</text>
<text x="533.6" y="175.9">3</text>
</g>
<text font-size="10" fill="#262626" x="249" y="191">log<tspan font-size="9" dx="0.6" dy="4.8">10</tspan><tspan dy="-4.8" dx="2.2" font-style="italic">σ</tspan><tspan dx="1.5">`</tspan><tspan dx="1.5"> (mS/m)</tspan></text>
<rect x="37.7" y="646.6" width="504.2" height="9" fill="url(#g2)" stroke="#333" stroke-opacity="0.35" stroke-width="0.8"/>
<path d="M88.12 655.6v-5.2M138.54 655.6v-5.2M188.96 655.6v-5.2M239.38 655.6v-5.2M289.8 655.6v-5.2M340.22 655.6v-5.2M390.64 655.6v-5.2M441.06 655.6v-5.2M491.48 655.6v-5.2" stroke="#111" stroke-opacity="0.6" stroke-width="0.7"/>
<g font-size="10" fill="#262626" text-anchor="middle">
<text x="37.7" y="670.9">-2</text>
<text x="88.12" y="670.9">-1.5</text>
<text x="138.54" y="670.9">-1</text>
<text x="188.96" y="670.9">-0.5</text>
<text x="239.38" y="670.9">0</text>
<text x="289.8" y="670.9">0.5</text>
<text x="340.22" y="670.9">1</text>
<text x="390.64" y="670.9">1.5</text>
<text x="441.06" y="670.9">2</text>
<text x="491.48" y="670.9">2.5</text>
<text x="541.9" y="670.9">3</text>
</g>
<text font-size="10" fill="#262626" x="250" y="687">log<tspan font-size="9" dx="0.6" dy="4.8">10</tspan><tspan dy="-4.8" dx="2.2" font-style="italic">σ</tspan><tspan dx="1.5">``</tspan><tspan dx="1.5"> (mS/m)</tspan></text>
<g font-size="12.75" font-weight="bold" fill="#000" text-anchor="middle">
<text x="286.5" y="15.7">in-phase conductivity</text>
<text x="280.7" y="268.5">quadrature conductivity</text>
<text x="142.6" y="281.2">P2</text>
<text x="146.5" y="297.4">1 Hz</text>
<text x="424.4" y="278.7">P2b</text>
<text x="426.2" y="294.8">1 Hz</text>
<text x="147.1" y="442.2">7.5 Hz</text>
<text x="433.9" y="442.2">7.5 Hz</text>
<text x="146.9" y="573.5">25 Hz</text>
<text x="433.7" y="573.8">25 Hz</text>
</g>
<g font-size="12.75" fill="#000">
<text x="46" y="54">NW</text>
<text x="236.8" y="43.9">SE</text>
<text x="348" y="56.8">Z1</text>
<text x="479.1" y="52.2">Z5</text>
</g>
<path d="M340.85 51.6H342.95V64.6L345.7 62.3L341.9 71.3L338.1 62.3L340.85 64.6Z" fill="#000" stroke="#fff" stroke-width="2.2" stroke-linejoin="miter" paint-order="stroke"/>
<path d="M471.35 47.1H473.45V59.6L476.6 57.3L472.4 66.3L468.2 57.3L471.35 59.6Z" fill="#000" stroke="#fff" stroke-width="2.2" stroke-linejoin="miter" paint-order="stroke"/>
</svg></body></html>
